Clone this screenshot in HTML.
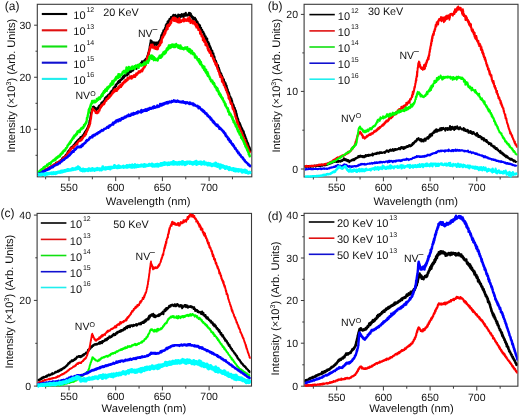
<!DOCTYPE html>
<html><head><meta charset="utf-8"><style>
html,body{margin:0;padding:0;background:#fff;}
body{width:520px;height:415px;overflow:hidden;}
svg{display:block;}
</style></head><body>
<svg width="520" height="415" viewBox="0 0 520 415" font-family='"Liberation Sans", Arial, sans-serif' fill="#111" text-rendering="geometricPrecision">
<rect width="520" height="415" fill="#ffffff"/>
<defs><clipPath id="cA"><rect x="37.6" y="0" width="213.9" height="200"/></clipPath><clipPath id="cB"><rect x="304.4" y="0" width="213.4" height="200"/></clipPath><clipPath id="cC"><rect x="37.4" y="200" width="213.8" height="200"/></clipPath><clipPath id="cD"><rect x="304.4" y="200" width="213.2" height="200"/></clipPath></defs>
<rect x="37.3" y="4.3" width="214.50" height="172.50" fill="none" stroke="#3a3a3a" stroke-width="1.1"/>
<line x1="69.0" y1="176.8" x2="69.0" y2="181.1" stroke="#3a3a3a" stroke-width="1"/>
<text x="69.0" y="191.1" font-size="10.5" text-anchor="middle" >550</text>
<line x1="115.7" y1="176.8" x2="115.7" y2="181.1" stroke="#3a3a3a" stroke-width="1"/>
<text x="115.7" y="191.1" font-size="10.5" text-anchor="middle" >600</text>
<line x1="162.4" y1="176.8" x2="162.4" y2="181.1" stroke="#3a3a3a" stroke-width="1"/>
<text x="162.4" y="191.1" font-size="10.5" text-anchor="middle" >650</text>
<line x1="209.1" y1="176.8" x2="209.1" y2="181.1" stroke="#3a3a3a" stroke-width="1"/>
<text x="209.1" y="191.1" font-size="10.5" text-anchor="middle" >700</text>
<line x1="45.65" y1="176.8" x2="45.65" y2="179.3" stroke="#3a3a3a" stroke-width="1"/>
<line x1="92.35" y1="176.8" x2="92.35" y2="179.3" stroke="#3a3a3a" stroke-width="1"/>
<line x1="139.05" y1="176.8" x2="139.05" y2="179.3" stroke="#3a3a3a" stroke-width="1"/>
<line x1="185.75" y1="176.8" x2="185.75" y2="179.3" stroke="#3a3a3a" stroke-width="1"/>
<line x1="232.45" y1="176.8" x2="232.45" y2="179.3" stroke="#3a3a3a" stroke-width="1"/>
<line x1="34.1" y1="25.2" x2="37.3" y2="25.2" stroke="#3a3a3a" stroke-width="1"/>
<text x="31.2" y="28.8" font-size="10.5" text-anchor="end" >30</text>
<line x1="34.1" y1="77.25" x2="37.3" y2="77.25" stroke="#3a3a3a" stroke-width="1"/>
<text x="31.2" y="80.8" font-size="10.5" text-anchor="end" >20</text>
<line x1="34.1" y1="129.3" x2="37.3" y2="129.3" stroke="#3a3a3a" stroke-width="1"/>
<text x="31.2" y="132.9" font-size="10.5" text-anchor="end" >10</text>
<line x1="35.5" y1="51.2" x2="37.3" y2="51.2" stroke="#3a3a3a" stroke-width="1"/>
<line x1="35.5" y1="103.3" x2="37.3" y2="103.3" stroke="#3a3a3a" stroke-width="1"/>
<line x1="35.5" y1="155.3" x2="37.3" y2="155.3" stroke="#3a3a3a" stroke-width="1"/>
<text x="148.1" y="205.0" font-size="11" text-anchor="middle" textLength="84.6" lengthAdjust="spacingAndGlyphs">Wavelength (nm)</text>
<text x="15.0" y="85.6" font-size="11" text-anchor="middle" transform="rotate(-90 15.0 85.6)" textLength="133.8" lengthAdjust="spacingAndGlyphs">Intensity (×10<tspan font-size="7" dy="-4">3</tspan><tspan dy="4">) (Arb. Units)</tspan></text>
<text x="4.8" y="10.2" font-size="12" text-anchor="start" >(a)</text>
<rect x="304.1" y="4.3" width="213.90" height="172.70" fill="none" stroke="#3a3a3a" stroke-width="1.1"/>
<line x1="336.7" y1="177.0" x2="336.7" y2="181.3" stroke="#3a3a3a" stroke-width="1"/>
<text x="336.7" y="191.3" font-size="10.5" text-anchor="middle" >550</text>
<line x1="383.4" y1="177.0" x2="383.4" y2="181.3" stroke="#3a3a3a" stroke-width="1"/>
<text x="383.4" y="191.3" font-size="10.5" text-anchor="middle" >600</text>
<line x1="430.1" y1="177.0" x2="430.1" y2="181.3" stroke="#3a3a3a" stroke-width="1"/>
<text x="430.1" y="191.3" font-size="10.5" text-anchor="middle" >650</text>
<line x1="476.8" y1="177.0" x2="476.8" y2="181.3" stroke="#3a3a3a" stroke-width="1"/>
<text x="476.8" y="191.3" font-size="10.5" text-anchor="middle" >700</text>
<line x1="313.35" y1="177.0" x2="313.35" y2="179.5" stroke="#3a3a3a" stroke-width="1"/>
<line x1="360.05" y1="177.0" x2="360.05" y2="179.5" stroke="#3a3a3a" stroke-width="1"/>
<line x1="406.75" y1="177.0" x2="406.75" y2="179.5" stroke="#3a3a3a" stroke-width="1"/>
<line x1="453.45" y1="177.0" x2="453.45" y2="179.5" stroke="#3a3a3a" stroke-width="1"/>
<line x1="500.15" y1="177.0" x2="500.15" y2="179.5" stroke="#3a3a3a" stroke-width="1"/>
<line x1="300.9" y1="14.4" x2="304.1" y2="14.4" stroke="#3a3a3a" stroke-width="1"/>
<text x="298.0" y="18.0" font-size="10.5" text-anchor="end" >20</text>
<line x1="300.9" y1="91.4" x2="304.1" y2="91.4" stroke="#3a3a3a" stroke-width="1"/>
<text x="298.0" y="95.0" font-size="10.5" text-anchor="end" >10</text>
<line x1="300.9" y1="169.0" x2="304.1" y2="169.0" stroke="#3a3a3a" stroke-width="1"/>
<text x="298.0" y="172.6" font-size="10.5" text-anchor="end" >0</text>
<line x1="302.3" y1="52.9" x2="304.1" y2="52.9" stroke="#3a3a3a" stroke-width="1"/>
<line x1="302.3" y1="130.2" x2="304.1" y2="130.2" stroke="#3a3a3a" stroke-width="1"/>
<text x="415.75" y="204.7" font-size="11" text-anchor="middle" textLength="84.6" lengthAdjust="spacingAndGlyphs">Wavelength (nm)</text>
<text x="280.0" y="85.7" font-size="11" text-anchor="middle" transform="rotate(-90 280.0 85.7)" textLength="133.8" lengthAdjust="spacingAndGlyphs">Intensity (×10<tspan font-size="7" dy="-4">3</tspan><tspan dy="4">) (Arb. Units)</tspan></text>
<text x="267.8" y="9.6" font-size="12" text-anchor="start" >(b)</text>
<rect x="37.1" y="213.4" width="214.40" height="172.70" fill="none" stroke="#3a3a3a" stroke-width="1.1"/>
<line x1="69.0" y1="386.1" x2="69.0" y2="390.4" stroke="#3a3a3a" stroke-width="1"/>
<text x="69.0" y="400.4" font-size="10.5" text-anchor="middle" >550</text>
<line x1="115.7" y1="386.1" x2="115.7" y2="390.4" stroke="#3a3a3a" stroke-width="1"/>
<text x="115.7" y="400.4" font-size="10.5" text-anchor="middle" >600</text>
<line x1="162.4" y1="386.1" x2="162.4" y2="390.4" stroke="#3a3a3a" stroke-width="1"/>
<text x="162.4" y="400.4" font-size="10.5" text-anchor="middle" >650</text>
<line x1="209.1" y1="386.1" x2="209.1" y2="390.4" stroke="#3a3a3a" stroke-width="1"/>
<text x="209.1" y="400.4" font-size="10.5" text-anchor="middle" >700</text>
<line x1="45.65" y1="386.1" x2="45.65" y2="388.6" stroke="#3a3a3a" stroke-width="1"/>
<line x1="92.35" y1="386.1" x2="92.35" y2="388.6" stroke="#3a3a3a" stroke-width="1"/>
<line x1="139.05" y1="386.1" x2="139.05" y2="388.6" stroke="#3a3a3a" stroke-width="1"/>
<line x1="185.75" y1="386.1" x2="185.75" y2="388.6" stroke="#3a3a3a" stroke-width="1"/>
<line x1="232.45" y1="386.1" x2="232.45" y2="388.6" stroke="#3a3a3a" stroke-width="1"/>
<line x1="33.9" y1="215.1" x2="37.1" y2="215.1" stroke="#3a3a3a" stroke-width="1"/>
<text x="31.0" y="218.7" font-size="10.5" text-anchor="end" >40</text>
<line x1="33.9" y1="300.4" x2="37.1" y2="300.4" stroke="#3a3a3a" stroke-width="1"/>
<text x="31.0" y="304.0" font-size="10.5" text-anchor="end" >20</text>
<line x1="33.9" y1="386.1" x2="37.1" y2="386.1" stroke="#3a3a3a" stroke-width="1"/>
<text x="31.0" y="389.7" font-size="10.5" text-anchor="end" >0</text>
<line x1="35.3" y1="257.8" x2="37.1" y2="257.8" stroke="#3a3a3a" stroke-width="1"/>
<line x1="35.3" y1="343.3" x2="37.1" y2="343.3" stroke="#3a3a3a" stroke-width="1"/>
<text x="143.85" y="412.0" font-size="11" text-anchor="middle" textLength="84.6" lengthAdjust="spacingAndGlyphs">Wavelength (nm)</text>
<text x="13.2" y="301.6" font-size="11" text-anchor="middle" transform="rotate(-90 13.2 301.6)" textLength="133.8" lengthAdjust="spacingAndGlyphs">Intensity (×10<tspan font-size="7" dy="-4">3</tspan><tspan dy="4">) (Arb. Units)</tspan></text>
<text x="0.6" y="217.0" font-size="12" text-anchor="start" >(c)</text>
<rect x="304.1" y="213.3" width="213.80" height="172.90" fill="none" stroke="#3a3a3a" stroke-width="1.1"/>
<line x1="336.7" y1="386.2" x2="336.7" y2="390.5" stroke="#3a3a3a" stroke-width="1"/>
<text x="336.7" y="400.5" font-size="10.5" text-anchor="middle" >550</text>
<line x1="383.4" y1="386.2" x2="383.4" y2="390.5" stroke="#3a3a3a" stroke-width="1"/>
<text x="383.4" y="400.5" font-size="10.5" text-anchor="middle" >600</text>
<line x1="430.1" y1="386.2" x2="430.1" y2="390.5" stroke="#3a3a3a" stroke-width="1"/>
<text x="430.1" y="400.5" font-size="10.5" text-anchor="middle" >650</text>
<line x1="476.8" y1="386.2" x2="476.8" y2="390.5" stroke="#3a3a3a" stroke-width="1"/>
<text x="476.8" y="400.5" font-size="10.5" text-anchor="middle" >700</text>
<line x1="313.35" y1="386.2" x2="313.35" y2="388.7" stroke="#3a3a3a" stroke-width="1"/>
<line x1="360.05" y1="386.2" x2="360.05" y2="388.7" stroke="#3a3a3a" stroke-width="1"/>
<line x1="406.75" y1="386.2" x2="406.75" y2="388.7" stroke="#3a3a3a" stroke-width="1"/>
<line x1="453.45" y1="386.2" x2="453.45" y2="388.7" stroke="#3a3a3a" stroke-width="1"/>
<line x1="500.15" y1="386.2" x2="500.15" y2="388.7" stroke="#3a3a3a" stroke-width="1"/>
<line x1="300.9" y1="215.5" x2="304.1" y2="215.5" stroke="#3a3a3a" stroke-width="1"/>
<text x="298.0" y="219.1" font-size="10.5" text-anchor="end" >40</text>
<line x1="300.9" y1="258.0" x2="304.1" y2="258.0" stroke="#3a3a3a" stroke-width="1"/>
<text x="298.0" y="261.6" font-size="10.5" text-anchor="end" >30</text>
<line x1="300.9" y1="300.5" x2="304.1" y2="300.5" stroke="#3a3a3a" stroke-width="1"/>
<text x="298.0" y="304.1" font-size="10.5" text-anchor="end" >20</text>
<line x1="300.9" y1="343.2" x2="304.1" y2="343.2" stroke="#3a3a3a" stroke-width="1"/>
<text x="298.0" y="346.8" font-size="10.5" text-anchor="end" >10</text>
<line x1="300.9" y1="386.2" x2="304.1" y2="386.2" stroke="#3a3a3a" stroke-width="1"/>
<text x="298.0" y="389.8" font-size="10.5" text-anchor="end" >0</text>
<line x1="302.3" y1="236.8" x2="304.1" y2="236.8" stroke="#3a3a3a" stroke-width="1"/>
<line x1="302.3" y1="279.3" x2="304.1" y2="279.3" stroke="#3a3a3a" stroke-width="1"/>
<line x1="302.3" y1="322.0" x2="304.1" y2="322.0" stroke="#3a3a3a" stroke-width="1"/>
<line x1="302.3" y1="364.8" x2="304.1" y2="364.8" stroke="#3a3a3a" stroke-width="1"/>
<text x="411.5" y="412.2" font-size="11" text-anchor="middle" textLength="84.6" lengthAdjust="spacingAndGlyphs">Wavelength (nm)</text>
<text x="279.2" y="308.5" font-size="11" text-anchor="middle" transform="rotate(-90 279.2 308.5)" textLength="133.8" lengthAdjust="spacingAndGlyphs">Intensity (×10<tspan font-size="7" dy="-4">3</tspan><tspan dy="4">) (Arb. Units)</tspan></text>
<text x="267.8" y="220.0" font-size="12" text-anchor="start" >(d)</text>
<path d="M38.1 174.3 38.2 174.3 38.4 174.1 38.6 173.8 38.8 173.8 39.1 173.5 39.4 173.6 39.6 173.8 39.9 173.2 40.1 173.0 40.4 173.1 40.7 172.9 40.9 172.7 41.2 172.3 41.4 172.4 41.7 172.4 42.0 171.7 42.2 171.8 42.5 171.2 42.7 171.3 43.0 170.9 43.3 171.3 43.5 170.8 43.8 171.1 44.0 170.9 44.3 170.7 44.6 169.8 44.8 170.3 45.1 170.3 45.3 170.2 45.6 169.5 45.9 169.7 46.1 169.4 46.4 169.3 46.6 169.7 46.9 169.0 47.1 169.1 47.4 169.2 47.7 168.6 47.9 168.6 48.2 168.5 48.4 168.3 48.7 167.8 49.0 168.0 49.2 168.3 49.5 167.2 49.7 167.8 50.0 167.4 50.3 167.0 50.5 167.8 50.8 167.2 51.0 166.4 51.3 166.7 51.6 166.7 51.8 166.3 52.1 166.4 52.3 166.0 52.6 166.1 52.8 166.2 53.1 165.3 53.3 165.5 53.6 165.1 53.8 165.1 54.1 164.5 54.3 164.5 54.6 164.5 54.9 164.7 55.1 164.6 55.4 163.6 55.6 163.6 55.9 164.0 56.1 162.9 56.4 163.3 56.6 163.2 56.9 163.6 57.1 163.2 57.4 162.7 57.6 162.5 57.9 162.4 58.1 162.8 58.4 162.0 58.6 161.8 58.9 161.9 59.1 161.6 59.4 161.4 59.6 160.9 59.9 161.1 60.1 160.8 60.3 161.2 60.6 160.8 60.8 160.3 61.0 160.4 61.2 159.8 61.4 160.1 61.6 159.5 61.9 159.5 62.1 158.6 62.3 159.0 62.5 158.0 62.7 157.7 62.9 158.1 63.2 157.7 63.4 157.9 63.6 158.5 63.8 157.1 64.0 157.0 64.2 157.1 64.5 157.0 64.7 156.5 64.9 156.3 65.1 156.4 65.3 156.2 65.5 155.3 65.7 155.5 65.9 155.3 66.1 154.6 66.3 155.0 66.5 154.3 66.7 154.8 66.9 154.2 67.0 153.9 67.2 153.4 67.4 153.3 67.5 152.3 67.7 152.4 67.9 152.8 68.0 151.5 68.2 152.5 68.3 151.1 68.5 152.0 68.7 151.0 68.8 151.5 69.0 150.9 69.2 150.0 69.3 150.9 69.5 150.8 69.7 149.8 69.8 149.5 70.0 149.3 70.2 148.7 70.3 149.4 70.5 148.4 70.7 148.4 70.9 147.8 71.1 147.6 71.3 147.1 71.5 148.1 71.7 147.2 71.9 147.5 72.1 146.9 72.3 146.4 72.6 146.3 72.8 146.0 73.0 146.1 73.2 145.7 73.4 145.5 73.7 144.8 73.9 144.9 74.1 145.8 74.3 144.5 74.5 144.1 74.7 144.5 74.9 144.8 75.1 143.2 75.3 143.6 75.5 143.2 75.7 142.4 75.9 143.4 76.1 142.8 76.2 142.6 76.4 141.9 76.6 142.3 76.8 141.6 77.0 141.5 77.2 140.8 77.3 140.5 77.5 141.5 77.7 140.4 77.9 140.5 78.1 140.1 78.3 139.7 78.5 139.5 78.7 139.8 78.9 139.1 79.1 139.0 79.3 138.9 79.6 139.3 79.8 138.8 80.0 138.5 80.2 137.8 80.5 137.2 80.7 138.2 80.9 138.0 81.1 137.2 81.4 137.4 81.6 137.3 81.8 137.1 82.0 137.0 82.3 136.1 82.5 136.9 82.7 135.2 82.9 136.1 83.1 135.7 83.3 135.7 83.5 136.0 83.7 135.6 83.9 133.9 84.0 133.4 84.2 134.5 84.4 133.3 84.5 133.5 84.7 133.7 84.9 132.2 85.1 131.7 85.2 132.7 85.4 132.3 85.6 131.9 85.7 131.8 85.9 131.1 86.1 130.5 86.2 131.0 86.3 130.2 86.5 129.6 86.6 130.5 86.7 129.9 86.9 129.9 87.0 128.9 87.1 128.8 87.2 128.3 87.3 128.1 87.4 128.4 87.6 127.6 87.7 128.0 87.8 127.7 87.9 128.4 88.0 126.2 88.2 127.2 88.3 126.3 88.4 126.1 88.5 125.0 88.6 125.3 88.7 125.7 88.9 125.0 89.0 124.8 89.1 124.3 89.2 124.8 89.3 123.9 89.3 122.3 89.4 122.9 89.5 121.9 89.5 120.8 89.6 122.1 89.6 122.9 89.7 121.9 89.7 120.8 89.8 120.7 89.8 121.6 89.9 120.7 89.9 120.4 90.0 120.0 90.1 119.8 90.1 119.9 90.2 119.5 90.2 119.0 90.3 117.9 90.3 118.6 90.4 117.6 90.4 118.4 90.5 116.6 90.5 117.0 90.6 116.8 90.6 115.7 90.7 117.3 90.7 116.8 90.8 115.3 90.8 115.8 90.9 115.3 90.9 113.1 91.0 114.6 91.0 114.1 91.1 113.9 91.1 112.9 91.2 113.1 91.3 112.8 91.3 113.4 91.4 112.6 91.4 112.1 91.5 112.8 91.5 111.1 91.6 110.9 91.7 109.7 91.8 111.6 91.8 110.9 91.9 110.6 92.0 110.2 92.1 109.5 92.2 109.3 92.3 108.7 92.4 108.5 92.5 108.4 92.6 109.0 92.7 108.1 92.8 107.5 92.9 106.9 93.0 106.8 93.1 108.2 93.3 107.4 93.4 107.2 93.6 107.0 93.8 106.6 94.0 107.5 94.1 108.4 94.3 107.8 94.5 108.1 94.7 108.4 94.9 108.8 95.1 107.8 95.3 108.8 95.5 108.5 95.8 109.7 96.0 108.6 96.3 109.4 96.5 110.0 96.8 108.6 97.0 108.3 97.3 108.6 97.5 108.3 97.7 107.5 97.9 108.2 98.1 109.0 98.3 107.3 98.5 107.1 98.7 106.3 98.9 107.0 99.1 105.7 99.3 105.6 99.5 107.0 99.7 105.3 99.9 106.4 100.0 106.4 100.2 105.3 100.4 105.3 100.6 106.0 100.8 104.3 101.0 103.8 101.2 103.1 101.4 103.8 101.6 104.6 101.8 104.0 101.9 102.4 102.1 102.3 102.3 102.3 102.5 102.6 102.7 102.0 102.9 102.1 103.1 101.9 103.3 101.3 103.5 101.2 103.7 101.2 103.9 100.7 104.1 100.9 104.3 101.6 104.5 100.5 104.6 99.9 104.8 98.5 105.0 99.7 105.2 97.8 105.4 97.9 105.6 99.3 105.8 99.0 106.0 98.1 106.2 96.8 106.4 97.5 106.6 97.1 106.8 97.8 107.0 98.7 107.2 97.0 107.4 96.1 107.6 95.6 107.8 96.2 108.0 95.9 108.2 94.9 108.4 95.6 108.6 94.5 108.8 95.9 109.0 95.6 109.2 95.4 109.4 94.1 109.6 94.6 109.8 93.9 110.0 93.5 110.2 93.3 110.4 92.4 110.6 92.0 110.8 93.4 111.0 92.5 111.2 92.6 111.4 92.9 111.6 90.7 111.8 91.1 112.0 91.6 112.1 91.5 112.3 90.7 112.5 91.5 112.7 90.7 112.9 89.4 113.0 89.4 113.2 90.4 113.4 89.9 113.5 87.9 113.7 90.0 113.8 89.2 114.0 89.5 114.2 88.0 114.3 87.8 114.5 86.9 114.7 89.4 114.8 87.2 115.0 88.2 115.2 86.3 115.3 86.7 115.5 85.0 115.7 85.7 115.8 86.5 116.0 84.6 116.2 86.1 116.3 85.3 116.5 84.0 116.7 84.2 116.8 83.9 117.0 84.0 117.2 83.4 117.4 83.0 117.6 83.1 117.8 82.4 118.0 81.9 118.2 82.7 118.4 83.2 118.6 81.1 118.8 82.1 119.0 81.3 119.2 80.9 119.4 82.1 119.7 80.8 119.9 82.1 120.1 80.1 120.3 80.8 120.5 80.1 120.7 79.5 120.9 80.3 121.1 79.5 121.3 79.9 121.5 79.2 121.7 78.2 121.9 78.7 122.2 78.6 122.4 79.1 122.6 77.5 122.8 77.9 123.0 76.4 123.3 78.1 123.5 76.5 123.7 75.7 123.9 76.9 124.1 77.6 124.4 75.3 124.6 75.5 124.8 75.5 125.0 75.0 125.2 76.0 125.5 74.9 125.7 74.7 125.9 75.6 126.1 74.3 126.3 75.1 126.6 73.7 126.8 73.3 127.0 72.6 127.2 75.4 127.4 73.4 127.7 73.7 127.9 73.3 128.1 73.2 128.3 72.9 128.5 74.2 128.8 71.6 129.0 71.0 129.2 71.3 129.5 70.8 129.7 72.3 129.9 72.2 130.2 70.6 130.4 70.1 130.7 70.7 130.9 72.0 131.2 68.4 131.4 71.0 131.7 69.5 131.9 71.1 132.2 69.1 132.4 69.6 132.7 68.5 132.9 68.7 133.2 70.5 133.4 69.9 133.7 68.7 133.9 68.2 134.2 67.1 134.4 68.2 134.7 68.4 134.9 68.2 135.2 68.0 135.4 67.0 135.7 67.7 136.0 67.5 136.2 68.5 136.5 68.8 136.7 67.0 137.0 66.3 137.2 66.7 137.5 66.1 137.7 65.8 138.0 66.2 138.2 65.2 138.5 66.4 138.7 65.7 138.9 65.8 139.2 65.2 139.4 64.6 139.7 64.2 139.9 64.7 140.1 64.2 140.4 64.7 140.6 64.3 140.9 63.0 141.1 64.0 141.3 62.6 141.6 63.0 141.8 63.1 142.0 61.4 142.3 63.1 142.5 62.9 142.7 62.5 143.0 62.1 143.2 61.9 143.4 61.2 143.7 61.6 143.9 61.2 144.2 61.6 144.4 60.3 144.6 61.3 144.9 61.1 145.1 60.6 145.3 60.2 145.5 60.8 145.7 58.7 145.9 60.3 146.0 59.8 146.2 59.6 146.3 59.5 146.5 58.3 146.6 58.4 146.7 58.9 146.9 58.4 147.0 58.0 147.1 56.2 147.3 57.7 147.4 58.0 147.5 57.6 147.7 56.6 147.8 54.8 147.9 56.7 148.0 55.5 148.1 53.1 148.2 55.4 148.3 53.4 148.4 53.3 148.4 53.6 148.5 55.0 148.6 53.3 148.6 53.5 148.7 54.6 148.7 54.1 148.8 52.3 148.8 51.9 148.9 50.7 149.0 50.9 149.0 51.6 149.1 51.3 149.1 50.7 149.2 51.3 149.2 49.4 149.3 49.7 149.4 50.1 149.4 49.7 149.5 49.9 149.5 48.9 149.6 48.0 149.6 48.3 149.7 46.8 149.8 45.9 149.8 47.6 149.9 46.8 149.9 46.8 150.0 44.7 150.1 45.6 150.1 45.1 150.2 44.5 150.3 43.0 150.3 44.4 150.4 45.3 150.4 44.5 150.5 43.3 150.6 43.6 150.6 44.0 150.7 40.4 150.7 42.6 150.8 42.9 150.9 42.8 151.0 43.5 151.1 42.8 151.2 41.9 151.3 41.8 151.5 42.3 151.7 41.1 151.8 41.6 152.1 42.7 152.3 43.9 152.5 42.1 152.7 42.4 153.0 42.8 153.2 44.1 153.4 43.0 153.7 44.6 153.9 42.4 154.1 43.3 154.4 43.4 154.7 44.5 154.9 44.8 155.2 42.5 155.5 43.1 155.8 44.3 156.1 43.3 156.4 42.5 156.7 44.9 156.9 44.3 157.2 44.2 157.4 43.2 157.7 44.5 157.9 43.1 158.1 44.2 158.3 42.1 158.5 41.9 158.7 42.7 158.9 41.6 159.1 42.7 159.3 42.0 159.4 40.7 159.6 41.4 159.7 40.7 159.8 41.6 160.0 39.9 160.1 39.8 160.2 41.1 160.3 41.8 160.4 41.3 160.5 39.1 160.6 39.0 160.7 40.0 160.8 38.1 160.9 37.0 161.0 37.8 161.1 37.8 161.2 36.3 161.3 35.2 161.4 35.1 161.5 36.9 161.6 35.2 161.7 35.5 161.8 35.6 161.9 35.7 162.0 34.5 162.1 35.1 162.3 33.4 162.4 33.7 162.5 32.8 162.6 34.6 162.8 33.2 162.9 32.2 163.0 32.3 163.1 32.2 163.3 32.8 163.4 30.3 163.5 30.6 163.6 30.9 163.8 33.5 163.9 31.7 164.0 30.4 164.2 30.9 164.3 32.0 164.4 29.4 164.6 29.0 164.7 30.3 164.8 29.4 165.0 29.3 165.1 27.8 165.2 30.0 165.4 29.5 165.5 28.1 165.6 28.0 165.8 25.0 165.9 27.4 166.1 26.3 166.2 26.6 166.3 26.6 166.5 25.3 166.6 23.7 166.8 25.5 167.0 24.2 167.1 24.3 167.3 23.8 167.4 23.8 167.6 21.6 167.8 24.9 167.9 23.6 168.1 24.3 168.3 24.9 168.4 22.7 168.6 20.5 168.7 21.2 168.9 20.6 169.1 21.1 169.2 21.5 169.4 19.1 169.6 21.2 169.7 19.1 169.9 20.7 170.1 20.0 170.2 19.5 170.4 19.5 170.6 18.8 170.7 18.5 170.9 17.1 171.1 18.6 171.2 20.3 171.4 20.2 171.6 19.3 171.7 18.4 171.9 16.7 172.1 18.6 172.3 16.8 172.4 16.6 172.6 16.1 172.8 16.3 173.0 15.6 173.2 15.8 173.4 14.7 173.7 15.4 173.9 18.2 174.2 15.7 174.5 15.6 174.8 16.5 175.0 16.8 175.3 14.9 175.6 16.0 175.9 17.2 176.2 16.6 176.5 16.6 176.8 18.1 177.1 15.9 177.4 16.7 177.7 16.1 177.9 18.2 178.2 14.6 178.5 16.0 178.8 16.1 179.1 17.3 179.4 17.2 179.7 17.9 180.0 14.8 180.3 17.2 180.6 16.0 180.9 15.6 181.2 16.8 181.5 15.2 181.8 14.0 182.1 15.7 182.4 14.5 182.7 15.3 183.0 16.3 183.2 16.1 183.5 17.4 183.8 15.4 184.1 13.9 184.4 14.6 184.7 14.4 185.0 13.9 185.2 15.6 185.5 14.3 185.8 12.8 186.1 15.6 186.4 14.6 186.7 15.0 186.9 14.7 187.2 15.2 187.5 14.5 187.8 15.6 188.1 14.7 188.4 14.6 188.7 14.6 189.0 12.7 189.2 14.1 189.5 14.0 189.7 14.6 190.0 13.1 190.2 16.4 190.4 15.0 190.6 13.9 190.8 13.6 191.0 15.3 191.2 15.7 191.4 15.3 191.6 16.4 191.8 15.8 192.0 17.3 192.1 16.2 192.3 17.1 192.5 18.4 192.7 20.3 192.9 16.8 193.1 17.6 193.3 17.4 193.5 19.3 193.7 17.6 193.9 18.5 194.1 19.1 194.4 18.4 194.6 18.6 194.8 19.3 195.0 17.9 195.2 18.8 195.4 20.1 195.6 20.9 195.8 20.7 196.0 19.3 196.2 20.9 196.4 22.4 196.6 22.4 196.8 21.9 197.0 21.3 197.2 23.1 197.4 22.1 197.5 21.8 197.7 22.4 197.9 24.9 198.0 23.9 198.2 25.2 198.3 23.8 198.5 25.4 198.7 24.1 198.8 24.9 199.0 27.8 199.1 26.3 199.3 25.3 199.4 26.0 199.6 26.6 199.7 27.8 199.9 26.3 200.0 25.3 200.2 27.0 200.4 27.6 200.5 28.0 200.7 29.4 200.8 28.7 201.0 29.4 201.1 27.8 201.3 30.0 201.4 31.5 201.6 30.4 201.7 30.2 201.9 30.3 202.0 32.2 202.1 29.8 202.3 30.9 202.4 31.7 202.6 32.2 202.7 31.4 202.8 32.3 203.0 32.0 203.1 32.7 203.2 32.7 203.4 32.0 203.5 33.4 203.7 34.5 203.8 33.0 203.9 33.9 204.1 35.1 204.2 33.7 204.4 35.2 204.5 34.2 204.6 36.6 204.8 38.0 204.9 38.0 205.1 36.1 205.2 37.3 205.3 37.0 205.5 37.2 205.6 38.9 205.7 36.4 205.9 38.9 206.0 38.1 206.2 39.8 206.3 38.9 206.4 38.3 206.5 39.5 206.7 40.2 206.8 39.8 206.9 40.5 207.0 39.8 207.2 38.6 207.3 41.7 207.4 41.8 207.6 41.6 207.7 41.8 207.8 43.0 207.9 41.8 208.1 41.9 208.2 42.6 208.3 44.2 208.4 42.0 208.6 44.7 208.7 43.3 208.8 43.1 208.9 45.6 209.1 44.6 209.2 43.8 209.3 44.9 209.4 46.4 209.6 46.9 209.7 45.7 209.8 46.7 209.9 47.3 210.1 46.3 210.2 47.5 210.3 47.4 210.4 47.2 210.6 47.5 210.7 48.3 210.8 48.6 210.9 48.3 211.0 48.7 211.1 50.4 211.3 49.8 211.4 50.7 211.5 51.3 211.6 51.0 211.7 52.8 211.8 50.3 211.9 52.1 212.0 51.3 212.1 53.6 212.2 53.7 212.3 50.7 212.4 51.9 212.5 53.6 212.7 54.0 212.8 54.2 212.9 53.8 213.0 54.5 213.1 55.0 213.2 54.6 213.3 55.9 213.4 53.2 213.5 56.1 213.6 54.9 213.7 56.9 213.8 56.2 213.9 55.9 214.0 57.3 214.2 56.4 214.3 56.7 214.4 56.4 214.5 58.0 214.6 58.8 214.7 59.5 214.8 58.8 214.9 60.1 215.0 59.5 215.1 59.7 215.2 60.5 215.3 61.2 215.4 60.3 215.5 60.6 215.7 61.0 215.8 61.5 215.9 60.9 216.0 62.9 216.1 61.9 216.2 62.9 216.3 62.1 216.4 63.4 216.5 63.7 216.6 63.3 216.7 65.7 216.9 64.5 217.0 66.0 217.1 65.6 217.2 64.5 217.3 65.0 217.4 66.0 217.5 65.9 217.6 66.2 217.7 66.2 217.8 65.2 217.9 66.8 218.1 65.4 218.2 67.9 218.3 67.2 218.4 67.5 218.5 68.2 218.6 68.9 218.7 67.8 218.8 67.8 218.9 68.7 219.0 68.1 219.1 69.3 219.2 71.7 219.4 69.8 219.5 71.5 219.6 70.1 219.7 71.7 219.8 71.5 219.9 72.0 220.0 72.8 220.1 74.0 220.3 73.0 220.4 73.3 220.5 72.6 220.6 74.2 220.7 73.8 220.9 74.9 221.0 74.5 221.1 76.2 221.2 73.5 221.4 75.1 221.5 76.3 221.6 75.6 221.7 75.5 221.8 76.2 222.0 75.6 222.1 77.1 222.2 79.2 222.3 78.5 222.5 76.9 222.6 77.4 222.7 78.0 222.8 79.4 222.9 78.3 223.1 78.6 223.2 80.2 223.3 80.4 223.4 79.7 223.6 79.4 223.7 79.3 223.8 80.3 223.9 79.4 224.1 82.0 224.2 81.2 224.3 82.3 224.4 83.7 224.5 83.4 224.7 81.9 224.8 83.7 224.9 84.2 225.0 83.0 225.2 83.1 225.3 84.0 225.4 83.2 225.5 85.8 225.6 83.1 225.8 84.4 225.9 85.3 226.0 85.6 226.1 86.2 226.2 86.5 226.3 86.4 226.5 87.7 226.6 85.6 226.7 87.4 226.8 87.2 226.9 88.1 227.0 88.5 227.1 87.9 227.2 88.4 227.3 89.7 227.4 89.7 227.5 89.2 227.6 91.5 227.7 92.0 227.8 89.5 227.9 91.0 228.0 92.9 228.1 92.0 228.2 91.8 228.3 91.8 228.5 91.8 228.6 92.4 228.7 92.4 228.8 93.6 228.9 93.1 229.0 93.3 229.1 93.0 229.2 94.2 229.3 93.8 229.4 94.6 229.5 95.8 229.6 95.6 229.7 96.0 229.8 96.1 229.9 96.2 230.0 96.4 230.1 96.5 230.2 97.5 230.3 96.5 230.5 98.5 230.6 97.9 230.7 97.6 230.8 98.1 230.9 98.2 231.0 99.1 231.1 98.8 231.2 100.3 231.3 99.3 231.4 98.5 231.5 99.9 231.6 99.3 231.7 100.9 231.8 102.0 231.9 101.9 232.1 100.9 232.2 101.5 232.3 103.6 232.4 102.8 232.5 102.9 232.6 103.9 232.7 105.1 232.8 104.6 232.9 104.1 233.0 104.5 233.1 105.0 233.2 104.5 233.3 104.4 233.4 105.5 233.6 105.1 233.7 105.9 233.8 106.3 233.9 108.1 234.0 106.3 234.1 107.0 234.2 107.3 234.3 108.0 234.4 108.6 234.5 107.9 234.6 108.0 234.7 107.7 234.8 108.5 234.9 109.7 235.1 109.7 235.2 109.3 235.3 110.0 235.4 110.5 235.5 111.1 235.6 110.7 235.6 111.2 235.7 110.5 235.8 111.2 235.9 113.2 236.0 111.1 236.1 112.6 236.1 113.2 236.2 113.1 236.3 113.1 236.4 113.9 236.5 114.2 236.6 114.5 236.6 113.6 236.7 115.0 236.8 114.8 236.9 115.3 237.0 116.1 237.1 116.6 237.1 117.1 237.2 116.5 237.3 117.7 237.4 118.1 237.5 118.4 237.6 118.8 237.6 118.2 237.7 118.4 237.8 119.3 237.9 118.3 238.0 119.5 238.1 119.4 238.1 119.8 238.2 119.2 238.3 120.0 238.4 120.8 238.5 121.7 238.6 122.0 238.7 121.7 238.8 121.9 238.9 121.8 239.0 122.8 239.2 122.7 239.3 123.4 239.4 124.4 239.5 123.6 239.7 123.0 239.8 123.7 239.9 123.6 240.1 124.0 240.2 125.7 240.3 125.4 240.4 124.6 240.6 126.2 240.7 126.8 240.8 126.1 241.0 126.2 241.1 126.7 241.2 127.3 241.3 127.8 241.5 128.4 241.6 128.6 241.7 128.9 241.8 129.3 242.0 129.2 242.1 128.2 242.2 129.3 242.4 129.8 242.5 129.7 242.6 130.6 242.7 130.2 242.9 130.2 243.0 131.7 243.1 131.6 243.2 131.6 243.3 132.3 243.5 132.6 243.6 132.5 243.7 131.3 243.8 132.5 243.9 132.9 244.0 132.9 244.1 133.9 244.2 134.7 244.3 134.0 244.4 134.0 244.5 135.9 244.6 134.9 244.8 134.8 244.9 135.8 245.0 136.2 245.1 135.9 245.2 137.0 245.3 136.6 245.4 136.6 245.5 137.5 245.6 138.1 245.7 137.6 245.8 138.4 245.9 138.5 246.0 140.2 246.2 138.7 246.3 140.0 246.4 139.6 246.5 139.8 246.6 140.5 246.7 140.9 246.8 141.4 246.9 141.2 247.0 141.0 247.1 141.3 247.2 142.1 247.3 142.4 247.4 143.1 247.6 142.9 247.7 143.5 247.8 144.0 247.9 143.6 248.0 143.1 248.1 143.6 248.2 143.7 248.3 145.4 248.4 144.6 248.5 145.8 248.6 145.8 248.7 146.6 248.9 146.5 249.0 146.3 249.1 146.5 249.2 147.0 249.3 147.3 249.4 147.2 249.5 147.7 249.6 148.8 249.7 147.5 249.8 148.7 249.9 148.5 250.0 149.2 250.1 149.8 250.3 149.7 250.4 150.3 250.5 149.6 250.6 151.0 250.6 150.5 250.7 151.2 250.8 151.2" fill="none" stroke="#000000" stroke-width="2.1" stroke-linejoin="round" clip-path="url(#cA)"/>
<path d="M38.1 173.6 38.2 174.0 38.4 174.2 38.6 174.5 38.8 174.0 39.1 173.8 39.4 173.2 39.6 173.9 39.9 173.8 40.1 173.2 40.4 172.9 40.7 172.4 40.9 173.0 41.2 173.4 41.4 172.6 41.7 172.6 42.0 172.3 42.2 171.6 42.5 172.2 42.7 171.3 43.0 171.4 43.3 171.4 43.5 171.5 43.8 171.2 44.0 171.0 44.3 170.5 44.6 170.2 44.8 170.5 45.1 170.1 45.3 169.7 45.6 169.6 45.9 169.7 46.1 169.1 46.4 169.1 46.6 168.8 46.9 169.3 47.1 169.2 47.4 169.6 47.7 168.3 47.9 168.4 48.2 168.8 48.4 168.2 48.7 168.1 49.0 168.6 49.2 167.7 49.5 167.3 49.7 167.1 50.0 167.5 50.3 167.4 50.5 166.6 50.8 166.6 51.0 167.0 51.3 166.8 51.6 166.3 51.8 166.6 52.1 166.4 52.3 165.4 52.6 165.8 52.8 165.9 53.1 165.4 53.4 164.7 53.6 165.2 53.9 165.4 54.1 165.6 54.4 164.0 54.7 165.6 54.9 164.1 55.2 164.7 55.4 164.7 55.7 164.4 56.0 164.0 56.2 163.3 56.5 163.8 56.7 163.2 57.0 162.4 57.3 164.2 57.5 163.3 57.8 163.5 58.0 162.4 58.3 163.1 58.6 163.0 58.8 162.8 59.1 162.1 59.3 161.5 59.6 161.7 59.8 160.8 60.1 160.8 60.3 161.3 60.5 160.7 60.7 160.8 61.0 160.6 61.2 161.2 61.4 160.8 61.6 160.0 61.8 160.3 62.0 159.3 62.3 159.3 62.5 159.6 62.7 158.5 62.9 158.7 63.1 158.0 63.3 158.4 63.6 158.8 63.8 157.6 64.0 157.8 64.2 157.2 64.4 156.8 64.6 156.6 64.9 157.5 65.1 157.7 65.3 156.7 65.5 156.0 65.7 156.4 65.9 155.7 66.1 156.0 66.3 155.5 66.5 155.3 66.7 155.2 66.9 154.4 67.0 154.3 67.2 153.5 67.4 153.8 67.6 153.1 67.7 153.4 67.9 152.8 68.1 153.0 68.3 152.9 68.4 151.9 68.6 151.9 68.8 151.6 69.0 152.1 69.1 152.3 69.3 151.6 69.5 150.9 69.6 151.4 69.8 149.8 70.0 151.0 70.2 149.7 70.3 148.5 70.5 150.8 70.7 150.1 70.9 148.6 71.1 149.0 71.3 148.6 71.6 148.5 71.8 147.6 72.0 147.8 72.3 148.1 72.5 147.8 72.7 148.1 73.0 147.4 73.2 148.3 73.4 146.7 73.7 146.9 73.9 145.7 74.1 145.8 74.4 146.9 74.6 145.6 74.8 146.1 75.0 145.6 75.2 144.9 75.4 145.0 75.6 144.7 75.8 144.5 76.0 144.9 76.2 144.6 76.4 143.8 76.6 143.4 76.8 143.7 77.0 143.3 77.2 143.6 77.4 144.2 77.6 143.1 77.8 142.4 78.0 142.1 78.2 141.6 78.4 141.3 78.6 141.1 78.8 141.2 79.0 140.9 79.2 141.3 79.5 140.5 79.7 140.4 79.9 139.7 80.1 141.0 80.4 140.2 80.6 140.7 80.8 140.0 81.0 140.2 81.3 139.0 81.5 139.4 81.7 140.2 82.0 137.9 82.2 139.0 82.4 139.1 82.6 138.2 82.8 138.2 83.0 138.2 83.2 137.0 83.4 137.3 83.6 136.4 83.8 136.2 83.9 136.0 84.1 136.0 84.2 135.9 84.4 135.8 84.5 134.5 84.7 136.2 84.9 135.5 85.0 135.0 85.2 134.1 85.3 134.0 85.5 134.1 85.7 133.8 85.8 132.3 86.0 133.5 86.1 134.5 86.2 131.4 86.4 132.8 86.5 132.2 86.6 131.6 86.8 132.2 86.9 130.5 87.0 131.0 87.1 131.5 87.2 130.2 87.4 129.8 87.5 129.8 87.6 129.2 87.7 130.1 87.8 128.4 88.0 129.2 88.1 127.6 88.2 128.5 88.3 127.8 88.4 126.0 88.6 127.3 88.7 126.4 88.8 126.5 88.9 127.4 89.0 125.5 89.2 125.3 89.3 126.5 89.4 125.4 89.5 126.1 89.6 125.0 89.7 124.0 89.8 124.2 89.9 124.7 90.0 124.3 90.1 123.4 90.1 123.1 90.2 122.7 90.2 122.1 90.3 123.4 90.3 121.9 90.4 120.9 90.4 121.0 90.5 121.5 90.5 121.1 90.6 120.3 90.6 119.7 90.7 119.9 90.7 118.4 90.8 118.4 90.8 119.5 90.9 118.3 90.9 118.6 91.0 118.9 91.0 118.2 91.1 117.5 91.1 118.6 91.2 117.3 91.2 116.3 91.3 116.8 91.3 116.3 91.4 115.1 91.4 115.4 91.5 115.0 91.5 113.5 91.6 114.4 91.6 114.0 91.6 113.6 91.7 112.5 91.7 113.1 91.8 113.0 91.8 112.8 91.9 111.6 91.9 112.6 92.0 111.0 92.0 111.4 92.1 112.2 92.1 110.5 92.2 110.3 92.2 111.1 92.3 109.9 92.4 109.8 92.5 110.0 92.7 110.5 92.9 108.2 93.1 109.2 93.3 109.2 93.5 109.3 93.8 109.6 94.0 109.8 94.3 110.8 94.5 110.1 94.7 111.0 94.9 111.4 95.2 110.8 95.4 111.6 95.6 112.9 95.8 112.2 96.0 111.7 96.2 112.3 96.4 111.9 96.6 112.8 96.8 113.3 97.0 112.1 97.2 112.5 97.4 113.3 97.5 112.0 97.7 112.3 97.9 111.2 98.0 111.1 98.2 111.0 98.4 112.6 98.5 110.6 98.7 110.3 98.8 110.0 99.0 110.0 99.2 110.3 99.3 109.8 99.5 110.8 99.7 109.3 99.8 109.9 100.0 108.8 100.2 108.8 100.3 107.1 100.5 107.8 100.7 107.6 100.8 107.2 101.0 105.6 101.2 107.5 101.3 106.4 101.5 106.1 101.7 106.0 101.9 105.8 102.1 106.0 102.2 104.5 102.4 104.6 102.6 105.2 102.8 104.9 103.0 104.3 103.2 103.9 103.4 103.5 103.6 103.8 103.8 104.5 104.0 102.6 104.2 104.3 104.4 103.5 104.6 102.4 104.8 103.0 105.0 101.2 105.2 100.8 105.4 100.8 105.6 101.3 105.7 101.1 105.9 100.7 106.1 100.9 106.3 99.1 106.5 100.8 106.7 99.1 106.9 99.4 107.1 99.4 107.3 98.6 107.5 98.2 107.6 98.3 107.8 98.8 108.0 99.0 108.2 98.7 108.4 97.3 108.6 97.2 108.8 96.9 109.0 97.7 109.2 95.6 109.3 97.8 109.5 96.3 109.7 95.8 109.9 96.5 110.1 96.7 110.3 96.0 110.5 96.3 110.7 95.4 110.8 96.0 111.0 95.7 111.2 94.5 111.4 95.4 111.6 94.2 111.8 93.9 112.0 92.9 112.2 93.2 112.4 93.8 112.6 92.0 112.8 93.3 113.0 92.8 113.3 92.6 113.5 90.5 113.7 91.9 113.9 92.3 114.2 91.0 114.4 91.4 114.6 89.3 114.8 91.5 115.1 90.3 115.3 91.3 115.5 88.9 115.7 90.7 116.0 89.8 116.2 90.4 116.4 88.9 116.6 88.9 116.9 91.0 117.1 88.3 117.3 88.2 117.6 88.4 117.8 87.6 118.0 89.2 118.2 89.4 118.4 87.2 118.7 86.2 118.9 88.3 119.1 88.1 119.3 87.6 119.5 87.7 119.7 85.9 120.0 86.2 120.2 85.0 120.4 84.8 120.6 86.5 120.8 85.0 121.0 87.1 121.2 85.1 121.4 84.3 121.7 85.3 121.9 85.9 122.1 84.6 122.3 83.0 122.5 84.1 122.7 84.7 122.9 83.0 123.1 82.5 123.4 83.8 123.6 82.9 123.8 81.6 124.0 82.0 124.2 81.5 124.4 82.1 124.7 81.8 124.9 82.5 125.1 81.9 125.3 79.8 125.6 81.3 125.8 81.5 126.1 81.0 126.3 81.3 126.5 79.8 126.8 79.3 127.0 80.6 127.3 78.8 127.5 77.7 127.8 80.2 128.0 78.6 128.3 78.8 128.5 77.7 128.8 77.6 129.1 77.6 129.3 78.2 129.6 78.6 129.8 76.2 130.1 78.6 130.4 76.9 130.6 76.8 130.9 78.1 131.1 77.3 131.4 76.0 131.7 78.7 131.9 76.2 132.2 77.0 132.4 76.8 132.7 77.7 133.0 76.0 133.2 77.1 133.5 75.4 133.7 76.9 134.0 75.1 134.3 75.3 134.5 77.1 134.8 75.6 135.0 75.2 135.3 76.9 135.5 75.1 135.8 74.0 136.1 75.1 136.3 73.3 136.6 75.2 136.8 75.1 137.1 73.4 137.3 73.2 137.6 73.7 137.8 73.4 138.1 72.4 138.3 73.6 138.6 71.2 138.9 72.4 139.1 72.3 139.4 72.2 139.6 72.5 139.9 71.1 140.1 72.5 140.4 71.6 140.6 71.1 140.9 70.3 141.1 70.3 141.4 71.5 141.6 70.1 141.8 70.8 142.0 71.5 142.2 71.2 142.3 71.4 142.5 69.6 142.6 68.6 142.8 70.2 142.9 69.3 143.1 69.7 143.2 68.5 143.3 69.3 143.5 68.7 143.6 68.3 143.7 67.9 143.9 67.5 144.0 67.1 144.1 66.8 144.3 67.2 144.4 65.6 144.6 67.4 144.7 65.5 144.8 66.2 145.0 64.9 145.1 64.5 145.2 66.3 145.4 63.9 145.5 62.8 145.6 63.0 145.8 63.1 145.9 65.1 146.0 63.0 146.1 63.4 146.2 61.4 146.3 62.3 146.3 62.3 146.4 63.1 146.5 60.5 146.6 61.4 146.6 60.8 146.7 59.3 146.8 59.9 146.9 59.4 146.9 57.2 147.0 59.6 147.1 59.3 147.2 58.1 147.2 57.0 147.3 59.3 147.4 57.9 147.5 58.3 147.5 58.4 147.6 56.3 147.7 57.2 147.8 56.0 147.8 55.8 147.9 55.5 148.0 55.3 148.1 56.1 148.1 54.8 148.2 54.3 148.3 53.9 148.4 54.2 148.4 52.7 148.5 52.8 148.6 52.9 148.7 52.1 148.7 52.3 148.8 51.5 148.9 53.7 149.0 52.8 149.0 51.7 149.1 50.9 149.2 52.8 149.3 50.7 149.3 50.0 149.4 50.1 149.5 49.8 149.6 50.6 149.7 48.9 149.8 50.7 149.9 47.5 150.0 48.8 150.1 46.8 150.2 49.3 150.3 46.9 150.4 46.9 150.6 47.6 150.7 47.7 150.8 45.0 150.9 45.6 151.1 44.4 151.2 45.8 151.4 45.5 151.5 45.2 151.7 44.9 151.9 45.3 152.1 45.1 152.3 46.6 152.5 47.8 152.7 44.6 152.9 46.6 153.1 46.6 153.3 47.6 153.5 46.4 153.8 47.4 154.0 46.7 154.3 48.5 154.5 48.1 154.8 47.9 155.1 48.6 155.4 48.1 155.6 46.8 155.9 49.0 156.2 48.7 156.4 48.2 156.7 49.3 157.0 49.4 157.2 47.1 157.5 47.2 157.7 49.3 158.0 49.0 158.2 46.7 158.4 46.1 158.5 46.4 158.7 46.3 158.8 45.0 159.0 46.3 159.1 44.7 159.2 44.5 159.3 46.3 159.5 44.5 159.6 44.8 159.7 45.2 159.8 45.1 159.9 43.7 160.1 43.8 160.2 42.7 160.3 45.0 160.4 43.6 160.5 41.6 160.6 42.4 160.8 42.8 160.9 42.3 161.0 43.4 161.1 42.7 161.2 40.5 161.3 40.6 161.5 39.2 161.6 40.4 161.7 40.1 161.8 42.4 161.9 39.5 162.1 37.0 162.2 38.1 162.3 38.7 162.4 37.0 162.6 37.1 162.7 37.3 162.8 37.8 162.9 37.0 163.1 36.0 163.2 37.4 163.3 35.8 163.4 35.6 163.6 34.4 163.7 34.7 163.8 35.9 163.9 33.3 164.1 34.6 164.2 35.2 164.3 33.8 164.4 34.1 164.5 32.5 164.7 34.7 164.8 34.2 164.9 33.0 165.0 30.7 165.1 31.1 165.3 33.0 165.4 33.5 165.5 31.7 165.6 32.4 165.7 30.2 165.9 30.4 166.0 30.3 166.1 30.5 166.3 28.2 166.4 30.5 166.5 30.6 166.6 27.8 166.8 27.3 166.9 28.8 167.0 27.5 167.2 25.4 167.3 28.5 167.4 27.5 167.6 26.6 167.7 29.1 167.8 26.7 168.0 25.5 168.1 26.1 168.3 24.6 168.4 24.7 168.6 25.7 168.7 24.4 168.9 24.3 169.1 26.3 169.3 25.2 169.4 24.9 169.6 24.3 169.8 24.0 169.9 24.8 170.1 23.0 170.3 24.8 170.5 21.5 170.6 22.0 170.8 20.5 171.0 21.4 171.2 22.1 171.3 22.9 171.5 20.4 171.7 20.9 171.9 20.2 172.1 19.6 172.3 18.8 172.5 20.0 172.7 17.8 172.9 19.6 173.1 19.4 173.3 18.5 173.6 18.0 173.8 17.6 174.1 21.1 174.4 17.6 174.6 20.8 174.9 19.9 175.2 18.9 175.5 18.1 175.8 20.6 176.1 21.5 176.4 18.6 176.7 19.4 176.9 21.0 177.2 20.3 177.5 22.2 177.8 19.4 178.1 20.7 178.4 18.9 178.7 22.6 179.0 19.5 179.3 18.0 179.6 20.3 179.8 20.3 180.1 22.5 180.4 20.0 180.7 20.4 181.0 21.0 181.3 22.1 181.6 20.2 181.9 21.4 182.2 20.8 182.5 19.9 182.8 20.3 183.1 20.2 183.4 19.1 183.7 21.4 184.0 18.6 184.3 21.3 184.6 21.1 184.9 19.9 185.2 19.1 185.5 19.7 185.8 20.4 186.1 20.7 186.4 20.2 186.7 21.0 187.0 19.3 187.3 20.1 187.6 18.2 187.9 20.8 188.2 20.1 188.5 19.5 188.8 21.3 189.1 20.8 189.4 17.0 189.7 20.2 190.0 18.6 190.3 21.5 190.5 23.1 190.8 20.0 191.1 20.8 191.3 20.5 191.6 21.4 191.8 21.9 192.1 22.7 192.3 20.4 192.6 23.4 192.8 20.8 193.1 22.3 193.3 23.4 193.6 23.1 193.8 21.5 194.0 21.9 194.3 22.3 194.5 23.0 194.7 24.5 194.9 22.0 195.1 24.2 195.3 24.5 195.5 24.7 195.7 24.9 195.8 26.3 196.0 25.4 196.1 26.1 196.3 26.0 196.4 27.6 196.6 23.9 196.7 27.5 196.9 26.1 197.1 26.4 197.2 25.9 197.4 25.2 197.5 27.0 197.7 27.0 197.8 28.5 198.0 26.7 198.2 30.0 198.3 29.0 198.5 28.7 198.6 28.5 198.8 28.7 198.9 28.6 199.1 29.5 199.2 30.3 199.4 30.4 199.5 29.3 199.6 30.8 199.8 30.4 199.9 31.8 200.0 33.8 200.2 32.8 200.3 32.1 200.4 31.0 200.6 31.5 200.7 31.5 200.8 34.3 201.0 33.0 201.1 34.1 201.2 33.7 201.3 34.7 201.5 36.3 201.6 34.4 201.7 35.1 201.9 34.8 202.0 36.8 202.1 35.2 202.3 35.3 202.4 35.3 202.5 35.6 202.7 37.8 202.8 40.2 202.9 36.8 203.1 39.1 203.2 38.6 203.3 37.5 203.5 38.6 203.6 38.9 203.7 38.7 203.9 41.7 204.0 38.1 204.1 40.6 204.3 40.9 204.4 40.2 204.5 41.2 204.7 42.2 204.8 41.8 204.9 42.3 205.1 42.8 205.2 40.4 205.3 44.2 205.5 45.2 205.6 44.2 205.7 44.5 205.9 42.4 206.0 43.9 206.1 43.5 206.3 44.0 206.4 45.8 206.5 44.3 206.7 45.2 206.8 43.8 206.9 45.8 207.1 46.3 207.2 45.8 207.3 46.0 207.5 48.8 207.6 46.1 207.7 46.5 207.9 47.0 208.0 49.2 208.1 50.4 208.3 48.9 208.4 48.2 208.5 48.7 208.7 50.4 208.8 48.8 208.9 51.3 209.1 51.6 209.2 50.5 209.3 51.4 209.5 51.7 209.6 52.8 209.8 50.5 209.9 52.9 210.0 51.7 210.2 51.6 210.3 52.7 210.4 52.7 210.6 52.2 210.7 51.9 210.8 52.8 211.0 55.3 211.1 56.1 211.3 55.1 211.4 55.9 211.5 54.5 211.7 55.2 211.8 55.8 211.9 54.8 212.1 55.2 212.2 56.4 212.3 56.3 212.5 55.9 212.6 57.5 212.7 57.2 212.9 58.7 213.0 58.0 213.1 58.0 213.3 58.6 213.4 58.6 213.5 58.4 213.6 59.0 213.7 60.3 213.9 60.5 214.0 61.4 214.1 58.9 214.2 60.4 214.3 60.6 214.4 61.4 214.6 61.1 214.7 61.4 214.8 62.8 214.9 62.5 215.0 61.6 215.2 64.1 215.3 64.1 215.4 63.0 215.5 64.5 215.6 63.4 215.8 65.3 215.9 64.4 216.0 64.1 216.1 64.8 216.2 64.7 216.3 65.9 216.5 66.1 216.6 66.3 216.7 66.0 216.8 63.5 216.9 67.1 217.1 65.7 217.2 67.8 217.3 68.9 217.4 68.4 217.5 68.1 217.6 68.6 217.7 68.9 217.8 68.8 218.0 69.0 218.1 69.0 218.2 71.2 218.3 70.4 218.4 71.5 218.5 70.7 218.6 71.3 218.7 71.4 218.9 72.2 219.0 72.8 219.1 72.6 219.2 72.0 219.3 72.2 219.4 74.6 219.5 73.2 219.6 73.5 219.8 75.3 219.9 75.2 220.0 75.0 220.1 74.5 220.2 77.1 220.3 75.7 220.4 76.2 220.6 75.8 220.7 75.0 220.8 75.4 220.9 77.1 221.0 77.4 221.1 77.2 221.2 76.6 221.3 76.7 221.5 77.9 221.6 77.2 221.7 79.5 221.8 80.0 221.9 81.7 222.0 80.3 222.1 79.4 222.2 79.4 222.4 77.5 222.5 80.2 222.6 80.8 222.7 82.1 222.8 82.0 222.9 82.3 223.0 82.3 223.1 82.9 223.3 83.8 223.4 82.0 223.5 82.8 223.6 82.3 223.7 85.1 223.8 85.1 223.9 84.9 224.0 83.6 224.2 85.0 224.3 85.0 224.4 85.5 224.5 85.6 224.6 86.4 224.7 85.9 224.8 87.2 224.9 87.0 225.0 86.9 225.1 87.3 225.2 87.3 225.4 88.6 225.5 88.0 225.6 88.7 225.7 88.5 225.8 87.9 225.9 90.1 226.0 88.8 226.1 90.4 226.2 90.5 226.3 89.2 226.4 90.0 226.5 90.6 226.6 90.7 226.7 90.7 226.8 92.5 226.9 92.0 227.0 92.7 227.1 92.4 227.2 93.2 227.4 92.7 227.5 93.6 227.6 94.3 227.7 94.2 227.8 94.1 227.9 93.9 228.0 95.1 228.1 95.5 228.2 95.3 228.3 95.2 228.4 96.5 228.5 98.3 228.6 96.4 228.7 97.2 228.8 97.5 228.9 95.6 229.0 97.9 229.1 97.5 229.2 99.4 229.4 98.4 229.5 98.3 229.6 99.0 229.7 99.6 229.8 99.3 229.9 100.0 230.0 99.3 230.1 100.4 230.2 101.5 230.3 102.6 230.4 102.0 230.5 101.9 230.6 102.9 230.7 103.0 230.8 103.8 230.9 103.6 231.0 103.0 231.1 103.6 231.2 103.8 231.3 104.2 231.5 104.4 231.6 104.0 231.7 103.3 231.8 104.6 231.9 103.9 232.0 105.7 232.1 105.9 232.2 105.0 232.3 107.0 232.4 107.4 232.5 107.1 232.6 108.5 232.7 108.9 232.8 107.1 232.9 108.9 233.0 108.8 233.1 109.0 233.2 109.7 233.3 108.8 233.5 109.2 233.6 109.3 233.7 109.6 233.8 110.4 233.9 109.7 233.9 110.3 234.0 111.7 234.1 111.5 234.2 112.1 234.3 110.9 234.4 111.9 234.5 112.4 234.5 113.1 234.6 112.9 234.7 114.2 234.8 113.9 234.9 114.2 235.0 114.5 235.0 115.2 235.1 114.7 235.2 116.1 235.3 115.9 235.4 116.0 235.5 116.2 235.5 116.8 235.6 117.4 235.7 117.7 235.8 117.6 235.9 118.2 235.9 118.0 236.0 119.0 236.1 118.5 236.2 117.5 236.3 119.9 236.4 119.5 236.4 118.9 236.5 119.8 236.6 119.7 236.7 121.9 236.8 121.1 236.9 120.1 237.0 121.7 237.1 121.4 237.2 123.2 237.3 121.6 237.4 121.1 237.5 122.8 237.6 122.9 237.7 123.1 237.8 122.3 238.0 124.2 238.1 125.2 238.2 123.3 238.3 125.4 238.4 124.7 238.5 126.7 238.7 125.8 238.8 125.7 238.9 126.8 239.0 126.7 239.1 126.3 239.2 127.4 239.3 126.9 239.5 126.4 239.6 129.0 239.7 127.9 239.8 128.0 239.9 128.8 240.0 128.0 240.2 128.4 240.3 129.2 240.4 129.4 240.5 130.0 240.6 130.9 240.7 130.3 240.9 131.1 241.0 131.5 241.1 130.8 241.2 131.8 241.3 131.4 241.4 132.8 241.5 132.8 241.7 132.8 241.8 132.3 241.9 133.4 242.0 133.2 242.1 134.3 242.2 134.1 242.4 134.0 242.5 135.2 242.6 135.4 242.7 134.9 242.8 136.2 242.9 135.7 243.0 135.9 243.2 136.4 243.3 136.2 243.4 136.7 243.5 137.1 243.6 138.3 243.7 138.6 243.9 137.9 244.0 139.2 244.1 138.6 244.2 139.1 244.3 139.6 244.4 139.6 244.6 141.0 244.7 140.1 244.8 139.6 244.9 141.2 245.0 140.6 245.1 140.9 245.2 139.8 245.4 142.2 245.5 142.3 245.6 142.6 245.7 143.0 245.8 143.6 245.9 143.0 246.1 143.8 246.2 143.2 246.3 143.7 246.4 144.7 246.5 144.6 246.6 144.0 246.7 145.1 246.9 145.2 247.0 145.1 247.1 146.0 247.2 145.9 247.3 145.6 247.4 146.1 247.6 147.8 247.7 146.5 247.8 147.6 247.9 148.0 248.0 148.3 248.1 147.7 248.3 148.4 248.4 148.9 248.5 149.5 248.6 149.1 248.7 149.1 248.8 150.4 248.9 150.7 249.1 150.7 249.2 150.5 249.3 151.2 249.4 151.4 249.5 152.0 249.6 151.3 249.7 152.2 249.8 152.3 249.9 152.0 250.0 152.8" fill="none" stroke="#ff0000" stroke-width="2.0" stroke-linejoin="round" clip-path="url(#cA)"/>
<path d="M38.0 172.8 38.2 172.5 38.3 172.7 38.5 171.9 38.7 172.2 38.9 172.1 39.1 171.9 39.4 171.9 39.6 171.0 39.8 170.7 40.0 171.1 40.3 170.9 40.5 171.3 40.7 170.6 40.9 169.9 41.2 170.3 41.4 169.5 41.6 169.1 41.8 170.2 42.0 169.3 42.3 169.2 42.5 169.0 42.7 169.2 42.9 168.5 43.2 168.6 43.4 167.6 43.6 167.3 43.8 168.1 44.1 167.9 44.3 167.4 44.5 167.1 44.8 166.9 45.0 166.4 45.2 167.0 45.5 166.5 45.7 166.3 46.0 166.1 46.2 166.1 46.5 165.8 46.7 165.7 47.0 164.8 47.2 165.3 47.4 165.7 47.7 164.5 47.9 164.5 48.2 164.7 48.4 164.6 48.7 164.3 48.9 163.3 49.2 163.9 49.4 163.1 49.7 163.1 49.9 163.4 50.2 162.9 50.4 163.2 50.7 163.9 50.9 162.8 51.2 162.6 51.4 161.8 51.7 161.8 51.9 161.4 52.1 161.5 52.4 161.1 52.6 161.0 52.9 161.0 53.1 160.5 53.3 160.2 53.6 160.0 53.8 160.6 54.0 160.2 54.3 160.4 54.5 160.2 54.7 159.5 55.0 159.7 55.2 158.7 55.4 160.0 55.7 159.4 55.9 158.6 56.1 158.0 56.4 158.5 56.6 157.3 56.8 157.6 57.1 158.0 57.3 157.6 57.5 157.2 57.8 157.6 58.0 156.5 58.2 156.9 58.5 156.4 58.7 156.1 58.9 156.4 59.2 155.6 59.4 156.7 59.6 155.4 59.9 156.3 60.1 154.8 60.3 155.3 60.5 154.3 60.7 154.0 60.9 154.5 61.1 154.5 61.3 153.4 61.5 154.2 61.7 153.1 61.9 153.3 62.1 153.2 62.3 153.1 62.5 151.8 62.7 153.1 62.9 152.4 63.1 151.7 63.3 151.2 63.5 150.7 63.7 150.6 63.9 151.3 64.1 150.7 64.3 150.1 64.5 150.1 64.7 150.9 64.9 149.8 65.1 149.4 65.3 150.1 65.5 149.5 65.7 149.0 65.9 148.5 66.1 147.8 66.3 147.8 66.5 147.8 66.6 147.7 66.8 147.8 67.0 147.6 67.1 147.2 67.3 146.9 67.4 146.1 67.6 145.3 67.7 145.8 67.9 145.3 68.1 145.2 68.2 145.1 68.4 144.4 68.5 144.2 68.7 144.5 68.8 144.3 69.0 143.7 69.2 144.0 69.3 143.4 69.5 142.7 69.6 143.0 69.8 143.7 69.9 142.1 70.1 142.8 70.3 142.7 70.5 142.5 70.6 141.1 70.8 142.3 71.0 141.1 71.1 140.6 71.3 140.4 71.5 140.6 71.7 140.0 71.9 139.7 72.0 140.2 72.2 138.9 72.4 138.5 72.6 139.2 72.7 138.9 72.9 138.9 73.1 137.5 73.3 138.4 73.4 137.8 73.6 138.3 73.8 136.4 74.0 137.0 74.2 136.5 74.4 135.5 74.5 135.8 74.7 136.6 74.9 135.4 75.1 135.1 75.3 135.7 75.5 135.6 75.7 135.3 75.9 134.1 76.1 134.3 76.3 134.7 76.5 133.5 76.7 133.2 76.9 133.9 77.1 134.1 77.3 132.3 77.5 131.3 77.7 131.7 77.9 131.7 78.1 132.0 78.3 132.2 78.5 131.5 78.7 131.0 78.9 131.3 79.1 130.4 79.3 130.8 79.6 130.2 79.8 132.0 80.0 130.7 80.3 129.5 80.5 129.3 80.7 129.4 81.0 128.5 81.2 128.8 81.4 128.6 81.6 129.4 81.9 128.4 82.1 128.0 82.3 127.5 82.6 127.4 82.8 127.9 83.0 127.6 83.2 128.1 83.3 126.8 83.5 127.6 83.7 126.9 83.8 126.5 84.0 125.0 84.1 125.2 84.3 126.2 84.4 126.3 84.6 125.3 84.7 125.4 84.9 124.4 85.0 124.2 85.2 123.7 85.3 124.5 85.5 123.8 85.6 123.2 85.8 122.9 85.9 123.2 86.0 122.8 86.2 121.8 86.3 123.1 86.4 121.9 86.5 121.4 86.5 122.1 86.6 121.5 86.7 120.5 86.7 120.6 86.8 119.3 86.9 119.3 86.9 117.9 87.0 119.9 87.1 117.6 87.1 119.0 87.2 117.7 87.3 117.3 87.3 117.5 87.4 117.5 87.5 117.5 87.5 117.9 87.6 116.7 87.7 116.8 87.7 115.5 87.8 116.1 87.8 115.4 87.9 114.7 88.0 114.6 88.0 114.4 88.1 114.3 88.2 114.1 88.2 113.2 88.3 112.7 88.4 113.5 88.5 111.5 88.5 112.0 88.6 113.1 88.7 109.9 88.8 111.0 88.9 111.7 89.0 109.8 89.1 112.5 89.2 108.6 89.3 111.1 89.4 110.9 89.5 110.2 89.6 109.1 89.7 109.2 89.8 108.0 89.9 109.0 89.9 107.3 90.0 107.6 90.1 108.2 90.2 106.5 90.3 106.7 90.4 106.8 90.5 105.4 90.6 106.9 90.7 106.1 90.8 104.4 90.9 105.2 91.0 104.4 91.1 104.2 91.2 104.5 91.3 103.6 91.4 104.5 91.5 103.0 91.6 104.0 91.7 102.9 91.8 103.3 91.9 102.0 92.0 101.7 92.1 101.0 92.2 102.0 92.3 102.1 92.5 102.8 92.7 102.1 92.9 101.3 93.1 100.9 93.4 101.4 93.7 101.1 94.0 102.3 94.2 102.0 94.5 100.7 94.8 100.8 95.1 102.3 95.3 101.5 95.6 101.1 95.8 102.0 96.1 100.7 96.3 100.6 96.6 100.3 96.8 99.0 97.0 100.9 97.2 99.1 97.5 99.4 97.7 99.1 97.9 100.0 98.2 99.2 98.4 99.1 98.6 97.6 98.8 98.6 99.1 97.4 99.3 98.5 99.5 98.4 99.7 97.9 99.9 99.2 100.1 97.9 100.4 97.7 100.5 97.1 100.7 96.6 100.9 97.3 101.1 97.2 101.3 95.1 101.5 96.6 101.7 96.0 101.9 96.1 102.1 95.5 102.2 93.9 102.4 93.8 102.6 95.8 102.8 94.4 103.0 92.9 103.2 94.0 103.4 93.2 103.6 91.8 103.8 91.2 103.9 91.5 104.1 92.8 104.3 92.3 104.5 91.9 104.7 92.1 104.9 92.1 105.1 89.7 105.3 90.9 105.5 90.3 105.6 89.7 105.8 90.0 106.0 90.1 106.2 89.8 106.4 88.6 106.6 89.2 106.8 90.9 107.0 88.3 107.2 87.5 107.4 88.9 107.6 88.9 107.8 88.6 108.0 87.1 108.2 88.6 108.4 86.9 108.6 86.4 108.8 86.6 109.0 86.8 109.2 87.2 109.4 86.9 109.6 86.2 109.8 86.7 110.0 85.8 110.2 86.3 110.4 84.2 110.6 83.8 110.8 85.5 111.0 83.5 111.2 84.2 111.4 84.1 111.6 83.6 111.8 83.4 112.0 84.7 112.2 81.2 112.4 83.8 112.6 84.7 112.8 82.6 113.0 82.3 113.1 82.7 113.3 83.4 113.5 80.6 113.7 81.5 113.9 81.0 114.1 81.4 114.2 80.8 114.4 81.0 114.6 79.8 114.8 80.0 115.0 79.1 115.1 78.9 115.3 79.1 115.5 78.9 115.7 77.8 115.9 79.8 116.0 78.2 116.2 76.9 116.4 78.7 116.6 76.9 116.8 77.8 117.0 77.1 117.2 77.2 117.5 76.9 117.7 76.1 117.9 76.4 118.2 78.0 118.4 74.1 118.7 75.9 118.9 76.1 119.2 74.6 119.4 74.2 119.7 77.1 119.9 74.7 120.2 76.7 120.4 75.2 120.7 74.6 120.9 74.8 121.1 74.7 121.4 75.0 121.6 74.2 121.8 73.7 122.1 73.6 122.3 74.4 122.5 73.7 122.7 71.9 122.9 72.0 123.1 72.6 123.3 71.6 123.5 71.6 123.7 70.9 124.0 71.3 124.2 71.7 124.4 72.0 124.6 70.9 124.9 72.6 125.1 70.6 125.4 73.3 125.7 71.3 126.0 70.7 126.2 69.7 126.5 67.5 126.8 69.8 127.1 70.0 127.4 71.4 127.6 68.4 127.9 71.2 128.2 69.2 128.5 69.9 128.8 66.9 129.0 69.2 129.3 68.6 129.6 69.5 129.9 68.8 130.2 67.6 130.4 69.4 130.7 69.0 131.0 68.8 131.3 69.1 131.6 69.1 131.8 67.9 132.1 66.6 132.4 66.5 132.7 68.9 132.9 68.2 133.2 67.5 133.5 66.9 133.8 67.2 134.1 67.1 134.4 66.7 134.6 66.3 134.9 68.8 135.2 66.9 135.5 66.1 135.8 65.4 136.1 65.8 136.4 67.0 136.6 67.0 136.9 66.0 137.2 66.2 137.5 65.8 137.8 64.9 138.1 67.0 138.4 66.1 138.7 67.9 138.9 64.9 139.2 65.4 139.5 66.2 139.8 65.1 140.1 64.0 140.4 64.3 140.7 65.2 141.0 65.3 141.2 64.8 141.5 65.7 141.8 65.6 142.1 64.9 142.4 64.6 142.7 64.2 143.0 64.9 143.3 65.1 143.5 64.2 143.8 64.4 144.1 63.6 144.3 62.5 144.6 62.7 144.8 64.2 145.1 63.7 145.3 64.6 145.6 63.0 145.8 63.6 146.1 63.8 146.3 63.4 146.6 61.7 146.8 62.0 147.1 62.1 147.3 60.9 147.5 62.0 147.8 62.3 148.0 60.7 148.1 62.8 148.3 60.5 148.5 60.3 148.6 60.0 148.7 59.3 148.8 60.1 148.9 59.4 149.1 60.7 149.2 59.4 149.3 59.1 149.4 58.1 149.5 56.7 149.6 57.6 149.8 56.6 149.9 58.1 150.0 56.9 150.1 58.2 150.2 57.1 150.4 57.0 150.5 56.3 150.7 56.1 150.8 56.5 151.0 56.8 151.2 55.3 151.4 56.6 151.7 58.8 151.9 56.4 152.1 56.4 152.4 56.2 152.6 55.7 152.8 58.4 153.1 57.5 153.3 57.8 153.6 59.5 153.8 60.2 154.1 57.2 154.4 59.1 154.6 58.8 154.9 58.7 155.2 58.9 155.5 58.5 155.8 60.2 156.0 59.4 156.3 59.2 156.6 60.1 156.9 59.8 157.1 59.4 157.4 59.3 157.7 60.6 157.9 59.3 158.2 58.6 158.4 57.7 158.6 58.0 158.9 57.2 159.1 58.1 159.3 58.1 159.6 55.7 159.8 57.5 160.1 57.9 160.3 57.2 160.5 56.0 160.8 57.9 161.0 55.9 161.2 55.1 161.4 55.1 161.7 55.9 161.9 56.6 162.1 56.6 162.3 55.5 162.5 53.9 162.7 54.2 162.9 53.8 163.1 54.2 163.3 52.5 163.6 54.1 163.8 54.4 164.0 53.4 164.2 53.8 164.4 52.2 164.6 51.5 164.8 52.1 165.0 53.6 165.2 53.2 165.3 51.5 165.5 52.9 165.7 51.2 165.9 52.7 166.0 51.4 166.2 50.3 166.4 51.3 166.5 49.5 166.7 49.1 166.9 48.3 167.0 49.7 167.2 49.2 167.4 48.9 167.5 48.3 167.7 49.9 167.9 47.8 168.0 47.3 168.2 49.0 168.4 49.0 168.6 47.7 168.8 45.5 169.1 46.4 169.3 47.5 169.6 46.8 169.9 48.2 170.2 45.2 170.4 47.1 170.7 45.7 171.0 47.5 171.3 46.1 171.6 47.1 171.8 45.3 172.1 44.4 172.4 44.7 172.7 45.1 173.0 44.6 173.3 46.8 173.6 47.0 173.9 45.9 174.2 44.6 174.5 45.6 174.8 45.1 175.1 47.2 175.4 46.2 175.6 46.4 175.9 45.5 176.2 44.0 176.5 45.2 176.8 44.9 177.1 46.5 177.4 46.2 177.7 45.4 178.0 45.8 178.3 47.8 178.6 45.4 178.9 45.5 179.2 46.3 179.5 45.9 179.7 46.3 180.0 47.3 180.3 48.7 180.5 45.3 180.8 47.2 181.1 47.4 181.3 47.4 181.6 47.5 181.9 47.5 182.1 48.9 182.4 47.6 182.7 48.0 183.0 48.2 183.2 48.4 183.5 48.2 183.8 49.4 184.1 48.4 184.4 48.6 184.7 48.4 185.0 47.5 185.3 47.7 185.6 47.5 185.9 48.8 186.2 47.9 186.5 47.7 186.8 49.0 187.1 49.4 187.3 47.2 187.6 50.7 187.9 49.2 188.2 49.2 188.4 50.5 188.7 49.7 189.0 49.1 189.2 52.0 189.5 49.0 189.7 50.1 190.0 51.2 190.2 49.5 190.5 50.6 190.7 51.3 190.9 53.4 191.1 50.4 191.3 51.4 191.6 52.3 191.8 52.0 192.0 51.0 192.2 52.8 192.4 52.7 192.6 53.2 192.8 54.1 193.0 54.2 193.2 53.8 193.4 54.0 193.6 52.8 193.8 54.0 194.0 54.5 194.2 54.2 194.4 54.9 194.6 54.2 194.8 56.7 195.0 57.5 195.2 55.4 195.3 56.4 195.5 56.0 195.7 57.7 195.9 57.1 196.0 57.0 196.2 57.0 196.4 57.6 196.5 56.7 196.7 58.6 196.9 57.5 197.1 58.9 197.2 58.8 197.4 59.9 197.6 59.1 197.8 60.4 197.9 58.8 198.1 60.5 198.3 59.9 198.5 60.6 198.6 60.7 198.8 61.7 199.0 59.2 199.2 61.7 199.3 60.2 199.5 63.0 199.7 60.2 199.9 61.4 200.1 61.0 200.2 64.3 200.4 61.9 200.6 63.4 200.8 63.0 201.0 62.1 201.1 63.7 201.3 64.9 201.5 64.3 201.7 65.6 201.8 64.6 202.0 65.2 202.2 65.1 202.4 66.0 202.6 67.7 202.7 66.5 202.9 66.6 203.1 66.1 203.3 66.2 203.4 68.5 203.6 66.4 203.8 66.8 203.9 67.8 204.1 67.8 204.2 70.2 204.4 66.6 204.5 69.3 204.7 69.8 204.8 68.5 205.0 69.1 205.1 70.4 205.3 71.7 205.5 69.7 205.6 69.4 205.8 71.9 205.9 72.6 206.1 71.2 206.2 69.8 206.4 73.3 206.5 72.1 206.7 73.5 206.8 72.8 207.0 72.7 207.1 72.9 207.3 74.9 207.4 75.1 207.6 72.2 207.8 73.6 207.9 76.2 208.1 74.6 208.2 74.0 208.4 75.4 208.5 75.6 208.7 75.8 208.8 75.8 209.0 76.2 209.1 76.3 209.3 77.2 209.4 76.5 209.6 77.2 209.7 77.6 209.9 79.1 210.1 78.6 210.2 78.4 210.4 79.2 210.5 79.4 210.7 80.2 210.8 79.9 211.0 81.3 211.2 81.2 211.3 80.2 211.5 80.2 211.6 81.5 211.8 81.5 212.0 81.2 212.1 80.3 212.3 80.3 212.4 82.3 212.6 83.0 212.8 83.2 212.9 81.8 213.1 83.9 213.2 82.9 213.4 83.9 213.6 84.2 213.7 83.4 213.9 83.9 214.0 82.9 214.2 84.1 214.4 83.6 214.5 85.7 214.7 85.7 214.8 86.6 215.0 86.4 215.2 85.9 215.3 86.9 215.5 86.6 215.6 87.6 215.8 87.7 216.0 86.9 216.1 87.9 216.3 88.2 216.4 88.2 216.6 89.4 216.8 90.3 216.9 88.9 217.1 89.2 217.2 87.9 217.4 89.9 217.5 89.9 217.7 88.8 217.8 91.0 218.0 91.5 218.1 90.7 218.3 91.2 218.4 91.0 218.6 92.6 218.7 91.1 218.8 92.3 219.0 94.4 219.1 93.1 219.3 93.7 219.4 93.5 219.6 93.0 219.7 94.1 219.9 94.7 220.0 93.9 220.2 95.2 220.3 96.1 220.5 96.3 220.6 94.5 220.8 95.2 220.9 95.0 221.1 97.3 221.2 97.2 221.4 97.6 221.5 96.6 221.7 96.7 221.8 97.9 221.9 98.1 222.1 97.7 222.2 98.7 222.4 99.3 222.5 99.3 222.7 98.6 222.8 98.1 223.0 99.7 223.1 100.3 223.3 100.2 223.4 100.4 223.5 100.4 223.7 101.8 223.8 101.5 223.9 101.9 224.1 101.3 224.2 101.8 224.3 102.7 224.5 102.1 224.6 102.2 224.8 103.1 224.9 104.5 225.0 104.0 225.2 105.2 225.3 104.4 225.4 104.5 225.6 104.0 225.7 104.8 225.8 106.5 226.0 106.0 226.1 106.6 226.2 106.8 226.4 106.6 226.5 106.7 226.6 107.2 226.8 107.9 226.9 108.0 227.0 108.3 227.2 108.3 227.3 107.9 227.5 108.6 227.6 108.3 227.7 110.0 227.9 108.1 228.0 109.7 228.1 111.7 228.3 110.1 228.4 109.8 228.5 110.9 228.7 112.0 228.8 111.3 228.9 112.1 229.1 112.0 229.2 112.0 229.3 114.6 229.5 112.8 229.6 112.7 229.7 113.0 229.9 113.8 230.0 114.1 230.2 114.6 230.3 114.5 230.4 113.7 230.6 115.3 230.7 115.0 230.8 115.3 231.0 114.7 231.1 115.6 231.2 115.8 231.4 116.5 231.5 115.8 231.6 117.1 231.8 117.4 231.9 116.9 232.0 117.5 232.2 117.6 232.3 119.0 232.4 117.0 232.6 118.7 232.7 118.1 232.8 119.2 233.0 120.3 233.1 119.6 233.2 120.4 233.4 120.0 233.5 122.1 233.6 121.7 233.8 122.1 233.9 120.8 234.0 121.2 234.2 122.8 234.3 122.3 234.4 122.5 234.6 123.2 234.7 122.5 234.8 124.0 235.0 123.8 235.1 124.4 235.2 123.9 235.3 124.9 235.5 124.4 235.6 125.7 235.7 126.1 235.9 126.2 236.0 126.3 236.1 126.6 236.2 124.9 236.4 127.3 236.5 126.9 236.6 127.4 236.8 127.4 236.9 127.0 237.0 127.8 237.2 128.8 237.3 129.5 237.4 128.6 237.5 128.7 237.7 130.3 237.8 129.2 237.9 131.2 238.1 130.3 238.2 130.0 238.3 131.4 238.5 132.1 238.6 130.5 238.7 132.5 238.9 131.7 239.0 133.0 239.1 132.2 239.3 131.8 239.4 133.3 239.5 133.8 239.7 134.7 239.8 134.8 239.9 134.5 240.1 134.2 240.2 134.3 240.3 134.7 240.5 134.7 240.6 135.3 240.7 134.3 240.9 136.0 241.0 136.2 241.1 137.9 241.3 137.2 241.4 136.8 241.5 137.6 241.7 136.9 241.8 137.5 241.9 137.1 242.1 139.1 242.2 139.0 242.3 138.3 242.5 139.1 242.6 139.9 242.7 140.0 242.9 140.2 243.0 139.8 243.1 140.2 243.3 140.8 243.4 141.5 243.5 140.9 243.7 141.0 243.8 142.5 243.9 141.7 244.1 143.0 244.2 142.8 244.3 143.4 244.4 144.1 244.6 143.8 244.7 144.2 244.8 143.6 244.9 144.0 245.1 144.9 245.2 145.6 245.3 145.8 245.4 146.6 245.5 145.8 245.6 146.1 245.8 146.7 245.9 146.5 246.0 146.8 246.1 146.6 246.2 147.8 246.3 147.1 246.4 148.2 246.6 147.5 246.7 149.0 246.8 148.3 246.9 149.4 247.0 148.6 247.1 149.4 247.2 150.4 247.4 149.8 247.5 150.4 247.6 150.5 247.7 149.9 247.8 151.4 247.9 151.7 248.0 151.3 248.2 152.3 248.3 152.0 248.4 152.2 248.5 152.9 248.6 152.9 248.7 154.5 248.8 153.1 249.0 154.3 249.1 154.7 249.2 153.7 249.3 154.1 249.4 155.4 249.5 155.2 249.6 155.9 249.7 156.4 249.8 156.0 249.9 155.9 250.0 155.3" fill="none" stroke="#00ff00" stroke-width="2.3" stroke-linejoin="round" clip-path="url(#cA)"/>
<path d="M38.1 174.4 38.2 174.0 38.4 174.3 38.6 174.1 38.9 173.6 39.1 174.3 39.4 174.0 39.7 173.8 39.9 173.1 40.2 173.2 40.5 173.0 40.7 172.9 41.0 172.6 41.3 172.9 41.6 172.7 41.8 172.6 42.1 172.2 42.4 172.5 42.6 172.1 42.9 171.1 43.2 171.6 43.4 171.6 43.7 171.8 44.0 171.3 44.2 171.2 44.5 170.9 44.8 171.2 45.0 170.7 45.3 170.5 45.6 170.3 45.8 170.6 46.1 170.1 46.4 169.6 46.6 170.2 46.9 169.6 47.2 169.8 47.4 169.7 47.7 169.8 48.0 169.6 48.2 169.0 48.5 169.0 48.8 168.5 49.0 169.3 49.3 168.7 49.6 168.9 49.8 168.2 50.1 167.6 50.4 168.5 50.6 167.9 50.9 167.8 51.2 167.7 51.4 167.7 51.7 167.5 52.0 166.7 52.2 167.4 52.5 166.8 52.8 166.6 53.0 167.2 53.3 166.8 53.5 166.2 53.8 165.6 54.1 166.1 54.3 166.1 54.6 165.7 54.8 165.2 55.1 165.2 55.4 164.9 55.6 165.2 55.9 165.2 56.1 165.1 56.4 164.4 56.7 164.6 56.9 164.5 57.2 164.0 57.4 164.0 57.7 164.6 58.0 163.8 58.2 163.9 58.5 163.3 58.7 163.3 59.0 162.6 59.2 163.0 59.5 163.2 59.8 163.4 60.0 162.9 60.3 162.6 60.5 162.2 60.7 161.8 61.0 161.8 61.2 161.8 61.5 161.2 61.7 161.6 61.9 160.7 62.2 160.3 62.4 160.4 62.6 159.9 62.9 159.9 63.1 160.5 63.4 159.9 63.6 159.9 63.8 160.0 64.1 159.9 64.3 159.0 64.5 159.5 64.8 159.0 65.0 158.7 65.2 158.6 65.5 157.8 65.7 157.8 66.0 157.9 66.2 158.0 66.4 157.4 66.7 157.3 66.9 157.5 67.1 157.5 67.4 157.1 67.6 157.1 67.8 156.3 68.0 156.1 68.3 156.1 68.5 155.7 68.7 155.4 68.9 156.0 69.1 155.1 69.3 154.6 69.5 154.9 69.7 155.2 69.9 154.3 70.2 154.5 70.4 153.7 70.6 153.5 70.8 153.2 71.0 153.2 71.2 153.7 71.4 152.4 71.6 153.2 71.9 152.0 72.1 152.1 72.3 152.3 72.5 152.0 72.8 151.7 73.0 150.8 73.2 151.4 73.5 150.6 73.7 151.8 73.9 150.5 74.1 150.5 74.4 149.8 74.6 149.9 74.8 149.3 75.1 150.0 75.3 149.3 75.5 149.5 75.7 148.7 75.9 148.6 76.1 149.1 76.3 147.9 76.5 147.4 76.7 148.0 76.9 147.2 77.1 147.2 77.3 147.6 77.5 146.7 77.7 147.3 77.9 146.6 78.2 147.4 78.4 147.3 78.7 146.6 79.0 146.8 79.2 146.6 79.5 147.0 79.8 147.4 80.0 146.3 80.3 147.2 80.5 146.2 80.8 146.2 81.0 145.7 81.2 147.1 81.5 146.0 81.7 145.9 81.9 145.3 82.2 145.9 82.4 144.3 82.6 145.0 82.8 145.7 83.1 144.4 83.3 144.4 83.5 144.5 83.7 143.7 83.9 143.8 84.1 144.0 84.4 143.5 84.6 143.3 84.8 142.8 85.0 142.9 85.2 142.6 85.4 143.0 85.7 142.4 85.9 141.8 86.1 140.6 86.3 141.8 86.5 141.6 86.7 140.7 86.9 140.0 87.2 140.1 87.4 140.8 87.6 139.8 87.8 139.8 88.0 139.9 88.2 140.1 88.5 139.4 88.7 139.1 88.9 138.7 89.1 139.5 89.3 139.0 89.5 138.3 89.7 137.5 90.0 137.6 90.2 138.0 90.4 137.2 90.6 137.7 90.9 137.3 91.1 137.1 91.4 137.1 91.6 136.9 91.9 136.1 92.1 136.2 92.4 137.3 92.6 135.5 92.9 135.7 93.2 136.3 93.4 135.5 93.7 135.1 94.0 134.7 94.2 135.4 94.5 135.5 94.8 135.5 95.0 134.8 95.3 135.1 95.6 134.0 95.8 134.4 96.1 133.9 96.3 134.1 96.6 134.2 96.9 134.2 97.1 133.1 97.4 134.1 97.7 133.1 97.9 132.7 98.2 132.9 98.4 132.2 98.7 132.7 99.0 132.7 99.2 132.3 99.5 132.5 99.7 131.9 100.0 131.9 100.2 131.1 100.5 131.6 100.8 131.0 101.0 131.1 101.3 131.1 101.5 131.1 101.8 130.0 102.0 129.9 102.3 130.4 102.5 130.6 102.8 130.4 103.0 130.5 103.3 130.5 103.6 130.0 103.8 129.5 104.1 128.9 104.3 128.8 104.6 128.8 104.8 129.0 105.1 128.9 105.3 128.6 105.6 128.4 105.9 128.6 106.1 128.2 106.4 128.1 106.6 127.9 106.9 127.4 107.1 126.9 107.4 127.5 107.6 127.3 107.9 126.8 108.1 126.6 108.4 127.8 108.6 126.1 108.9 126.2 109.1 126.3 109.4 125.4 109.6 125.8 109.9 126.5 110.1 125.9 110.4 125.6 110.6 125.4 110.9 125.0 111.1 125.3 111.4 124.6 111.6 124.3 111.9 124.4 112.1 124.6 112.4 124.1 112.6 124.2 112.9 122.6 113.1 124.1 113.4 124.5 113.6 123.9 113.9 122.8 114.1 122.4 114.4 122.8 114.7 122.0 114.9 122.7 115.2 121.9 115.4 122.5 115.7 122.6 115.9 120.6 116.2 121.7 116.4 121.0 116.7 120.5 116.9 120.8 117.2 120.8 117.5 121.3 117.7 119.8 118.0 121.1 118.3 121.4 118.5 120.6 118.8 120.4 119.1 120.0 119.3 119.2 119.6 120.0 119.9 119.8 120.2 119.8 120.4 120.7 120.7 119.6 121.0 119.3 121.2 119.7 121.5 118.1 121.8 118.0 122.0 118.3 122.3 118.0 122.6 118.6 122.9 117.9 123.1 118.9 123.4 118.7 123.7 118.1 123.9 117.4 124.2 117.8 124.5 117.8 124.7 116.6 125.0 117.3 125.3 117.3 125.6 116.9 125.8 117.5 126.1 117.2 126.4 116.0 126.7 116.4 126.9 115.7 127.2 116.4 127.5 115.5 127.8 116.3 128.0 115.9 128.3 116.1 128.6 115.4 128.8 114.5 129.1 116.2 129.4 115.0 129.7 115.7 130.0 115.1 130.2 115.1 130.5 115.7 130.8 114.8 131.1 115.3 131.4 113.6 131.7 114.8 132.0 114.1 132.3 114.1 132.5 114.1 132.8 114.2 133.1 114.8 133.4 112.8 133.7 113.8 134.0 113.3 134.3 114.2 134.6 113.3 134.9 113.7 135.1 113.1 135.4 113.6 135.7 113.7 136.0 112.9 136.3 113.0 136.6 112.1 136.9 113.0 137.2 113.2 137.4 112.4 137.7 113.2 138.0 111.3 138.3 111.4 138.6 111.5 138.9 111.9 139.2 112.1 139.4 112.0 139.7 111.9 140.0 112.2 140.3 111.5 140.6 110.9 140.9 110.8 141.2 112.6 141.4 110.0 141.7 111.1 142.0 112.0 142.3 111.3 142.6 110.5 142.9 110.9 143.2 111.2 143.4 111.3 143.7 110.1 144.0 110.9 144.3 110.5 144.6 110.9 144.9 111.0 145.1 109.9 145.4 109.2 145.7 110.1 146.0 110.8 146.3 110.1 146.6 109.8 146.9 110.9 147.2 108.9 147.5 109.9 147.7 109.0 148.0 109.3 148.3 109.2 148.6 109.9 148.9 108.5 149.2 108.6 149.5 107.9 149.8 109.0 150.1 108.4 150.3 108.8 150.6 107.9 150.9 108.2 151.2 108.9 151.5 108.2 151.8 108.5 152.1 108.4 152.4 107.8 152.7 107.0 152.9 108.4 153.2 107.9 153.5 108.2 153.8 106.4 154.1 106.5 154.4 106.2 154.7 106.8 155.0 107.8 155.2 107.5 155.5 107.1 155.8 107.1 156.1 107.3 156.4 106.6 156.7 107.0 157.0 106.7 157.3 105.3 157.6 106.2 157.8 107.2 158.1 106.1 158.4 106.1 158.7 105.8 159.0 105.8 159.3 106.6 159.6 105.7 159.9 105.2 160.1 103.9 160.4 105.3 160.7 104.3 161.0 104.3 161.3 105.7 161.5 105.6 161.8 103.9 162.1 105.4 162.4 105.0 162.6 104.2 162.9 104.9 163.2 103.4 163.4 103.6 163.7 103.3 164.0 103.4 164.3 104.4 164.5 103.0 164.8 102.9 165.1 102.9 165.4 103.5 165.6 103.0 165.9 103.6 166.2 102.6 166.4 102.1 166.7 102.5 167.0 102.7 167.3 102.0 167.6 102.7 167.9 103.5 168.2 102.0 168.5 102.3 168.7 103.0 169.0 101.8 169.3 101.6 169.6 101.4 169.9 102.2 170.2 102.2 170.5 101.8 170.8 101.8 171.1 102.5 171.4 102.2 171.7 100.8 172.0 101.5 172.3 101.5 172.6 101.9 172.9 101.3 173.2 101.0 173.5 101.1 173.8 100.3 174.1 101.3 174.4 101.0 174.7 101.6 175.0 100.8 175.3 101.1 175.6 100.8 175.9 100.8 176.2 101.8 176.5 101.2 176.8 101.7 177.1 100.8 177.4 101.5 177.7 100.5 178.0 101.2 178.3 101.2 178.6 101.9 178.9 101.7 179.2 101.5 179.5 102.1 179.8 101.8 180.1 102.0 180.4 102.2 180.7 101.7 181.0 101.6 181.3 102.0 181.5 101.6 181.8 102.1 182.1 102.6 182.4 102.5 182.7 101.8 183.0 101.3 183.3 102.1 183.6 102.1 183.9 102.8 184.2 102.0 184.5 102.1 184.8 102.7 185.1 102.1 185.4 102.3 185.7 103.5 186.0 103.4 186.3 102.9 186.6 102.8 186.9 102.1 187.2 103.1 187.5 102.9 187.8 103.1 188.1 102.7 188.3 103.1 188.6 103.0 188.9 103.4 189.2 104.1 189.5 103.6 189.8 102.5 190.1 102.9 190.4 102.6 190.7 103.2 191.0 104.1 191.3 104.0 191.5 103.5 191.8 104.1 192.1 103.6 192.4 103.3 192.7 103.4 193.0 103.8 193.3 105.3 193.5 103.7 193.8 105.4 194.1 105.5 194.4 104.7 194.7 104.9 195.0 104.7 195.3 105.1 195.5 105.6 195.8 105.4 196.1 106.1 196.3 106.3 196.6 106.0 196.8 106.1 197.1 106.0 197.3 106.5 197.6 105.8 197.8 106.8 198.1 106.9 198.3 106.5 198.5 108.4 198.8 106.8 199.0 107.0 199.3 107.9 199.5 106.8 199.7 107.6 200.0 107.4 200.2 107.9 200.5 108.5 200.7 109.0 200.9 109.6 201.2 109.6 201.4 110.0 201.7 109.8 201.9 109.4 202.1 110.5 202.3 109.8 202.6 109.9 202.8 111.4 203.0 111.1 203.2 111.0 203.4 111.5 203.6 111.8 203.9 110.8 204.1 111.7 204.3 111.3 204.5 112.3 204.7 112.0 204.9 113.4 205.1 113.1 205.3 112.6 205.5 113.3 205.7 112.8 206.0 113.7 206.2 114.2 206.4 114.3 206.6 113.3 206.8 114.4 207.0 115.0 207.2 115.2 207.4 115.8 207.6 114.7 207.8 115.9 208.1 115.5 208.3 116.2 208.5 116.5 208.7 116.9 208.9 116.4 209.1 117.0 209.3 116.5 209.5 116.6 209.7 117.9 209.9 117.8 210.1 117.2 210.3 117.8 210.5 118.5 210.7 119.5 210.9 119.5 211.1 119.6 211.3 118.4 211.6 119.5 211.8 120.0 212.0 120.2 212.2 120.5 212.4 120.3 212.6 121.6 212.8 121.7 213.0 121.1 213.2 120.8 213.4 122.6 213.6 121.5 213.8 122.6 214.0 123.2 214.2 121.9 214.4 122.8 214.6 122.7 214.8 123.3 215.1 123.5 215.3 124.5 215.5 124.0 215.7 123.9 215.9 124.7 216.1 124.2 216.3 124.4 216.5 125.9 216.7 124.6 217.0 125.0 217.2 125.5 217.4 125.1 217.6 124.8 217.8 126.6 218.0 125.9 218.2 126.2 218.4 126.5 218.7 126.4 218.9 126.6 219.1 127.4 219.3 128.8 219.5 128.1 219.7 128.4 219.9 127.5 220.1 128.4 220.4 128.0 220.6 129.2 220.8 128.9 221.0 129.3 221.2 129.4 221.4 129.4 221.6 129.2 221.8 130.4 222.1 129.7 222.3 130.0 222.5 130.6 222.7 130.6 222.9 131.3 223.1 131.9 223.3 131.8 223.5 132.0 223.6 132.1 223.8 132.8 224.0 131.7 224.2 133.0 224.3 132.7 224.5 132.8 224.7 133.6 224.9 133.7 225.0 134.4 225.2 134.8 225.4 133.5 225.6 134.8 225.7 136.0 225.9 135.7 226.1 136.2 226.3 135.8 226.4 135.4 226.6 135.8 226.8 136.9 227.0 137.2 227.1 136.7 227.3 137.1 227.5 137.6 227.6 137.0 227.8 137.8 228.0 139.0 228.2 139.5 228.3 138.7 228.5 139.8 228.7 139.0 228.9 139.1 229.0 138.7 229.2 140.4 229.4 140.0 229.6 141.5 229.7 140.8 229.9 141.0 230.1 140.4 230.3 142.1 230.4 141.5 230.6 141.8 230.8 141.2 231.0 142.8 231.1 143.1 231.3 142.6 231.5 143.2 231.7 143.5 231.8 144.0 232.0 143.9 232.2 144.8 232.4 144.3 232.6 144.3 232.7 144.6 232.9 144.0 233.1 145.0 233.3 146.0 233.4 145.9 233.6 145.7 233.8 146.5 234.0 145.7 234.1 146.7 234.3 147.3 234.5 147.6 234.7 147.2 234.8 148.1 235.0 148.8 235.2 148.1 235.4 148.8 235.5 148.1 235.7 148.2 235.9 149.5 236.1 149.5 236.2 149.8 236.4 149.7 236.6 150.1 236.8 150.8 236.9 151.4 237.1 150.9 237.3 150.5 237.5 151.9 237.7 151.9 237.8 152.2 238.0 152.2 238.2 153.3 238.4 152.7 238.5 153.1 238.7 152.4 238.9 153.1 239.1 153.3 239.3 153.8 239.5 154.2 239.6 154.0 239.8 155.2 240.0 154.4 240.2 154.8 240.4 155.3 240.6 155.0 240.8 155.9 241.0 156.2 241.1 156.1 241.3 157.1 241.5 156.7 241.7 157.0 241.9 156.8 242.1 156.8 242.3 157.4 242.4 157.7 242.6 157.9 242.8 158.6 243.0 157.7 243.2 158.4 243.4 158.4 243.6 159.7 243.8 159.3 243.9 159.5 244.1 159.6 244.3 160.5 244.5 160.3 244.7 160.7 244.9 160.2 245.1 161.5 245.3 161.4 245.5 161.7 245.8 162.1 246.0 161.9 246.2 162.1 246.4 162.6 246.6 162.7 246.8 162.7 247.0 163.0 247.3 163.0 247.5 163.6 247.7 163.9 247.9 163.8 248.1 164.7 248.3 163.8 248.5 164.4 248.8 165.2 249.0 164.8 249.2 164.6 249.4 165.8 249.6 165.7 249.8 165.4 250.0 166.2 250.2 165.8 250.4 165.9 250.5 166.4 250.7 166.4" fill="none" stroke="#0000ff" stroke-width="2.3" stroke-linejoin="round" clip-path="url(#cA)"/>
<path d="M38.1 174.5 38.3 174.6 38.5 174.4 38.7 174.7 39.0 174.6 39.3 174.8 39.6 174.5 39.9 174.2 40.2 174.2 40.5 174.4 40.8 174.9 41.1 174.6 41.4 174.2 41.7 174.6 42.0 174.0 42.3 174.5 42.6 174.1 42.9 174.4 43.2 174.3 43.5 174.1 43.8 174.2 44.1 173.8 44.4 174.0 44.7 174.3 45.0 175.1 45.3 174.1 45.6 173.9 45.9 173.6 46.2 174.2 46.5 173.3 46.8 173.6 47.1 173.9 47.4 173.4 47.7 174.2 48.0 174.0 48.3 173.5 48.6 173.5 48.9 173.2 49.2 173.2 49.5 173.7 49.8 173.7 50.1 173.6 50.4 173.6 50.7 173.3 51.0 173.5 51.3 172.9 51.6 173.4 51.9 173.8 52.1 173.7 52.4 173.1 52.7 173.1 53.0 173.6 53.3 173.7 53.6 172.6 53.9 172.9 54.2 173.1 54.5 173.4 54.8 172.7 55.1 173.1 55.4 172.8 55.7 173.6 56.0 172.9 56.3 172.7 56.6 172.6 56.9 173.0 57.2 172.8 57.5 172.2 57.8 172.6 58.1 172.0 58.4 172.2 58.7 171.9 59.0 171.9 59.3 172.1 59.6 171.9 59.9 172.4 60.2 172.4 60.5 172.0 60.8 171.6 61.1 172.2 61.3 171.1 61.6 171.1 61.9 172.0 62.2 171.9 62.5 171.9 62.8 171.4 63.1 170.9 63.4 171.1 63.7 171.5 64.0 170.9 64.3 170.8 64.5 170.5 64.8 170.5 65.1 171.2 65.4 171.0 65.7 170.3 66.0 170.2 66.3 170.4 66.6 170.7 66.9 170.0 67.2 170.3 67.5 169.5 67.8 169.7 68.0 170.3 68.3 170.5 68.6 169.6 68.9 169.7 69.2 170.3 69.5 169.8 69.8 169.7 70.1 170.0 70.4 169.9 70.7 170.2 71.0 170.0 71.3 169.4 71.6 169.5 71.9 169.5 72.2 168.9 72.5 169.0 72.8 169.7 73.1 168.6 73.4 169.6 73.7 169.2 73.9 169.0 74.2 169.2 74.5 169.1 74.8 169.3 75.1 168.6 75.4 168.5 75.7 168.4 76.0 169.2 76.2 168.7 76.5 167.8 76.8 167.9 77.1 167.7 77.3 167.8 77.6 167.8 77.8 168.6 78.1 166.8 78.3 168.0 78.6 167.8 78.8 167.4 79.0 167.7 79.2 167.8 79.4 168.2 79.6 168.8 79.8 168.0 80.0 169.4 80.2 168.9 80.4 169.9 80.6 169.6 80.8 170.1 81.1 170.0 81.3 170.3 81.6 169.9 81.9 169.6 82.2 170.3 82.5 170.3 82.8 170.9 83.1 169.1 83.4 169.9 83.7 170.4 84.0 169.4 84.3 169.8 84.6 170.9 84.9 170.6 85.2 169.5 85.5 170.6 85.8 170.4 86.1 170.3 86.4 170.1 86.7 170.0 87.0 169.5 87.3 169.7 87.6 170.2 87.9 169.9 88.2 170.7 88.5 169.7 88.8 168.7 89.1 169.7 89.4 169.9 89.7 169.9 90.0 169.8 90.3 169.3 90.6 170.4 90.9 169.4 91.2 170.0 91.5 169.5 91.8 169.1 92.1 170.3 92.4 168.4 92.7 169.2 93.0 169.8 93.3 169.4 93.6 169.9 93.9 169.4 94.2 169.3 94.5 170.5 94.8 169.3 95.1 169.3 95.4 168.9 95.7 169.0 96.0 169.7 96.3 169.6 96.6 169.3 96.9 169.0 97.2 169.6 97.5 168.4 97.8 169.1 98.1 169.1 98.4 168.8 98.7 169.2 99.0 168.8 99.3 168.7 99.6 170.0 99.9 169.4 100.2 169.6 100.5 169.0 100.8 169.4 101.0 169.2 101.3 169.4 101.6 170.0 101.9 168.6 102.2 168.8 102.5 168.6 102.8 166.8 103.1 167.8 103.4 168.5 103.7 168.8 104.0 168.1 104.3 169.0 104.6 169.0 104.9 168.1 105.2 169.0 105.5 169.1 105.8 168.4 106.1 167.6 106.4 168.8 106.7 168.0 107.0 167.8 107.3 168.0 107.6 167.6 107.9 168.4 108.2 168.3 108.5 168.4 108.8 168.1 109.1 167.3 109.4 167.6 109.7 168.1 110.0 167.4 110.3 169.1 110.6 167.4 110.9 167.2 111.2 168.1 111.5 167.8 111.8 167.4 112.1 167.2 112.4 167.6 112.7 167.7 113.0 167.7 113.3 167.1 113.6 167.4 113.9 167.6 114.2 167.5 114.5 165.4 114.8 166.6 115.1 166.6 115.4 166.9 115.7 167.1 116.0 167.4 116.3 167.2 116.5 166.8 116.8 166.9 117.1 167.8 117.4 166.5 117.7 167.0 118.0 167.7 118.3 167.0 118.6 165.7 119.0 167.0 119.3 166.6 119.6 166.7 119.9 167.4 120.2 167.1 120.5 166.7 120.8 167.3 121.1 167.0 121.4 166.9 121.7 167.0 122.0 166.9 122.3 166.6 122.6 166.5 122.9 166.8 123.2 166.3 123.5 166.1 123.8 167.5 124.1 166.7 124.4 166.8 124.7 166.7 125.0 166.8 125.3 166.8 125.6 166.8 125.9 166.3 126.2 167.3 126.5 166.3 126.8 167.3 127.1 165.6 127.4 166.0 127.7 167.2 128.0 166.5 128.3 166.2 128.6 166.8 128.9 165.9 129.2 166.6 129.5 165.2 129.8 166.2 130.1 166.1 130.4 166.7 130.7 166.9 131.0 165.9 131.3 167.3 131.6 166.0 131.9 165.1 132.2 164.9 132.5 167.2 132.8 166.2 133.1 165.8 133.4 165.7 133.7 165.5 134.0 166.9 134.3 166.1 134.6 167.2 134.9 165.9 135.2 164.6 135.5 166.5 135.8 165.8 136.1 165.8 136.4 166.9 136.7 165.8 137.0 166.6 137.2 165.9 137.5 165.4 137.8 166.1 138.1 165.4 138.4 166.5 138.7 166.4 139.0 165.8 139.3 166.1 139.6 166.0 139.9 165.5 140.2 166.2 140.5 165.5 140.8 166.0 141.1 165.0 141.4 165.6 141.7 165.8 142.0 165.1 142.3 165.3 142.6 165.2 142.9 166.0 143.2 165.1 143.5 165.8 143.8 166.4 144.2 165.7 144.5 164.4 144.8 165.5 145.1 166.1 145.4 165.2 145.7 166.1 146.0 165.8 146.3 165.7 146.6 165.2 146.9 165.0 147.2 165.2 147.5 165.4 147.8 165.7 148.1 165.6 148.4 165.1 148.7 165.3 149.0 165.5 149.3 164.2 149.6 164.8 149.9 164.7 150.2 165.1 150.5 165.1 150.8 165.1 151.1 164.6 151.4 165.6 151.7 165.4 152.0 164.1 152.3 165.2 152.6 164.4 152.9 166.3 153.2 164.8 153.5 164.9 153.8 165.2 154.1 165.0 154.4 165.0 154.7 166.1 155.0 165.2 155.3 165.6 155.6 165.8 155.9 164.4 156.2 166.1 156.5 165.4 156.8 165.6 157.1 164.3 157.4 165.4 157.7 165.1 158.0 164.4 158.2 166.3 158.5 165.1 158.8 164.5 159.1 164.7 159.4 165.2 159.7 165.3 160.0 164.9 160.3 165.3 160.6 165.4 160.9 163.5 161.2 164.0 161.5 163.7 161.8 164.3 162.1 165.2 162.4 164.6 162.7 163.4 163.0 163.9 163.3 164.7 163.6 163.6 163.9 163.9 164.2 164.1 164.5 162.6 164.8 164.4 165.1 164.0 165.4 164.1 165.7 163.0 166.0 163.1 166.3 163.2 166.6 163.8 166.9 163.6 167.2 163.6 167.5 164.7 167.8 164.3 168.1 162.9 168.4 162.9 168.7 164.5 169.0 163.1 169.3 164.3 169.6 164.4 169.9 162.9 170.2 163.1 170.5 163.4 170.8 162.7 171.1 162.6 171.4 163.0 171.7 163.9 172.0 163.0 172.3 163.1 172.6 163.0 172.9 162.3 173.2 164.3 173.5 161.6 173.8 162.8 174.1 163.7 174.4 162.3 174.7 163.7 175.0 164.1 175.3 162.6 175.6 163.4 175.9 162.5 176.2 163.6 176.5 163.3 176.8 163.4 177.1 164.2 177.4 163.6 177.7 164.2 178.0 163.7 178.3 162.4 178.6 163.4 178.9 163.6 179.2 162.2 179.5 164.2 179.8 163.3 180.1 163.5 180.4 162.6 180.7 163.2 181.0 163.4 181.3 163.0 181.6 163.2 181.9 161.7 182.2 164.2 182.5 162.4 182.8 161.6 183.1 162.5 183.4 162.6 183.7 163.6 184.0 162.5 184.3 163.4 184.6 162.5 184.9 164.7 185.2 163.5 185.5 164.5 185.8 162.4 186.1 163.6 186.4 162.4 186.7 163.5 187.0 163.6 187.3 162.0 187.6 162.3 187.9 162.2 188.2 162.0 188.5 162.5 188.8 162.4 189.1 162.0 189.4 163.1 189.7 163.4 190.0 162.0 190.3 162.6 190.6 163.0 190.9 162.8 191.2 162.4 191.5 163.5 191.8 163.5 192.1 163.4 192.4 162.7 192.7 164.3 193.0 164.1 193.3 162.5 193.6 162.7 193.9 163.7 194.2 162.2 194.5 163.1 194.8 162.8 195.1 162.2 195.4 162.6 195.7 161.6 196.0 162.3 196.3 161.3 196.6 164.5 196.9 163.9 197.2 163.7 197.5 163.0 197.8 163.6 198.1 163.8 198.4 163.6 198.7 163.6 199.0 162.2 199.3 163.2 199.6 162.5 199.9 162.1 200.2 162.1 200.5 163.3 200.8 163.8 201.1 162.0 201.4 164.3 201.7 164.1 202.0 162.8 202.3 162.7 202.6 163.0 202.9 163.8 203.2 162.9 203.5 162.4 203.8 163.5 204.1 161.7 204.4 163.4 204.7 164.2 205.0 163.6 205.3 164.0 205.6 163.8 205.9 164.0 206.2 163.6 206.5 163.0 206.8 163.5 207.1 163.6 207.4 164.6 207.7 164.9 208.0 164.1 208.3 163.3 208.6 163.3 208.9 163.8 209.2 165.0 209.5 164.3 209.8 164.0 210.1 163.5 210.4 164.8 210.7 164.4 211.0 164.2 211.2 164.4 211.5 165.6 211.8 164.3 212.1 165.7 212.4 165.4 212.7 164.6 213.0 165.3 213.3 164.6 213.6 164.1 213.9 164.6 214.2 164.2 214.5 165.3 214.8 165.0 215.1 165.4 215.4 165.7 215.7 162.9 216.0 165.4 216.3 164.0 216.6 165.4 216.9 164.7 217.1 165.5 217.4 166.5 217.7 164.3 218.0 165.7 218.3 165.6 218.6 164.4 218.9 166.3 219.2 165.9 219.5 165.5 219.8 165.5 220.1 168.3 220.4 165.8 220.7 164.9 221.0 165.6 221.3 166.0 221.6 166.1 221.9 166.3 222.2 165.7 222.4 166.9 222.7 166.2 223.0 165.7 223.3 166.1 223.6 166.5 223.9 167.4 224.2 167.2 224.5 166.7 224.8 167.0 225.1 167.2 225.4 168.6 225.7 166.8 226.0 167.6 226.3 167.9 226.6 166.7 226.9 167.6 227.1 167.7 227.4 167.3 227.7 168.1 228.0 168.5 228.3 168.7 228.6 167.8 228.9 168.2 229.2 169.8 229.5 167.5 229.7 168.5 230.0 169.0 230.3 168.6 230.6 169.0 230.9 168.8 231.2 169.2 231.5 169.7 231.8 168.7 232.1 169.1 232.3 169.0 232.6 168.9 232.9 169.2 233.2 168.5 233.5 169.9 233.8 170.6 234.1 170.7 234.4 170.5 234.7 169.0 235.0 170.7 235.3 169.3 235.6 169.8 235.9 171.1 236.1 169.2 236.4 170.6 236.7 170.2 237.0 170.0 237.3 169.6 237.6 170.5 237.9 170.0 238.2 171.0 238.5 171.2 238.8 169.5 239.1 170.2 239.4 170.4 239.7 169.8 240.0 169.9 240.3 170.8 240.6 170.7 240.9 169.7 241.2 170.6 241.5 171.3 241.8 170.2 242.0 170.5 242.3 172.2 242.6 172.1 242.9 170.2 243.2 170.4 243.5 171.6 243.8 170.6 244.1 171.3 244.4 171.2 244.7 172.0 245.0 170.0 245.3 170.3 245.6 171.0 245.9 172.5 246.2 171.8 246.5 170.8 246.8 172.3 247.1 172.5 247.4 172.0 247.7 172.0 247.9 172.5 248.2 173.1 248.5 172.4 248.8 172.7 249.1 172.4 249.4 172.3 249.7 172.0 250.0 172.8 250.2 172.5 250.4 172.5 250.6 173.3" fill="none" stroke="#00ffff" stroke-width="3.0" stroke-linejoin="round" clip-path="url(#cA)"/>
<path d="M304.8 166.7 305.0 166.8 305.2 166.1 305.4 166.7 305.7 166.4 306.0 166.3 306.3 166.3 306.6 166.8 306.9 166.7 307.2 166.3 307.5 166.1 307.8 166.4 308.1 166.3 308.4 166.8 308.7 166.0 309.0 165.9 309.3 166.3 309.6 166.3 309.9 166.4 310.2 166.5 310.5 166.9 310.8 166.2 311.1 166.1 311.4 165.8 311.7 166.3 312.0 166.4 312.3 166.1 312.6 166.5 312.9 166.2 313.2 166.6 313.5 166.2 313.8 165.8 314.1 165.9 314.4 165.7 314.7 165.6 315.0 166.1 315.3 166.3 315.6 166.6 315.9 166.0 316.2 165.9 316.5 165.6 316.8 166.2 317.1 166.0 317.4 165.7 317.7 166.0 318.0 165.9 318.3 165.2 318.6 165.9 318.9 165.7 319.2 165.5 319.5 165.4 319.8 166.0 320.1 165.9 320.4 166.0 320.7 165.1 321.0 165.2 321.3 165.6 321.6 164.9 321.9 165.0 322.2 164.7 322.5 165.7 322.8 165.5 323.1 165.2 323.4 165.1 323.7 164.9 324.0 164.9 324.2 165.1 324.5 164.7 324.8 165.3 325.1 164.7 325.4 164.5 325.7 165.2 326.0 164.7 326.3 164.8 326.6 164.5 326.9 163.9 327.2 164.7 327.5 164.0 327.8 164.6 328.1 163.7 328.3 163.5 328.6 164.1 328.9 164.0 329.2 163.8 329.5 163.3 329.7 163.8 330.0 162.9 330.3 163.2 330.6 162.9 330.8 163.0 331.1 163.3 331.4 162.7 331.7 162.9 332.0 162.9 332.2 161.9 332.5 162.0 332.8 162.2 333.1 162.0 333.4 162.2 333.6 161.3 333.9 162.1 334.2 162.0 334.5 161.6 334.8 161.1 335.1 161.6 335.4 161.4 335.6 161.7 335.9 161.5 336.2 161.8 336.5 161.3 336.8 162.0 337.1 160.7 337.4 161.1 337.7 161.7 338.0 161.0 338.3 161.8 338.6 161.0 338.9 161.5 339.2 161.1 339.5 161.2 339.8 161.3 340.1 161.1 340.4 160.9 340.6 161.7 340.9 160.8 341.2 160.3 341.5 160.9 341.7 160.8 342.0 160.8 342.3 160.9 342.6 159.7 342.8 160.4 343.1 160.3 343.4 159.7 343.7 159.7 343.9 158.3 344.2 159.2 344.5 160.1 344.7 158.7 345.0 159.2 345.3 159.6 345.5 159.8 345.8 160.3 346.0 159.2 346.3 160.0 346.5 160.5 346.8 159.8 347.1 160.5 347.3 161.3 347.6 161.3 347.8 161.1 348.1 160.1 348.4 161.1 348.6 161.3 348.9 161.1 349.2 161.2 349.4 162.3 349.7 161.0 350.0 160.6 350.3 161.0 350.5 160.7 350.8 160.5 351.1 160.5 351.4 160.7 351.7 160.4 351.9 159.8 352.2 160.1 352.5 160.2 352.8 159.7 353.1 160.2 353.3 160.0 353.6 159.2 353.9 159.6 354.2 160.1 354.4 159.8 354.7 159.0 355.0 159.3 355.2 158.5 355.5 158.1 355.8 158.7 356.0 158.4 356.3 158.4 356.5 158.0 356.8 158.0 357.0 157.5 357.3 157.7 357.5 157.7 357.8 157.2 358.0 157.4 358.3 156.1 358.5 156.4 358.8 157.2 359.1 157.2 359.3 156.5 359.6 156.3 359.9 155.8 360.2 156.5 360.4 156.7 360.7 155.7 361.0 156.7 361.3 156.7 361.6 156.8 361.9 156.1 362.2 156.9 362.5 156.0 362.8 157.3 363.1 156.7 363.4 156.1 363.7 157.1 364.0 157.0 364.2 156.1 364.5 157.3 364.8 155.8 365.1 156.3 365.4 156.6 365.7 155.0 366.0 156.4 366.3 155.9 366.6 155.8 366.9 155.3 367.2 155.8 367.5 155.1 367.7 155.1 368.0 155.3 368.3 154.8 368.6 156.0 368.9 154.7 369.2 154.9 369.5 155.0 369.8 155.1 370.1 155.4 370.4 155.3 370.7 154.8 371.0 154.7 371.3 154.8 371.6 155.1 371.9 155.0 372.2 154.4 372.5 153.6 372.8 155.5 373.0 154.9 373.3 154.5 373.6 154.5 373.9 154.0 374.2 153.8 374.5 154.0 374.8 154.0 375.1 153.8 375.4 153.3 375.7 153.8 376.0 154.1 376.3 153.6 376.6 153.8 376.9 152.7 377.2 153.5 377.5 153.5 377.8 152.9 378.0 152.6 378.3 153.5 378.6 152.9 378.9 153.4 379.2 152.9 379.5 153.4 379.8 152.8 380.1 152.2 380.4 152.8 380.7 152.6 381.0 153.0 381.3 152.4 381.6 152.4 381.8 152.9 382.1 153.0 382.4 152.7 382.7 152.8 383.0 152.5 383.3 152.5 383.6 152.5 383.9 152.2 384.2 152.0 384.5 152.0 384.8 153.0 385.1 151.8 385.4 151.6 385.7 151.5 386.0 151.6 386.2 151.6 386.5 150.9 386.8 150.4 387.1 151.5 387.4 150.5 387.7 151.3 388.0 151.2 388.3 151.7 388.6 151.9 388.9 151.2 389.2 150.6 389.5 150.2 389.8 150.4 390.1 150.7 390.4 149.6 390.7 150.6 390.9 150.5 391.2 150.8 391.5 150.2 391.8 150.4 392.1 149.9 392.4 150.0 392.7 149.2 393.0 150.2 393.3 150.8 393.6 150.1 393.9 150.1 394.2 149.3 394.5 150.5 394.8 149.3 395.1 150.1 395.4 149.7 395.7 149.0 395.9 150.0 396.2 149.4 396.5 149.5 396.8 149.5 397.1 149.2 397.4 149.0 397.7 149.4 398.0 148.8 398.3 149.0 398.6 148.6 398.9 148.1 399.2 148.5 399.5 148.5 399.8 148.7 400.1 149.3 400.4 147.7 400.7 148.6 400.9 147.3 401.2 147.8 401.5 148.1 401.8 147.0 402.1 147.2 402.4 148.2 402.7 148.1 403.0 147.9 403.3 147.5 403.6 149.0 403.9 147.6 404.1 147.2 404.4 148.5 404.7 147.8 405.0 147.1 405.3 147.9 405.6 147.2 405.8 147.4 406.1 147.1 406.4 146.3 406.7 147.3 407.0 146.7 407.3 146.0 407.5 146.0 407.8 146.9 408.1 146.0 408.4 146.2 408.7 146.4 409.0 146.0 409.2 145.0 409.5 146.1 409.8 146.2 410.1 146.0 410.4 146.3 410.6 145.5 410.9 145.6 411.1 145.9 411.4 144.6 411.6 145.6 411.8 145.4 412.1 144.7 412.3 145.1 412.5 144.3 412.8 143.1 413.0 144.1 413.2 143.4 413.4 143.3 413.7 143.0 413.9 143.5 414.1 142.8 414.4 141.9 414.6 142.4 414.8 142.3 415.0 141.2 415.2 141.2 415.4 141.0 415.6 140.7 415.8 141.0 416.0 141.2 416.2 141.5 416.4 140.9 416.6 140.5 416.8 140.4 417.0 140.3 417.1 138.9 417.3 139.5 417.5 139.1 417.7 138.7 417.9 138.5 418.2 138.5 418.4 138.7 418.6 138.2 418.8 139.5 419.1 139.3 419.3 139.6 419.5 139.9 419.8 140.3 420.0 139.7 420.3 140.1 420.5 139.3 420.8 139.0 421.0 139.2 421.3 141.4 421.6 139.3 421.8 140.7 422.1 141.2 422.4 139.9 422.7 141.2 423.0 141.2 423.3 140.6 423.6 141.4 423.9 140.2 424.1 139.2 424.4 140.0 424.7 139.3 425.0 138.6 425.3 138.5 425.6 140.7 425.8 138.8 426.1 139.0 426.4 138.4 426.6 138.8 426.8 138.4 427.1 138.1 427.3 137.3 427.5 137.0 427.8 137.3 428.0 137.7 428.2 138.7 428.4 137.9 428.7 138.2 428.9 137.1 429.1 136.5 429.3 135.5 429.6 136.2 429.8 134.5 430.0 135.6 430.3 136.7 430.5 135.6 430.7 136.0 430.9 134.7 431.2 133.8 431.4 134.3 431.6 134.1 431.8 135.1 432.1 135.4 432.3 133.3 432.5 133.4 432.8 133.3 433.0 133.0 433.2 132.2 433.4 132.9 433.7 132.9 433.9 132.7 434.1 131.4 434.4 132.0 434.6 130.6 434.8 132.4 435.1 130.8 435.3 131.1 435.5 130.8 435.8 130.5 436.0 130.0 436.2 129.3 436.5 131.7 436.7 130.5 437.0 130.3 437.3 131.6 437.5 129.9 437.8 130.3 438.1 129.9 438.4 130.7 438.7 130.2 439.0 130.0 439.3 129.6 439.6 130.0 439.9 130.6 440.2 128.2 440.5 129.6 440.8 129.4 441.1 129.4 441.4 128.1 441.7 130.1 442.0 128.9 442.3 129.3 442.6 129.1 442.9 128.2 443.2 129.0 443.5 127.9 443.8 128.6 444.1 129.0 444.4 129.2 444.7 129.2 445.0 129.0 445.3 130.6 445.5 129.3 445.8 128.0 446.1 128.4 446.4 128.3 446.7 128.7 447.0 128.3 447.3 128.0 447.6 129.9 447.9 128.7 448.2 128.3 448.5 128.4 448.8 128.4 449.1 129.6 449.4 128.8 449.7 129.3 450.0 126.0 450.3 128.6 450.6 129.2 450.9 129.8 451.2 128.3 451.5 127.0 451.8 128.7 452.1 127.7 452.4 126.8 452.7 127.7 453.0 128.9 453.3 129.0 453.6 128.6 453.9 127.2 454.2 129.9 454.5 127.1 454.8 127.9 455.1 126.8 455.4 128.9 455.7 128.1 456.0 128.5 456.3 127.8 456.6 127.7 456.9 127.9 457.2 126.3 457.5 128.6 457.8 128.5 458.1 127.6 458.3 128.0 458.6 128.3 458.9 129.3 459.2 128.5 459.5 128.3 459.8 127.9 460.1 127.2 460.4 128.0 460.7 128.6 461.0 128.4 461.3 128.7 461.6 129.3 461.8 129.2 462.1 129.1 462.4 129.5 462.7 129.2 463.0 129.1 463.3 129.6 463.6 128.0 463.9 130.4 464.1 128.6 464.4 130.3 464.7 129.8 465.0 130.7 465.2 130.0 465.5 129.4 465.8 131.0 466.1 130.5 466.4 130.5 466.6 130.6 466.9 131.4 467.2 131.4 467.5 131.1 467.8 129.9 468.0 130.8 468.3 131.3 468.6 132.7 468.9 131.7 469.1 131.5 469.4 132.6 469.7 131.7 470.0 131.9 470.3 132.1 470.5 131.1 470.8 133.0 471.1 132.7 471.4 132.3 471.6 131.8 471.9 132.9 472.2 133.9 472.4 132.6 472.7 132.4 473.0 133.6 473.2 132.3 473.5 132.0 473.8 133.4 474.1 133.4 474.3 133.8 474.6 133.7 474.9 134.5 475.1 134.2 475.4 134.1 475.7 134.3 475.9 135.2 476.2 135.6 476.5 135.7 476.7 135.7 477.0 133.0 477.3 134.8 477.6 135.4 477.8 135.9 478.1 134.7 478.4 137.0 478.6 136.3 478.9 135.9 479.1 136.5 479.4 136.4 479.7 136.2 479.9 137.2 480.2 136.8 480.4 136.3 480.7 136.9 480.9 137.5 481.2 137.0 481.4 138.7 481.7 137.3 482.0 139.3 482.2 138.9 482.5 137.8 482.7 138.7 483.0 139.5 483.2 138.8 483.5 138.3 483.8 139.3 484.0 140.7 484.3 138.6 484.5 140.1 484.8 139.9 485.0 140.0 485.3 139.9 485.5 140.2 485.8 141.2 486.0 141.1 486.3 140.2 486.5 142.0 486.8 140.4 487.0 141.8 487.3 141.7 487.5 142.5 487.7 142.2 488.0 142.8 488.2 142.3 488.4 143.1 488.7 142.9 488.9 144.2 489.1 142.7 489.4 144.0 489.6 143.7 489.8 143.7 490.1 143.5 490.3 144.3 490.6 143.3 490.8 143.6 491.0 145.0 491.3 143.8 491.5 145.8 491.7 145.0 492.0 145.5 492.2 145.5 492.4 145.9 492.7 145.7 492.9 145.8 493.1 146.2 493.4 147.0 493.6 147.3 493.8 147.5 494.1 147.2 494.3 147.1 494.6 146.4 494.8 147.9 495.0 148.2 495.3 147.7 495.5 148.6 495.7 149.0 496.0 148.5 496.2 149.2 496.4 149.0 496.7 148.1 496.9 149.0 497.1 149.2 497.4 149.9 497.6 149.4 497.8 149.8 498.1 149.7 498.3 150.4 498.5 150.6 498.8 151.3 499.0 151.3 499.2 151.2 499.5 151.4 499.7 151.6 499.9 151.8 500.2 152.7 500.4 150.8 500.6 152.2 500.9 152.6 501.1 153.2 501.3 152.3 501.6 153.2 501.8 153.6 502.1 153.1 502.3 152.6 502.6 153.5 502.8 153.3 503.0 154.4 503.3 153.8 503.5 155.2 503.8 154.6 504.0 154.4 504.3 154.7 504.5 154.6 504.8 155.4 505.0 156.1 505.3 155.5 505.5 156.2 505.8 155.5 506.0 156.3 506.2 157.3 506.5 155.9 506.7 157.2 507.0 157.3 507.2 156.2 507.5 156.5 507.7 156.9 508.0 157.9 508.2 157.5 508.5 157.8 508.7 158.3 509.0 158.2 509.2 158.4 509.5 158.3 509.7 159.1 510.0 158.5 510.3 159.6 510.5 158.9 510.8 158.9 511.1 159.6 511.3 159.6 511.6 158.8 511.9 159.8 512.2 159.3 512.4 159.7 512.7 160.4 513.0 159.9 513.2 160.5 513.5 160.4 513.8 161.4 514.0 160.7 514.3 160.5 514.6 160.6 514.8 160.8 515.1 161.3 515.4 161.4 515.7 161.9 515.9 161.8 516.2 161.9 516.4 162.0 516.6 162.0 516.7 162.2" fill="none" stroke="#000000" stroke-width="2.1" stroke-linejoin="round" clip-path="url(#cB)"/>
<path d="M304.8 166.7 305.0 166.7 305.2 166.3 305.4 166.0 305.7 166.2 306.0 166.5 306.3 165.7 306.6 166.2 306.9 166.4 307.2 166.2 307.5 166.0 307.8 166.7 308.1 166.6 308.4 166.2 308.7 166.5 309.0 166.5 309.3 165.9 309.6 166.8 309.9 165.9 310.2 166.0 310.5 165.8 310.8 166.1 311.1 165.7 311.4 166.0 311.7 166.2 312.0 166.0 312.3 165.9 312.6 166.3 312.9 165.6 313.2 166.1 313.5 165.7 313.8 165.9 314.1 165.8 314.4 165.8 314.7 165.7 315.0 165.5 315.3 165.5 315.6 165.8 315.9 165.6 316.2 165.3 316.5 165.4 316.8 165.3 317.1 165.5 317.4 165.5 317.7 165.4 318.0 165.2 318.3 165.3 318.6 164.9 318.9 164.4 319.1 165.1 319.4 164.6 319.7 164.8 320.0 164.7 320.3 165.1 320.6 164.6 320.9 164.9 321.2 164.7 321.5 164.4 321.8 164.2 322.1 164.8 322.4 164.7 322.7 164.8 323.0 165.0 323.3 164.5 323.6 164.5 323.9 164.3 324.2 164.3 324.5 164.1 324.8 163.9 325.1 164.7 325.4 163.6 325.7 164.1 326.0 164.1 326.3 164.0 326.5 163.6 326.8 163.7 327.1 163.6 327.4 163.3 327.7 163.5 327.9 163.2 328.2 163.1 328.5 163.3 328.8 162.7 329.0 163.0 329.3 162.5 329.6 162.7 329.8 162.5 330.1 162.4 330.4 161.9 330.6 161.8 330.9 161.6 331.2 161.8 331.4 161.9 331.7 161.8 332.0 161.2 332.2 161.3 332.5 160.6 332.8 160.2 333.0 160.5 333.3 160.4 333.6 160.0 333.8 159.7 334.1 160.4 334.3 159.7 334.6 159.3 334.8 160.5 335.1 159.6 335.3 159.2 335.6 159.4 335.8 158.7 336.1 159.4 336.3 158.1 336.6 158.0 336.8 158.3 337.1 157.9 337.3 158.5 337.6 157.3 337.8 157.4 338.1 157.7 338.4 157.6 338.6 157.7 338.9 157.3 339.2 157.9 339.5 156.8 339.8 156.9 340.0 157.1 340.3 156.5 340.6 156.4 340.9 156.2 341.2 156.1 341.4 155.8 341.7 155.9 342.0 155.4 342.3 156.0 342.5 155.1 342.8 156.4 343.1 156.2 343.4 155.8 343.7 155.2 343.9 155.0 344.2 155.5 344.5 155.0 344.8 155.0 345.0 154.4 345.3 155.0 345.6 154.1 345.8 154.3 346.1 153.4 346.3 153.7 346.6 154.0 346.8 153.5 347.1 153.3 347.3 153.6 347.6 153.1 347.8 153.5 348.1 151.8 348.3 152.9 348.6 152.7 348.8 151.7 349.1 151.6 349.3 152.3 349.6 151.3 349.8 151.3 350.0 151.6 350.2 151.0 350.4 151.2 350.6 150.4 350.8 150.7 351.0 150.8 351.2 150.2 351.4 148.8 351.6 149.9 351.7 149.4 351.9 148.7 352.1 149.5 352.3 147.8 352.5 149.2 352.6 147.8 352.8 148.6 353.0 147.6 353.2 146.8 353.4 147.2 353.6 147.1 353.7 146.9 353.9 147.0 354.1 145.8 354.3 146.2 354.4 146.1 354.6 145.3 354.7 144.7 354.8 144.5 354.9 145.0 355.0 144.8 355.1 143.7 355.2 143.1 355.3 144.1 355.4 142.4 355.5 143.0 355.6 142.2 355.6 141.5 355.7 142.1 355.8 141.7 355.9 142.2 356.0 142.4 356.1 140.8 356.1 141.2 356.2 140.9 356.3 139.8 356.4 139.3 356.5 140.3 356.5 139.0 356.6 138.9 356.7 138.4 356.8 138.2 356.9 137.7 357.0 138.1 357.0 138.1 357.1 136.9 357.2 136.1 357.3 136.6 357.4 135.5 357.5 135.6 357.5 136.4 357.6 136.7 357.7 135.4 357.9 134.3 358.0 135.1 358.2 133.1 358.3 133.7 358.5 134.8 358.7 134.1 358.9 132.7 359.1 132.3 359.3 133.5 359.5 132.8 359.7 132.4 359.9 132.9 360.1 132.3 360.3 131.6 360.5 133.3 360.7 132.6 360.8 132.6 361.0 132.6 361.1 133.8 361.3 133.4 361.5 134.5 361.6 134.3 361.8 135.3 362.0 134.7 362.1 134.8 362.3 134.3 362.4 135.1 362.6 136.3 362.8 137.9 362.9 135.7 363.1 136.1 363.3 137.1 363.4 137.5 363.6 137.0 363.8 137.6 364.0 136.8 364.2 137.6 364.4 138.3 364.6 138.7 364.8 137.7 365.1 137.5 365.3 137.7 365.6 137.9 365.8 137.4 366.1 136.6 366.3 137.0 366.6 137.2 366.8 136.1 367.1 135.6 367.3 136.5 367.6 136.2 367.8 136.4 368.1 135.7 368.3 135.2 368.6 135.1 368.8 134.6 369.1 134.5 369.3 134.6 369.6 134.4 369.8 135.2 370.1 133.7 370.3 134.2 370.6 133.7 370.9 134.8 371.1 133.9 371.4 133.4 371.6 133.9 371.9 133.3 372.1 132.8 372.4 133.9 372.6 133.2 372.9 133.7 373.1 133.2 373.4 132.8 373.7 132.2 373.9 131.3 374.2 132.3 374.4 131.7 374.7 131.9 374.9 131.3 375.2 130.7 375.4 130.4 375.6 131.2 375.9 131.4 376.1 130.3 376.4 130.5 376.6 130.9 376.8 129.4 377.1 129.5 377.3 128.9 377.6 130.1 377.8 129.3 378.0 128.7 378.3 127.8 378.5 128.5 378.8 129.1 379.0 128.1 379.2 127.8 379.5 128.3 379.7 127.0 380.0 127.6 380.2 127.8 380.4 126.7 380.7 126.5 380.9 127.0 381.1 126.5 381.3 126.2 381.6 126.3 381.8 126.1 382.0 125.2 382.2 125.1 382.4 125.6 382.6 125.8 382.8 125.8 383.0 124.1 383.2 125.2 383.4 124.8 383.7 124.0 383.9 124.2 384.1 124.2 384.3 124.6 384.5 122.5 384.7 123.4 385.0 122.7 385.2 122.5 385.4 123.2 385.6 122.7 385.8 121.3 386.1 121.6 386.3 121.7 386.5 120.4 386.7 121.8 387.0 120.9 387.2 120.9 387.4 120.8 387.6 121.6 387.8 120.2 388.1 119.7 388.3 121.0 388.5 119.2 388.7 119.0 389.0 118.2 389.2 119.7 389.4 118.9 389.6 118.9 389.8 118.5 390.1 118.1 390.3 117.4 390.5 117.2 390.7 117.8 391.0 117.4 391.2 118.3 391.4 116.4 391.6 116.4 391.8 115.8 392.1 117.3 392.3 115.3 392.5 116.5 392.7 116.8 393.0 115.4 393.2 115.9 393.4 113.6 393.7 114.7 393.9 113.6 394.1 114.7 394.3 114.4 394.6 113.6 394.8 114.7 395.0 114.0 395.2 113.2 395.5 113.0 395.7 112.1 395.9 112.9 396.2 114.4 396.4 112.1 396.6 112.7 396.8 111.8 397.1 112.6 397.3 112.1 397.5 111.4 397.7 110.1 398.0 110.8 398.2 111.9 398.4 110.6 398.7 111.1 398.9 110.1 399.1 108.9 399.4 110.4 399.6 110.1 399.8 109.3 400.1 109.2 400.3 109.6 400.6 108.7 400.8 109.3 401.0 108.6 401.3 106.8 401.5 108.3 401.8 107.8 402.0 107.4 402.2 108.2 402.5 107.3 402.7 107.9 402.9 108.2 403.2 107.3 403.4 105.8 403.7 106.2 403.9 107.3 404.1 106.2 404.4 105.6 404.6 106.0 404.8 106.3 405.1 105.9 405.3 106.0 405.5 104.6 405.7 104.9 405.9 104.7 406.1 104.6 406.3 102.7 406.5 104.0 406.7 102.9 406.9 104.8 407.1 104.7 407.3 104.6 407.5 103.7 407.7 102.4 407.9 103.4 408.1 102.2 408.3 102.6 408.5 101.2 408.7 101.2 408.9 101.8 409.1 102.7 409.3 101.0 409.5 102.6 409.7 102.8 409.9 99.3 410.0 100.1 410.2 99.0 410.4 99.5 410.5 98.9 410.7 99.0 410.8 99.6 411.0 99.3 411.1 98.5 411.2 98.0 411.3 97.8 411.4 97.6 411.6 97.7 411.7 96.9 411.8 97.0 411.9 95.2 412.0 96.7 412.1 97.3 412.3 95.7 412.4 94.0 412.5 96.1 412.6 94.4 412.7 91.8 412.9 93.9 413.0 94.4 413.1 93.9 413.2 94.4 413.3 93.6 413.5 92.9 413.6 90.7 413.7 91.2 413.7 92.1 413.8 92.2 413.9 90.4 414.0 90.5 414.0 91.2 414.1 88.7 414.2 88.4 414.2 89.7 414.3 89.8 414.3 88.8 414.4 86.9 414.4 88.7 414.5 87.2 414.5 88.7 414.6 87.7 414.7 87.7 414.7 87.8 414.8 86.4 414.8 87.4 414.9 87.5 414.9 86.4 415.0 87.0 415.1 84.9 415.1 86.0 415.2 85.1 415.2 83.6 415.3 84.2 415.3 83.5 415.4 83.2 415.5 83.5 415.5 84.1 415.6 82.5 415.6 82.6 415.7 80.8 415.7 82.0 415.8 82.7 415.9 82.1 415.9 81.5 416.0 80.2 416.0 79.5 416.1 80.0 416.1 78.5 416.2 78.3 416.3 80.2 416.3 78.1 416.4 80.4 416.4 77.0 416.4 78.5 416.5 76.6 416.5 77.6 416.6 76.1 416.6 76.9 416.7 76.4 416.7 75.8 416.7 76.5 416.8 77.2 416.8 74.8 416.9 76.0 416.9 74.9 416.9 74.5 417.0 76.4 417.0 71.7 417.1 72.9 417.1 71.5 417.1 72.7 417.2 72.5 417.2 76.3 417.3 72.5 417.3 73.6 417.3 72.8 417.4 70.8 417.4 71.4 417.5 72.3 417.5 70.5 417.5 70.2 417.6 70.2 417.6 67.9 417.7 68.3 417.7 69.2 417.7 69.1 417.8 67.3 417.8 67.6 417.9 67.5 417.9 67.2 418.0 67.8 418.0 66.9 418.0 66.6 418.1 64.7 418.1 64.7 418.2 65.9 418.2 63.6 418.2 65.2 418.3 64.0 418.3 63.5 418.4 64.8 418.4 63.2 418.5 62.8 418.6 62.9 418.6 63.7 418.7 66.6 418.9 61.5 419.0 63.9 419.1 63.9 419.2 65.4 419.4 64.3 419.5 62.3 419.7 66.6 419.8 64.3 419.9 65.7 420.1 64.6 420.2 65.1 420.3 66.0 420.5 67.7 420.6 68.0 420.8 66.7 420.9 68.1 421.0 67.5 421.2 68.2 421.3 68.4 421.5 69.0 421.7 67.8 421.9 68.4 422.1 68.7 422.3 68.5 422.6 67.5 422.8 69.9 423.1 67.5 423.3 68.6 423.6 67.9 423.8 68.7 424.0 65.0 424.2 69.2 424.4 66.7 424.6 65.4 424.8 66.6 425.0 68.6 425.1 66.5 425.2 64.3 425.3 64.9 425.5 66.5 425.6 63.3 425.7 64.3 425.8 64.0 425.9 66.3 426.0 63.4 426.2 64.8 426.3 62.4 426.4 62.0 426.5 63.7 426.6 63.0 426.8 60.2 426.9 62.5 427.0 62.2 427.1 60.6 427.2 61.2 427.3 61.0 427.5 59.9 427.6 59.5 427.7 59.1 427.8 59.3 427.9 57.8 428.1 59.0 428.2 57.1 428.3 58.5 428.4 58.1 428.4 56.7 428.5 58.5 428.6 59.5 428.7 58.5 428.7 55.2 428.8 57.8 428.8 56.4 428.9 55.8 429.0 54.9 429.0 55.2 429.1 56.5 429.1 55.3 429.2 53.9 429.2 53.3 429.3 53.3 429.3 54.1 429.4 55.3 429.4 51.7 429.5 52.6 429.6 51.8 429.6 51.1 429.7 52.1 429.7 52.0 429.8 49.5 429.8 49.6 429.9 51.9 429.9 50.6 430.0 50.5 430.0 49.0 430.1 48.9 430.2 49.6 430.2 48.2 430.3 47.2 430.3 48.2 430.4 48.9 430.4 46.4 430.5 48.5 430.5 47.8 430.6 45.7 430.7 46.4 430.7 46.0 430.8 46.5 430.8 46.3 430.9 43.7 430.9 43.3 431.0 45.8 431.0 44.4 431.1 44.5 431.1 44.1 431.2 45.2 431.3 41.7 431.3 44.1 431.4 41.6 431.4 43.1 431.5 43.6 431.5 40.0 431.6 41.8 431.6 40.7 431.7 40.4 431.7 40.5 431.8 38.9 431.9 38.7 431.9 40.4 432.0 40.3 432.0 38.3 432.1 36.9 432.1 41.2 432.2 39.4 432.2 38.3 432.3 36.3 432.4 36.5 432.5 37.2 432.5 35.5 432.6 38.3 432.7 36.2 432.8 36.3 432.9 34.2 433.0 34.1 433.1 34.0 433.2 35.0 433.3 34.0 433.3 33.7 433.4 34.2 433.5 33.8 433.6 35.1 433.7 32.7 433.8 31.4 433.9 32.3 434.0 33.9 434.1 31.1 434.2 31.6 434.3 30.8 434.4 31.4 434.5 31.0 434.6 29.3 434.7 29.8 434.8 31.0 434.8 30.9 434.9 30.4 435.0 30.0 435.1 28.2 435.2 27.9 435.3 29.3 435.4 26.3 435.5 27.4 435.6 24.9 435.7 26.5 435.8 25.7 435.9 24.8 436.0 26.8 436.1 24.9 436.2 25.0 436.3 24.9 436.3 24.0 436.4 26.5 436.5 23.7 436.6 24.3 436.7 22.1 436.8 22.9 437.0 22.8 437.1 22.6 437.2 21.9 437.3 22.6 437.5 24.2 437.6 21.7 437.8 21.5 438.0 20.9 438.1 24.5 438.3 23.0 438.4 21.4 438.6 21.4 438.8 19.3 439.0 19.9 439.3 20.3 439.5 20.0 439.8 18.7 440.1 18.7 440.4 20.4 440.7 20.1 441.0 16.9 441.3 19.7 441.6 21.2 441.9 18.7 442.2 19.8 442.5 17.5 442.8 20.5 443.1 17.8 443.3 17.6 443.6 18.8 443.9 22.2 444.2 18.2 444.5 17.3 444.8 19.4 445.0 19.0 445.3 20.8 445.6 16.8 445.8 16.2 446.1 17.7 446.4 18.5 446.6 18.3 446.9 19.1 447.1 15.5 447.4 16.3 447.6 17.0 447.9 18.2 448.2 17.5 448.4 16.2 448.7 15.2 448.9 17.6 449.2 17.5 449.4 19.7 449.7 15.7 449.9 18.0 450.2 14.0 450.4 14.7 450.7 14.4 450.9 14.5 451.2 13.8 451.4 14.1 451.7 14.5 451.9 13.8 452.2 15.2 452.4 14.0 452.7 13.9 452.9 15.7 453.1 13.9 453.3 13.5 453.5 13.1 453.7 13.0 453.9 13.4 454.1 11.3 454.3 13.7 454.5 14.1 454.7 13.3 454.9 10.8 455.0 9.1 455.2 10.4 455.4 11.0 455.6 11.7 455.8 10.1 456.0 9.7 456.2 12.0 456.5 8.8 456.7 11.0 456.9 10.6 457.2 7.4 457.5 9.5 457.7 8.3 458.0 7.7 458.3 6.5 458.5 6.9 458.8 9.7 459.1 8.6 459.4 9.6 459.7 7.9 459.9 9.1 460.2 9.2 460.5 7.6 460.7 7.6 461.0 10.6 461.2 10.4 461.5 9.1 461.7 10.5 461.9 11.7 462.0 13.5 462.2 10.1 462.3 12.4 462.5 14.7 462.6 12.2 462.8 14.3 462.9 9.1 463.0 14.8 463.2 13.1 463.3 10.9 463.4 14.7 463.6 15.3 463.7 15.8 463.8 16.1 464.0 14.7 464.1 14.0 464.3 14.6 464.4 15.5 464.6 16.3 464.8 15.4 464.9 16.3 465.1 17.7 465.3 17.2 465.4 20.0 465.6 20.1 465.8 16.0 466.0 17.0 466.2 16.2 466.3 16.7 466.5 19.2 466.7 17.4 466.9 17.6 467.0 18.8 467.2 20.5 467.4 19.2 467.5 19.5 467.7 21.4 467.8 21.1 467.9 21.3 468.1 22.2 468.2 20.0 468.3 21.8 468.5 21.0 468.6 23.4 468.7 23.4 468.8 21.3 469.0 24.7 469.1 21.7 469.2 25.0 469.3 24.0 469.5 22.9 469.6 22.8 469.7 24.2 469.8 24.8 470.0 24.2 470.1 26.1 470.2 23.8 470.3 25.9 470.5 26.2 470.6 24.1 470.7 27.1 470.8 25.4 471.0 24.1 471.1 26.8 471.2 27.5 471.3 29.2 471.5 27.8 471.6 30.5 471.7 30.7 471.8 30.6 472.0 31.1 472.1 30.2 472.2 29.3 472.4 31.1 472.5 31.8 472.6 31.1 472.7 30.8 472.9 29.4 473.0 32.5 473.1 32.4 473.2 30.6 473.4 32.6 473.5 33.6 473.6 32.9 473.7 34.3 473.9 34.5 474.0 32.0 474.1 33.7 474.3 35.0 474.4 35.8 474.5 36.6 474.7 32.8 474.8 35.4 474.9 36.6 475.1 37.5 475.2 38.3 475.3 35.4 475.5 36.3 475.6 35.8 475.7 38.3 475.9 36.0 476.0 39.3 476.1 39.3 476.3 39.0 476.4 36.0 476.5 38.1 476.7 40.1 476.8 37.8 476.9 39.5 477.1 39.9 477.2 41.4 477.3 40.9 477.5 41.1 477.6 40.6 477.7 41.4 477.9 41.5 478.0 42.8 478.1 41.9 478.3 43.7 478.4 40.7 478.6 44.4 478.7 43.0 478.8 44.8 479.0 43.9 479.1 45.1 479.2 46.1 479.4 43.9 479.5 44.9 479.6 44.9 479.8 45.6 479.9 43.8 480.0 45.7 480.2 45.9 480.3 45.5 480.4 46.5 480.6 45.2 480.7 48.9 480.8 48.1 481.0 50.0 481.1 47.1 481.2 47.0 481.4 48.9 481.5 47.0 481.6 49.4 481.7 48.6 481.8 49.3 481.9 50.3 482.0 50.3 482.1 52.7 482.2 51.6 482.3 49.7 482.4 52.5 482.5 50.2 482.6 52.1 482.7 50.9 482.8 51.6 482.9 54.3 483.0 52.5 483.1 52.7 483.2 53.1 483.3 53.6 483.4 55.9 483.5 53.2 483.6 53.5 483.6 55.8 483.7 53.6 483.8 55.3 483.9 57.2 484.0 56.3 484.1 56.0 484.2 56.0 484.3 56.1 484.4 56.8 484.5 57.8 484.6 59.3 484.7 59.3 484.8 57.9 484.9 58.0 485.0 59.9 485.1 57.4 485.2 59.2 485.3 59.6 485.3 59.0 485.4 59.5 485.5 61.2 485.6 59.3 485.7 60.4 485.8 61.0 485.9 62.0 486.0 60.8 486.1 63.7 486.2 62.5 486.3 62.8 486.4 63.0 486.5 62.9 486.6 62.9 486.7 65.4 486.8 64.7 486.9 64.7 487.0 66.1 487.1 64.6 487.1 66.3 487.2 66.0 487.3 65.3 487.4 67.3 487.5 65.2 487.6 67.7 487.7 66.4 487.8 68.1 487.9 69.4 488.0 68.8 488.1 67.9 488.2 68.7 488.3 68.7 488.4 68.1 488.5 68.5 488.6 70.0 488.7 70.7 488.8 68.7 488.9 70.7 489.0 71.6 489.1 71.4 489.2 70.6 489.3 72.9 489.4 70.9 489.5 73.1 489.6 74.3 489.7 71.0 489.8 73.6 489.9 73.9 490.0 74.1 490.1 73.4 490.2 74.1 490.3 73.3 490.4 75.1 490.5 75.8 490.6 74.9 490.7 74.9 490.8 75.6 491.0 76.4 491.1 76.7 491.2 76.8 491.3 77.3 491.4 76.2 491.5 75.1 491.6 78.7 491.7 79.7 491.8 77.3 491.9 78.3 492.0 79.5 492.1 80.4 492.2 80.4 492.3 81.3 492.4 80.3 492.5 81.0 492.6 81.3 492.7 80.8 492.9 82.6 493.0 82.3 493.1 82.9 493.2 81.9 493.3 83.5 493.4 81.9 493.5 83.5 493.6 81.0 493.7 82.8 493.8 84.7 493.9 83.8 494.0 84.7 494.1 83.3 494.2 86.5 494.3 85.9 494.4 85.6 494.5 86.3 494.6 86.5 494.8 87.8 494.9 87.0 495.0 85.7 495.1 87.1 495.2 88.8 495.3 88.4 495.4 87.8 495.5 89.0 495.6 88.9 495.7 89.6 495.8 87.9 495.9 88.8 496.0 90.5 496.1 90.0 496.2 90.8 496.3 92.5 496.4 90.7 496.5 91.5 496.7 91.1 496.8 91.3 496.9 92.1 497.0 91.2 497.1 90.9 497.2 94.2 497.3 93.2 497.4 94.5 497.5 93.9 497.6 94.2 497.7 95.0 497.8 95.3 497.9 93.9 498.0 96.3 498.1 94.7 498.2 96.0 498.4 98.2 498.5 96.4 498.6 98.0 498.7 96.6 498.8 97.7 498.9 97.5 499.0 98.1 499.1 97.3 499.2 97.6 499.3 98.9 499.4 97.6 499.5 98.5 499.6 100.0 499.7 99.2 499.8 99.3 499.9 99.4 500.1 100.7 500.2 100.6 500.3 101.3 500.4 101.3 500.5 103.2 500.6 101.6 500.7 100.7 500.8 102.6 500.9 102.8 501.0 103.2 501.1 102.1 501.2 104.6 501.3 103.9 501.4 104.2 501.5 103.3 501.6 105.2 501.8 105.0 501.9 106.4 502.0 105.3 502.1 105.0 502.2 106.3 502.3 105.8 502.4 107.1 502.5 106.2 502.6 107.2 502.7 107.4 502.8 107.9 502.9 107.8 503.0 107.8 503.1 108.7 503.2 108.6 503.3 109.4 503.4 109.4 503.5 108.2 503.6 110.1 503.7 111.5 503.8 111.0 503.9 111.5 503.9 111.6 504.0 111.3 504.1 110.9 504.2 112.8 504.3 113.2 504.4 113.2 504.4 113.3 504.5 113.6 504.6 113.6 504.7 114.1 504.8 114.2 504.9 114.7 504.9 114.1 505.0 114.6 505.1 115.8 505.2 115.4 505.3 114.2 505.4 116.3 505.4 114.9 505.5 118.1 505.6 117.6 505.7 117.8 505.8 117.2 505.9 117.2 505.9 118.1 506.0 118.5 506.1 118.3 506.2 119.2 506.3 119.9 506.4 120.1 506.4 119.3 506.5 118.8 506.6 120.6 506.7 120.4 506.8 121.4 506.9 122.5 506.9 122.8 507.0 122.2 507.1 123.0 507.2 123.6 507.3 122.9 507.4 123.3 507.4 124.0 507.5 123.7 507.6 123.7 507.7 123.8 507.8 124.6 507.9 124.5 508.0 125.7 508.0 125.3 508.1 126.7 508.2 126.8 508.3 125.6 508.4 127.3 508.5 126.7 508.5 128.0 508.6 127.8 508.7 127.8 508.8 128.5 508.9 128.0 509.0 128.8 509.0 129.2 509.1 129.1 509.2 129.7 509.3 129.2 509.4 130.4 509.5 129.6 509.6 131.0 509.8 131.2 509.9 131.6 510.0 131.1 510.1 133.5 510.2 131.9 510.4 132.4 510.5 132.1 510.6 133.7 510.7 132.9 510.8 134.0 511.0 133.1 511.1 134.1 511.2 134.0 511.3 135.0 511.4 134.6 511.6 134.6 511.7 135.6 511.8 135.0 511.9 135.4 512.0 136.6 512.2 135.4 512.3 137.1 512.4 136.8 512.5 136.8 512.6 137.7 512.8 138.1 512.9 137.8 513.0 138.3 513.1 139.1 513.2 139.3 513.4 139.2 513.5 139.1 513.6 139.3 513.7 139.7 513.8 140.6 514.0 140.9 514.1 141.0 514.2 141.8 514.4 141.2 514.5 141.5 514.6 141.7 514.7 143.1 514.9 141.5 515.0 142.9 515.1 143.2 515.3 143.3 515.4 144.7 515.5 144.4 515.7 144.5 515.8 143.9 515.9 144.9 516.1 144.7 516.2 145.2 516.3 145.5 516.5 145.5 516.6 146.2 516.7 146.9 516.8 146.8 516.9 146.6" fill="none" stroke="#ff0000" stroke-width="1.9" stroke-linejoin="round" clip-path="url(#cB)"/>
<path d="M327.4 163.6 327.6 164.4 327.7 164.3 328.0 163.9 328.2 163.7 328.5 163.9 328.8 163.4 329.0 163.7 329.3 163.0 329.6 163.0 329.9 163.1 330.1 162.6 330.4 162.9 330.7 162.9 331.0 162.3 331.2 162.8 331.5 162.2 331.8 162.4 332.1 162.2 332.3 161.9 332.6 161.8 332.9 161.3 333.2 161.5 333.4 161.3 333.7 161.9 334.0 161.6 334.3 160.8 334.5 161.3 334.8 161.0 335.1 160.7 335.3 160.8 335.6 160.7 335.8 160.1 336.1 160.1 336.3 160.1 336.6 159.5 336.8 159.7 337.1 159.5 337.3 159.1 337.6 158.9 337.8 159.1 338.1 159.1 338.4 158.8 338.6 158.2 338.9 158.6 339.1 158.3 339.4 158.2 339.6 158.3 339.9 157.4 340.1 157.5 340.4 157.2 340.6 156.9 340.9 157.7 341.1 157.2 341.4 156.1 341.6 156.7 341.9 156.2 342.1 156.6 342.4 156.1 342.6 155.8 342.9 155.8 343.1 155.7 343.4 155.4 343.6 155.2 343.9 155.0 344.1 155.1 344.4 154.4 344.7 154.6 344.9 154.4 345.2 154.1 345.4 154.4 345.7 153.5 345.9 153.6 346.2 153.3 346.4 153.7 346.7 153.1 346.9 153.1 347.2 153.1 347.4 152.2 347.7 152.8 347.9 152.2 348.2 152.2 348.4 152.1 348.7 152.3 348.9 152.1 349.2 152.4 349.4 151.6 349.7 151.1 349.9 150.9 350.1 151.2 350.3 151.4 350.6 150.7 350.8 150.1 351.0 150.2 351.2 150.0 351.4 149.6 351.6 149.1 351.7 148.1 351.9 148.7 352.1 149.2 352.3 148.6 352.5 147.3 352.7 148.0 352.9 147.0 353.1 148.4 353.3 147.4 353.5 146.6 353.7 147.2 353.9 146.3 354.1 146.7 354.3 146.2 354.5 145.4 354.7 146.0 354.9 144.9 355.1 145.9 355.2 145.1 355.4 144.4 355.6 143.8 355.8 145.1 356.0 144.8 356.1 143.3 356.2 144.4 356.4 143.4 356.4 143.0 356.5 142.7 356.6 142.4 356.6 142.9 356.7 142.0 356.7 140.7 356.8 142.3 356.8 141.4 356.8 140.2 356.9 140.2 356.9 139.7 357.0 139.8 357.0 139.7 357.1 139.3 357.1 138.6 357.2 138.2 357.2 138.8 357.2 138.0 357.3 138.9 357.3 137.0 357.4 137.5 357.4 136.9 357.5 136.2 357.5 137.0 357.6 136.0 357.6 135.2 357.6 135.2 357.7 135.6 357.7 134.1 357.8 135.2 357.8 134.5 357.9 133.7 357.9 134.3 358.0 134.2 358.0 133.3 358.0 132.8 358.1 133.4 358.1 132.9 358.2 131.3 358.2 131.4 358.3 131.1 358.3 130.7 358.4 129.8 358.4 130.8 358.4 130.1 358.5 129.8 358.5 130.2 358.6 128.8 358.7 128.8 358.8 128.7 358.9 128.0 359.0 128.0 359.1 128.2 359.3 127.6 359.5 128.2 359.6 126.9 359.8 127.4 360.0 126.5 360.2 127.4 360.4 127.2 360.6 128.5 360.7 128.4 360.9 128.5 361.1 129.5 361.3 129.5 361.5 129.3 361.7 128.8 361.9 128.6 362.1 129.6 362.2 129.7 362.4 129.7 362.6 130.2 362.8 129.6 363.0 131.6 363.2 130.4 363.4 130.9 363.6 131.8 363.8 130.7 364.0 132.2 364.2 132.3 364.4 131.6 364.7 131.2 364.9 131.5 365.2 130.6 365.5 132.3 365.7 131.4 366.0 130.8 366.3 130.6 366.5 131.3 366.8 131.7 367.1 130.0 367.3 130.3 367.6 129.4 367.9 130.7 368.1 130.3 368.4 131.3 368.7 129.8 368.9 129.5 369.2 129.2 369.4 129.9 369.7 128.3 370.0 129.5 370.2 129.1 370.5 128.5 370.7 128.1 371.0 129.1 371.2 129.4 371.5 127.9 371.7 128.3 372.0 128.9 372.2 127.3 372.5 127.4 372.8 126.6 373.0 127.1 373.3 127.0 373.5 126.6 373.8 126.3 374.0 125.6 374.3 125.6 374.5 125.6 374.7 126.4 374.9 125.5 375.1 125.0 375.2 125.7 375.4 125.4 375.5 124.3 375.7 124.1 375.8 124.7 376.0 124.2 376.1 123.2 376.3 123.6 376.4 123.2 376.5 123.6 376.7 122.1 376.8 123.0 377.0 122.4 377.1 121.2 377.3 122.3 377.4 121.9 377.5 120.2 377.7 122.1 377.8 119.8 378.0 119.7 378.2 119.9 378.3 120.4 378.6 120.1 378.8 119.5 379.0 120.3 379.3 119.5 379.5 120.1 379.8 120.9 380.1 119.1 380.4 117.2 380.7 118.5 381.0 118.0 381.3 118.7 381.5 118.6 381.8 117.6 382.1 117.6 382.4 118.1 382.7 118.0 383.0 116.3 383.3 118.6 383.5 117.9 383.8 117.7 384.1 117.8 384.3 116.8 384.6 117.3 384.8 117.8 385.1 117.7 385.3 117.1 385.5 116.4 385.8 115.9 386.0 117.1 386.3 116.4 386.5 115.6 386.8 114.3 387.1 115.0 387.3 114.2 387.6 116.3 387.9 115.4 388.2 114.7 388.5 114.9 388.7 116.9 389.0 115.8 389.3 113.9 389.6 114.7 389.9 113.8 390.2 113.4 390.5 114.7 390.8 116.2 391.1 115.5 391.3 114.3 391.6 113.9 391.9 114.3 392.2 114.8 392.5 112.9 392.8 112.5 393.1 115.1 393.4 113.9 393.6 114.7 393.9 113.7 394.2 114.5 394.5 112.9 394.8 113.6 395.1 114.3 395.4 113.8 395.7 112.6 395.9 113.5 396.2 112.3 396.5 111.7 396.8 113.0 397.1 113.5 397.4 113.0 397.6 111.4 397.9 112.9 398.2 112.6 398.5 111.7 398.8 110.1 399.1 112.6 399.4 112.4 399.6 112.0 399.9 110.3 400.2 110.4 400.5 112.1 400.8 111.9 401.1 111.5 401.4 110.9 401.6 111.3 401.9 110.5 402.2 110.6 402.5 110.1 402.8 110.8 403.1 110.2 403.3 111.1 403.6 110.8 403.9 109.6 404.2 111.4 404.5 109.1 404.7 110.2 405.0 110.5 405.3 110.5 405.5 107.8 405.8 110.1 406.1 110.1 406.4 110.2 406.6 107.3 406.9 108.3 407.2 108.6 407.5 108.2 407.7 109.5 408.0 107.8 408.3 109.2 408.6 108.5 408.8 106.9 409.1 107.1 409.4 107.4 409.6 107.7 409.9 108.2 410.1 107.1 410.4 107.8 410.6 105.7 410.8 104.4 411.0 106.3 411.2 106.7 411.4 105.8 411.6 105.1 411.8 106.0 412.0 106.9 412.2 105.1 412.4 104.4 412.6 104.0 412.8 106.0 413.0 104.2 413.2 104.5 413.4 104.8 413.6 104.4 413.8 102.6 414.0 103.9 414.1 103.5 414.3 103.0 414.5 103.2 414.6 101.6 414.7 101.8 414.8 101.1 415.0 101.9 415.1 100.5 415.1 101.0 415.2 99.5 415.3 100.0 415.4 99.6 415.5 99.5 415.6 99.4 415.6 98.8 415.7 98.5 415.8 96.7 415.9 99.1 416.0 97.3 416.1 97.3 416.2 96.6 416.2 97.8 416.3 95.9 416.4 96.8 416.5 97.1 416.6 97.2 416.7 96.5 416.7 95.8 416.8 93.9 416.9 95.8 417.0 95.4 417.1 94.8 417.2 94.5 417.3 93.6 417.3 92.8 417.4 93.9 417.5 93.9 417.7 91.8 417.8 93.4 417.9 92.8 418.1 93.4 418.3 92.9 418.5 93.8 418.7 93.9 418.9 94.0 419.1 92.3 419.3 94.4 419.5 94.0 419.7 93.2 419.9 95.0 420.1 93.4 420.3 95.6 420.5 96.5 420.7 94.8 420.9 96.2 421.1 96.0 421.4 96.3 421.6 94.8 421.9 96.5 422.1 96.2 422.4 96.7 422.7 96.1 423.0 97.1 423.3 96.3 423.6 96.7 423.9 97.2 424.1 96.1 424.4 96.7 424.7 95.9 424.9 96.0 425.1 95.0 425.3 95.9 425.5 96.1 425.7 94.7 425.9 95.2 426.1 94.7 426.3 93.1 426.5 94.2 426.7 94.8 426.8 93.0 427.0 91.6 427.2 93.1 427.4 92.1 427.6 94.1 427.8 92.2 428.0 92.0 428.2 91.2 428.4 91.7 428.5 90.8 428.7 90.3 428.9 90.8 429.1 89.9 429.3 91.5 429.5 89.1 429.7 89.8 429.9 89.1 430.1 88.2 430.2 90.7 430.4 87.1 430.6 90.0 430.8 87.2 430.9 88.3 431.1 90.0 431.3 85.8 431.4 86.3 431.6 88.4 431.7 87.1 431.9 86.2 432.0 86.4 432.2 85.3 432.4 86.0 432.5 87.0 432.7 85.1 432.8 85.3 433.0 86.0 433.1 86.4 433.3 83.8 433.4 84.4 433.6 83.4 433.8 83.0 433.9 83.0 434.1 82.5 434.3 81.3 434.4 80.8 434.6 81.7 434.8 82.3 435.0 83.0 435.2 81.2 435.3 81.3 435.5 81.8 435.7 81.6 435.9 80.6 436.1 80.4 436.3 82.0 436.4 79.7 436.6 79.3 436.8 78.0 437.0 79.7 437.2 78.8 437.4 80.6 437.6 78.3 437.8 79.3 438.1 79.2 438.3 79.7 438.6 76.8 438.9 79.4 439.1 77.9 439.4 77.7 439.7 77.4 440.0 77.3 440.3 77.3 440.6 75.4 440.9 78.0 441.2 77.6 441.5 76.6 441.8 77.5 442.1 79.7 442.4 77.9 442.7 77.2 443.0 79.2 443.3 76.8 443.6 77.4 443.9 77.0 444.2 77.3 444.5 78.2 444.8 78.1 445.1 76.8 445.4 77.4 445.7 77.6 446.0 77.1 446.3 77.5 446.6 76.8 446.9 76.8 447.2 77.5 447.5 76.5 447.8 77.9 448.1 77.3 448.4 76.6 448.7 76.9 449.0 77.0 449.3 77.3 449.6 77.5 449.9 77.2 450.2 76.6 450.5 78.7 450.8 78.2 451.1 77.5 451.4 78.3 451.7 77.7 452.0 77.1 452.3 77.4 452.6 79.8 452.9 78.3 453.2 78.3 453.5 76.9 453.8 77.9 454.1 79.4 454.4 77.7 454.7 78.3 455.0 78.5 455.3 77.9 455.6 78.8 455.9 77.5 456.2 77.7 456.5 76.7 456.8 79.7 457.1 77.5 457.4 77.4 457.7 78.6 458.0 76.8 458.3 77.3 458.6 76.6 458.9 77.4 459.2 77.1 459.4 78.1 459.7 77.5 460.0 77.2 460.3 77.6 460.6 77.9 460.8 77.6 461.1 79.1 461.4 79.0 461.7 78.6 462.0 77.4 462.2 79.1 462.5 77.6 462.7 79.1 463.0 79.1 463.2 78.7 463.4 78.7 463.6 79.0 463.8 81.8 464.0 79.9 464.2 80.2 464.4 81.5 464.6 81.2 464.8 82.0 464.9 80.2 465.1 80.6 465.3 84.8 465.5 82.0 465.7 82.0 465.8 82.7 466.0 83.7 466.2 81.9 466.4 83.5 466.6 83.5 466.7 84.3 466.9 84.1 467.1 83.7 467.3 83.6 467.5 82.5 467.7 85.7 467.9 83.8 468.1 85.0 468.3 87.0 468.5 85.4 468.7 86.5 468.9 86.1 469.1 87.1 469.3 86.7 469.5 86.5 469.7 88.3 469.9 87.1 470.1 86.4 470.3 87.4 470.6 88.4 470.8 87.2 471.0 89.0 471.3 89.1 471.5 90.5 471.8 88.3 472.0 89.6 472.2 87.8 472.5 89.0 472.7 89.7 473.0 90.1 473.2 89.9 473.4 90.0 473.7 89.8 473.9 90.1 474.2 90.9 474.4 91.3 474.6 91.6 474.9 92.0 475.1 92.4 475.4 90.0 475.6 91.3 475.8 91.8 476.1 91.6 476.3 93.2 476.5 93.1 476.7 92.6 476.9 93.0 477.1 94.2 477.3 93.1 477.5 93.3 477.7 94.6 477.9 94.4 478.1 95.5 478.3 94.8 478.4 95.4 478.6 94.6 478.8 94.5 479.0 95.5 479.2 93.6 479.3 96.3 479.5 97.0 479.7 96.5 479.9 96.5 480.1 97.8 480.2 97.1 480.4 98.2 480.6 99.4 480.8 98.5 481.0 98.9 481.1 98.8 481.3 98.8 481.5 99.1 481.7 99.2 481.9 100.2 482.0 98.3 482.2 99.6 482.4 100.6 482.6 99.6 482.8 100.5 482.9 100.2 483.1 101.4 483.3 101.9 483.5 102.6 483.7 102.1 483.8 101.4 484.0 102.4 484.2 102.9 484.3 103.8 484.5 101.3 484.7 103.5 484.8 102.1 485.0 104.3 485.1 104.4 485.3 104.7 485.4 105.2 485.6 105.1 485.7 104.6 485.9 105.6 486.0 106.5 486.2 105.7 486.4 106.1 486.5 105.4 486.7 107.5 486.8 106.5 487.0 106.6 487.1 107.0 487.3 107.0 487.4 107.7 487.6 109.1 487.7 109.0 487.9 109.7 488.1 110.0 488.2 108.5 488.4 109.8 488.5 110.8 488.7 111.6 488.8 109.2 489.0 109.4 489.1 111.0 489.3 110.7 489.4 110.5 489.6 111.8 489.8 111.2 489.9 110.4 490.1 112.2 490.2 112.6 490.4 113.2 490.5 113.7 490.7 113.4 490.8 113.4 491.0 113.3 491.1 112.9 491.3 114.0 491.4 115.3 491.5 115.3 491.7 116.5 491.8 115.3 491.9 114.5 492.1 116.5 492.2 116.9 492.3 115.7 492.4 115.7 492.6 117.1 492.7 117.8 492.8 116.8 493.0 117.6 493.1 117.6 493.2 117.6 493.3 117.8 493.5 119.0 493.6 119.0 493.7 119.0 493.8 118.1 494.0 121.2 494.1 119.7 494.2 120.5 494.4 120.1 494.5 121.4 494.6 120.4 494.7 121.7 494.9 121.8 495.0 122.8 495.1 121.8 495.2 122.3 495.4 122.9 495.5 124.6 495.6 122.6 495.8 124.0 495.9 123.7 496.0 124.6 496.1 125.0 496.3 125.0 496.4 125.3 496.5 125.6 496.6 125.4 496.8 125.9 496.9 125.3 497.0 126.3 497.2 126.4 497.3 126.9 497.4 127.8 497.5 127.9 497.7 128.2 497.8 128.8 497.9 127.0 498.0 129.0 498.2 129.0 498.3 129.2 498.4 128.8 498.6 130.1 498.7 130.7 498.9 130.9 499.0 130.5 499.2 131.2 499.3 131.6 499.5 132.4 499.7 132.3 499.8 131.9 500.0 132.2 500.1 132.5 500.3 132.7 500.5 132.6 500.6 133.5 500.8 133.0 500.9 133.2 501.1 134.1 501.3 133.8 501.4 134.3 501.6 133.5 501.7 135.3 501.9 135.2 502.0 135.3 502.2 135.9 502.4 136.0 502.5 135.8 502.7 137.5 502.8 136.4 503.0 137.5 503.2 138.2 503.3 137.1 503.5 137.8 503.6 137.5 503.8 138.8 504.0 138.3 504.1 138.2 504.3 139.6 504.4 139.7 504.6 139.0 504.8 140.3 504.9 140.1 505.1 141.6 505.2 141.4 505.4 140.5 505.6 140.9 505.7 140.8 505.9 141.6 506.0 141.8 506.2 142.4 506.4 142.3 506.6 141.8 506.8 142.3 506.9 143.6 507.1 143.7 507.3 143.4 507.5 143.6 507.7 143.8 507.9 144.1 508.1 143.6 508.3 145.0 508.5 144.5 508.7 145.1 508.9 144.1 509.1 145.6 509.3 146.3 509.4 145.0 509.6 146.9 509.8 146.6 510.0 146.3 510.2 146.2 510.4 147.6 510.6 147.5 510.8 147.8 511.0 147.7 511.2 147.7 511.4 148.6 511.6 148.1 511.8 149.1 512.0 148.2 512.1 148.8 512.3 148.8 512.5 150.2 512.7 149.1 512.9 149.6 513.1 150.6 513.3 150.7 513.5 151.7 513.7 151.8 513.9 151.5 514.1 151.8 514.2 151.0 514.4 151.6 514.6 152.1 514.8 152.4 515.0 152.1 515.2 152.6 515.4 152.8 515.5 153.8 515.7 153.8 515.9 153.7 516.1 154.0 516.3 154.5 516.4 154.3 516.6 154.6 516.7 154.3 516.8 155.3" fill="none" stroke="#00ff00" stroke-width="1.9" stroke-linejoin="round" clip-path="url(#cB)"/>
<path d="M304.8 169.4 305.0 169.3 305.2 169.3 305.4 169.2 305.7 169.6 306.0 169.2 306.3 168.9 306.6 169.0 306.9 169.3 307.2 169.3 307.5 169.3 307.8 169.3 308.1 169.2 308.4 168.8 308.7 169.0 309.0 168.8 309.3 169.0 309.6 168.8 309.9 169.1 310.2 169.0 310.5 168.7 310.8 169.2 311.1 169.2 311.4 168.8 311.7 169.1 312.0 169.2 312.3 169.0 312.6 169.2 312.9 169.0 313.2 169.2 313.5 169.0 313.8 169.0 314.1 169.1 314.4 169.1 314.7 169.0 315.0 168.9 315.3 168.8 315.6 168.9 315.9 168.8 316.2 169.0 316.5 169.0 316.8 168.9 317.1 168.9 317.4 168.9 317.7 169.2 318.0 169.1 318.3 168.8 318.6 169.0 318.9 168.8 319.2 168.9 319.5 168.8 319.8 168.7 320.1 168.6 320.4 168.4 320.7 168.9 321.0 169.1 321.3 168.6 321.6 168.9 321.9 168.7 322.2 168.9 322.5 168.6 322.8 168.7 323.1 168.8 323.4 168.3 323.7 168.8 324.0 168.7 324.3 168.3 324.6 168.9 324.9 168.7 325.2 168.8 325.5 168.8 325.8 168.6 326.1 168.5 326.4 168.6 326.7 168.6 327.0 169.1 327.3 169.0 327.6 168.4 327.9 168.4 328.2 168.5 328.5 168.5 328.8 168.1 329.1 168.0 329.4 168.5 329.7 168.3 329.9 167.7 330.2 167.5 330.5 167.7 330.8 167.8 331.1 167.8 331.4 167.6 331.7 167.2 332.0 167.5 332.3 167.5 332.6 167.3 332.9 167.2 333.2 167.3 333.4 167.1 333.7 166.8 334.0 167.0 334.3 166.6 334.6 167.0 334.9 166.8 335.2 166.4 335.4 166.5 335.7 166.6 336.0 165.7 336.2 166.1 336.5 166.3 336.8 165.5 337.1 165.7 337.3 165.3 337.6 165.5 337.9 164.9 338.2 165.1 338.5 165.3 338.8 165.5 339.0 165.6 339.3 165.7 339.6 165.9 339.9 165.9 340.2 165.9 340.5 165.6 340.8 165.8 341.1 166.6 341.4 166.3 341.7 166.0 342.0 165.9 342.2 165.9 342.5 165.5 342.8 165.9 343.1 165.3 343.4 165.2 343.6 165.7 343.9 164.5 344.2 165.0 344.5 164.4 344.8 164.6 345.0 164.8 345.3 164.7 345.5 164.9 345.8 164.7 346.1 165.0 346.3 164.9 346.6 165.3 346.8 165.2 347.1 165.8 347.3 165.5 347.6 166.2 347.8 166.1 348.1 166.2 348.3 166.7 348.6 166.6 348.9 166.2 349.2 166.8 349.4 166.0 349.7 166.7 350.0 166.6 350.3 166.3 350.6 166.6 350.9 166.5 351.2 167.0 351.5 166.4 351.8 167.0 352.1 166.8 352.4 166.3 352.7 166.2 353.0 166.7 353.3 166.3 353.6 166.4 353.9 166.3 354.2 166.0 354.5 166.2 354.8 166.0 355.1 165.9 355.4 166.1 355.7 166.6 356.0 166.5 356.3 166.0 356.6 166.0 356.9 166.0 357.1 166.1 357.4 165.7 357.7 165.4 358.0 165.3 358.3 165.6 358.5 165.8 358.8 164.9 359.1 164.5 359.4 165.1 359.6 164.7 359.9 164.7 360.2 164.9 360.5 164.5 360.8 164.1 361.1 163.9 361.4 164.4 361.7 164.1 362.0 164.4 362.3 164.0 362.6 164.2 362.9 163.9 363.2 164.2 363.5 164.1 363.8 164.3 364.1 164.5 364.4 164.1 364.7 163.9 365.0 164.6 365.3 164.2 365.6 164.2 365.9 164.2 366.2 164.4 366.5 164.2 366.8 164.1 367.1 164.1 367.4 163.7 367.7 163.7 368.0 163.8 368.3 163.8 368.6 163.8 368.9 163.8 369.2 163.7 369.5 163.6 369.8 163.2 370.1 163.8 370.4 163.7 370.7 163.3 371.0 163.6 371.3 163.6 371.6 163.5 371.9 162.9 372.1 163.1 372.4 163.2 372.7 163.7 373.0 163.0 373.3 163.1 373.6 162.9 373.9 163.0 374.2 163.2 374.5 162.5 374.8 162.3 375.1 163.2 375.4 163.0 375.7 162.8 376.0 163.1 376.3 163.1 376.6 162.3 376.9 162.7 377.2 163.0 377.5 162.5 377.8 162.6 378.1 162.9 378.4 162.5 378.7 162.2 379.0 162.3 379.3 162.1 379.6 162.6 379.9 161.9 380.2 162.6 380.5 161.9 380.8 162.3 381.1 161.9 381.4 162.1 381.7 162.5 382.0 162.4 382.3 162.5 382.6 162.0 382.9 162.1 383.2 162.1 383.5 162.1 383.8 161.8 384.1 162.2 384.4 162.0 384.7 162.2 385.0 161.9 385.3 162.0 385.6 161.6 385.9 161.6 386.2 161.4 386.5 161.6 386.8 161.6 387.1 161.9 387.4 161.3 387.7 162.5 388.0 161.5 388.3 161.9 388.6 161.8 388.9 160.8 389.2 161.4 389.5 161.9 389.8 160.8 390.1 161.6 390.4 161.1 390.7 161.2 391.0 161.4 391.3 160.8 391.6 161.3 391.9 161.1 392.2 161.0 392.5 161.4 392.8 162.2 393.1 161.3 393.4 161.3 393.7 161.1 394.0 160.9 394.3 161.2 394.6 161.5 394.9 161.1 395.2 161.3 395.5 160.9 395.8 161.6 396.0 160.4 396.3 161.0 396.6 161.0 396.9 160.9 397.2 160.5 397.5 160.4 397.8 160.6 398.1 160.7 398.4 160.3 398.7 160.3 399.0 160.7 399.3 160.8 399.6 160.3 399.9 160.2 400.2 160.2 400.5 161.1 400.8 160.5 401.1 160.3 401.4 160.5 401.7 160.9 402.0 160.5 402.3 159.7 402.6 160.1 402.9 159.9 403.2 159.9 403.5 159.6 403.8 159.8 404.1 159.6 404.4 160.0 404.7 159.9 405.0 159.4 405.3 159.3 405.6 159.6 405.9 159.9 406.2 159.8 406.5 159.6 406.8 158.6 407.1 159.4 407.4 159.3 407.7 159.4 408.0 159.1 408.3 159.3 408.6 159.2 408.9 160.1 409.2 159.5 409.5 159.2 409.8 159.2 410.1 159.1 410.4 159.2 410.6 158.9 410.9 158.9 411.2 159.2 411.5 159.0 411.8 158.8 412.0 158.9 412.3 158.5 412.6 158.0 412.9 157.7 413.1 157.9 413.4 157.9 413.7 157.9 414.0 158.0 414.3 157.4 414.5 157.2 414.8 157.6 415.1 157.6 415.4 157.0 415.6 157.1 415.9 157.3 416.2 156.9 416.5 156.7 416.7 156.0 417.0 157.0 417.3 156.7 417.6 156.5 417.9 156.3 418.2 156.1 418.5 156.5 418.8 156.5 419.1 156.9 419.4 156.2 419.7 157.0 420.0 156.6 420.3 157.0 420.6 156.3 420.9 156.8 421.2 157.0 421.5 156.7 421.8 156.2 422.1 156.6 422.4 156.9 422.7 156.3 423.0 156.2 423.3 156.7 423.6 156.3 423.9 156.8 424.2 156.1 424.4 155.8 424.7 156.1 425.0 156.7 425.3 155.9 425.6 156.0 425.9 156.0 426.2 155.6 426.5 156.1 426.7 155.8 427.0 155.8 427.3 155.0 427.6 154.9 427.9 154.5 428.2 155.2 428.5 155.1 428.8 155.3 429.1 155.5 429.3 154.8 429.6 154.8 429.9 154.9 430.2 155.1 430.5 154.3 430.8 154.7 431.0 154.3 431.3 154.1 431.6 154.4 431.9 153.8 432.2 153.5 432.4 154.0 432.7 153.6 433.0 153.4 433.3 153.4 433.5 153.5 433.8 153.1 434.1 153.3 434.4 153.1 434.6 153.3 434.9 153.1 435.2 152.9 435.5 152.4 435.7 152.4 436.0 152.0 436.3 153.1 436.6 151.9 436.8 152.0 437.1 152.2 437.4 151.2 437.7 151.2 437.9 151.3 438.2 151.0 438.5 150.8 438.8 151.0 439.1 151.6 439.4 151.3 439.7 151.1 440.0 151.0 440.3 150.5 440.6 151.3 440.9 151.2 441.2 150.6 441.5 151.1 441.8 150.9 442.1 150.8 442.4 150.6 442.7 150.7 443.0 150.6 443.3 151.1 443.6 151.0 443.9 151.0 444.2 150.8 444.5 150.7 444.8 151.6 445.1 150.2 445.4 151.3 445.7 150.9 446.0 150.8 446.3 150.6 446.6 150.7 446.9 150.4 447.2 150.3 447.5 150.7 447.8 150.2 448.1 151.0 448.4 151.1 448.7 149.5 449.0 150.2 449.3 150.8 449.6 150.7 449.9 150.7 450.2 150.8 450.5 150.9 450.8 150.9 451.1 151.2 451.4 150.6 451.7 150.9 452.0 150.0 452.3 150.5 452.6 150.1 452.9 151.0 453.2 151.3 453.5 150.7 453.8 150.0 454.1 150.4 454.4 150.5 454.7 150.5 455.0 150.8 455.3 150.7 455.6 149.5 455.9 150.9 456.2 150.2 456.5 150.2 456.8 150.8 457.1 150.2 457.4 149.8 457.7 149.8 458.0 150.3 458.3 150.6 458.6 150.8 458.9 150.2 459.2 150.1 459.5 150.8 459.8 150.1 460.1 150.8 460.4 150.4 460.7 150.4 461.0 150.3 461.3 150.5 461.6 150.3 461.9 150.2 462.2 150.5 462.5 150.3 462.8 150.7 463.1 150.7 463.4 150.6 463.7 150.7 463.9 150.7 464.2 151.5 464.5 150.9 464.8 150.7 465.1 150.9 465.4 151.3 465.7 151.0 466.0 151.1 466.3 151.1 466.6 151.3 466.9 151.4 467.2 151.5 467.5 150.8 467.8 151.1 468.1 150.6 468.4 151.9 468.7 152.1 469.0 152.2 469.2 151.9 469.5 152.3 469.8 152.0 470.1 152.0 470.4 151.6 470.7 152.0 471.0 152.1 471.3 152.7 471.6 153.1 471.8 152.4 472.1 152.8 472.4 152.8 472.7 152.6 473.0 152.3 473.3 152.7 473.6 152.6 473.9 153.1 474.2 153.2 474.4 153.3 474.7 153.4 475.0 153.7 475.3 153.3 475.6 154.0 475.9 153.2 476.2 153.8 476.5 154.0 476.8 153.7 477.0 153.6 477.3 154.4 477.6 154.0 477.9 154.6 478.2 154.7 478.5 154.5 478.8 154.6 479.1 155.0 479.3 154.9 479.6 154.6 479.9 155.1 480.2 155.3 480.5 155.3 480.7 155.4 481.0 155.4 481.3 155.5 481.6 155.3 481.9 155.3 482.2 156.2 482.4 155.7 482.7 156.1 483.0 155.7 483.3 156.3 483.6 156.1 483.9 157.4 484.1 156.2 484.4 156.3 484.7 157.0 485.0 157.2 485.3 156.3 485.5 157.1 485.8 157.4 486.1 156.9 486.4 157.6 486.7 157.3 487.0 157.2 487.2 157.5 487.5 157.6 487.8 157.4 488.1 158.6 488.4 157.9 488.7 157.9 489.0 158.5 489.2 158.3 489.5 158.8 489.8 158.4 490.1 158.7 490.4 158.7 490.7 158.8 490.9 158.8 491.2 159.0 491.5 159.6 491.8 159.0 492.1 159.1 492.4 159.3 492.7 159.6 492.9 159.7 493.2 159.9 493.5 159.4 493.8 159.9 494.1 159.9 494.4 159.9 494.7 160.1 495.0 159.6 495.2 160.3 495.5 160.4 495.8 160.0 496.1 160.4 496.4 161.0 496.7 160.5 497.0 160.9 497.3 160.7 497.6 160.6 497.9 160.7 498.2 160.9 498.4 161.4 498.7 161.4 499.0 161.0 499.3 161.6 499.6 161.3 499.9 161.3 500.2 161.6 500.5 161.4 500.8 161.3 501.1 162.1 501.4 161.3 501.6 162.0 501.9 161.6 502.2 162.0 502.5 162.1 502.8 162.1 503.1 161.7 503.4 162.3 503.7 162.4 504.0 162.2 504.3 162.5 504.6 162.9 504.9 162.5 505.1 162.8 505.4 162.5 505.7 163.0 506.0 163.2 506.3 163.7 506.6 163.4 506.9 163.3 507.2 163.6 507.5 163.1 507.8 163.7 508.1 163.3 508.4 163.4 508.6 163.9 508.9 163.8 509.2 164.1 509.5 163.5 509.8 164.0 510.1 163.9 510.4 164.0 510.7 163.7 511.0 164.5 511.2 164.4 511.5 164.2 511.8 164.2 512.1 164.4 512.4 165.1 512.7 164.8 513.0 164.8 513.3 165.1 513.5 165.1 513.8 165.2 514.1 165.4 514.4 165.4 514.7 165.6 515.0 165.2 515.3 165.6 515.6 165.6 515.8 165.8 516.1 165.8 516.3 165.7 516.5 165.9 516.7 166.2" fill="none" stroke="#0000ff" stroke-width="2.0" stroke-linejoin="round" clip-path="url(#cB)"/>
<path d="M304.8 176.5 305.0 176.4 305.2 176.6 305.4 176.7 305.7 176.5 306.0 176.5 306.3 176.4 306.6 176.5 306.9 176.6 307.2 176.6 307.5 176.5 307.8 176.4 308.1 176.2 308.4 176.5 308.7 176.5 309.0 176.5 309.3 176.6 309.6 176.4 309.9 176.5 310.2 176.2 310.5 176.5 310.8 176.4 311.1 176.5 311.4 176.4 311.7 176.3 312.0 176.5 312.3 176.1 312.6 176.3 312.9 176.4 313.2 176.1 313.5 176.0 313.8 176.2 314.1 176.2 314.4 176.2 314.7 176.2 315.0 176.0 315.3 176.1 315.6 176.3 315.9 176.0 316.2 176.0 316.5 175.9 316.8 176.2 317.1 176.3 317.4 175.8 317.7 176.1 318.0 176.1 318.3 175.9 318.6 175.9 318.9 175.7 319.2 175.7 319.5 175.9 319.8 175.9 320.1 175.8 320.4 175.9 320.7 175.7 321.0 175.4 321.3 175.8 321.6 175.7 321.9 175.3 322.2 175.7 322.5 175.4 322.7 175.3 323.0 175.5 323.3 174.7 323.6 174.8 323.9 175.2 324.2 174.9 324.5 174.7 324.8 175.1 325.1 174.9 325.4 174.5 325.7 174.6 326.0 174.8 326.3 174.9 326.6 174.1 326.9 174.5 327.2 174.3 327.5 174.0 327.8 174.2 328.1 173.9 328.3 174.1 328.6 174.4 328.9 174.2 329.2 174.2 329.5 174.0 329.8 173.9 330.1 174.0 330.4 173.3 330.6 173.4 330.9 173.6 331.1 173.0 331.4 172.9 331.7 173.2 331.9 173.2 332.2 172.4 332.4 172.2 332.7 172.4 332.9 172.2 333.2 171.7 333.4 172.0 333.7 171.8 333.9 171.5 334.2 172.3 334.5 171.6 334.7 171.3 335.0 171.2 335.2 171.8 335.5 170.9 335.7 170.0 335.9 170.3 336.2 170.0 336.4 169.5 336.6 169.7 336.8 169.4 337.0 169.1 337.2 168.7 337.4 169.0 337.5 167.7 337.7 168.5 337.9 167.9 338.1 167.8 338.3 166.4 338.5 168.1 338.7 166.5 338.9 166.8 339.1 167.5 339.4 167.0 339.6 167.1 339.9 166.4 340.2 167.4 340.4 167.8 340.7 168.2 341.0 167.8 341.2 168.1 341.5 168.3 341.8 167.7 342.0 167.7 342.3 169.0 342.5 167.5 342.8 168.4 343.0 167.7 343.3 168.2 343.5 167.0 343.8 167.4 344.0 167.1 344.3 166.7 344.5 166.8 344.7 166.2 345.0 166.5 345.2 166.4 345.4 167.1 345.5 166.7 345.7 166.2 345.9 167.0 346.0 167.4 346.1 167.2 346.3 168.7 346.4 168.4 346.6 169.0 346.7 168.4 346.8 168.8 347.0 169.8 347.1 168.8 347.3 170.0 347.4 170.1 347.6 170.0 347.8 170.5 348.0 170.0 348.2 170.9 348.4 170.2 348.7 170.2 349.0 171.7 349.2 170.5 349.5 169.7 349.8 171.4 350.1 170.4 350.4 168.8 350.7 170.8 351.0 171.3 351.3 171.0 351.6 171.7 351.9 170.7 352.2 171.1 352.5 170.1 352.8 170.8 353.1 171.5 353.4 170.9 353.7 170.7 354.0 169.4 354.3 170.3 354.6 169.8 354.9 171.0 355.2 170.1 355.5 170.7 355.8 169.9 356.1 171.6 356.4 169.7 356.7 170.5 357.0 172.0 357.3 170.5 357.6 169.8 357.9 170.7 358.2 171.0 358.5 170.9 358.8 169.1 359.1 170.4 359.4 168.9 359.7 171.5 360.0 170.3 360.3 169.9 360.6 170.6 360.9 170.5 361.2 169.4 361.5 171.2 361.8 170.0 362.1 169.0 362.4 171.0 362.7 171.1 363.0 170.9 363.3 170.4 363.6 169.4 363.9 170.7 364.2 171.3 364.5 170.5 364.8 171.1 365.1 169.4 365.4 170.6 365.7 170.5 366.0 168.8 366.3 168.7 366.6 169.3 366.9 169.8 367.2 170.0 367.5 169.5 367.8 169.6 368.1 169.5 368.4 169.6 368.7 170.0 369.0 169.9 369.3 169.4 369.6 169.6 369.9 169.1 370.2 169.9 370.5 169.0 370.8 170.5 371.1 169.2 371.4 169.4 371.7 168.6 372.0 168.9 372.3 169.2 372.6 169.1 372.9 168.6 373.2 168.1 373.5 169.0 373.8 169.0 374.1 169.3 374.4 169.8 374.7 168.6 375.0 167.3 375.3 168.6 375.6 167.3 375.9 167.7 376.2 169.4 376.5 169.0 376.8 168.1 377.1 168.0 377.4 168.4 377.7 167.1 378.0 168.8 378.3 168.1 378.5 169.8 378.8 167.5 379.1 169.0 379.4 167.7 379.7 169.0 380.0 167.4 380.3 168.7 380.6 167.7 380.9 167.4 381.2 167.9 381.5 168.3 381.8 168.2 382.1 169.1 382.4 168.5 382.7 165.7 383.0 167.4 383.3 166.1 383.6 167.4 383.9 168.2 384.2 166.6 384.5 166.7 384.8 167.7 385.1 167.3 385.4 168.8 385.7 167.8 386.0 167.9 386.3 168.9 386.6 167.1 386.9 167.4 387.2 166.6 387.5 167.6 387.8 168.2 388.1 168.5 388.4 167.3 388.7 166.7 389.0 166.7 389.3 166.2 389.6 167.4 389.9 168.3 390.2 165.3 390.5 165.4 390.8 168.3 391.1 165.9 391.4 167.4 391.7 166.1 392.0 167.7 392.3 167.7 392.6 167.2 392.9 167.7 393.2 167.0 393.5 167.4 393.8 168.4 394.1 167.8 394.4 166.4 394.7 166.3 395.0 166.7 395.3 166.7 395.6 166.9 395.9 166.3 396.2 167.3 396.5 166.8 396.8 167.1 397.1 166.8 397.4 167.3 397.7 165.8 398.0 168.0 398.3 167.0 398.6 167.1 398.9 167.2 399.2 167.6 399.5 167.3 399.8 166.8 400.1 166.5 400.4 165.3 400.7 166.8 401.0 166.4 401.3 166.3 401.6 168.5 401.9 165.1 402.2 166.6 402.5 167.5 402.8 167.3 403.1 167.5 403.4 165.5 403.7 165.7 404.0 167.0 404.3 166.2 404.6 167.8 404.9 166.6 405.2 166.6 405.5 166.8 405.8 166.2 406.1 166.5 406.4 165.8 406.7 166.3 407.0 165.9 407.3 166.5 407.6 165.2 407.9 165.1 408.2 166.7 408.5 166.5 408.8 165.5 409.1 166.1 409.4 165.4 409.7 167.9 410.0 164.9 410.3 167.6 410.6 165.5 410.9 166.5 411.2 165.9 411.5 165.8 411.8 166.9 412.1 166.7 412.4 165.8 412.7 165.3 413.0 167.7 413.3 167.1 413.6 166.1 413.9 165.7 414.2 166.2 414.5 166.0 414.8 166.9 415.1 165.1 415.4 165.9 415.7 165.2 416.0 166.9 416.3 167.2 416.6 165.7 416.9 166.2 417.2 166.9 417.5 165.5 417.8 164.9 418.1 166.5 418.4 166.0 418.7 165.4 419.0 166.8 419.3 165.8 419.6 164.1 419.9 165.8 420.2 165.5 420.5 167.0 420.8 165.4 421.1 165.3 421.4 165.8 421.7 165.6 422.0 164.2 422.3 165.5 422.6 165.1 422.9 166.5 423.2 167.2 423.5 164.4 423.8 164.5 424.1 164.5 424.4 164.7 424.7 164.6 425.0 165.2 425.3 166.0 425.6 164.1 425.9 163.8 426.2 163.6 426.5 166.0 426.8 166.1 427.1 163.8 427.4 163.7 427.7 165.1 428.0 165.9 428.3 165.8 428.6 165.1 428.9 165.5 429.2 165.2 429.5 164.4 429.8 166.4 430.1 164.8 430.4 163.9 430.7 164.4 431.0 163.5 431.3 164.8 431.6 165.7 431.9 163.7 432.2 165.7 432.5 166.4 432.8 165.0 433.1 163.7 433.4 164.0 433.7 164.4 434.0 163.6 434.3 163.6 434.6 164.4 434.9 164.4 435.2 165.0 435.5 163.6 435.8 166.1 436.1 165.4 436.4 165.2 436.7 163.9 437.0 165.9 437.3 164.1 437.6 165.9 437.9 165.3 438.2 163.6 438.5 164.0 438.8 165.9 439.1 165.1 439.4 164.2 439.7 164.5 440.0 164.4 440.3 163.6 440.6 164.1 440.9 163.7 441.2 163.9 441.5 164.6 441.8 163.4 442.1 164.8 442.4 164.3 442.7 164.9 443.0 165.0 443.3 165.3 443.6 164.8 443.9 164.9 444.2 164.2 444.5 164.8 444.8 163.6 445.1 164.2 445.4 165.0 445.7 164.4 446.0 164.8 446.3 163.6 446.6 165.6 446.9 164.0 447.2 164.9 447.5 164.5 447.8 165.4 448.1 164.3 448.4 163.8 448.7 163.1 449.0 164.4 449.3 163.7 449.6 165.1 449.9 165.9 450.2 162.9 450.5 163.7 450.8 165.0 451.1 165.8 451.4 165.1 451.7 165.1 452.0 165.3 452.3 165.4 452.6 166.3 452.9 165.4 453.2 163.9 453.5 164.6 453.8 165.1 454.1 164.3 454.4 164.8 454.7 164.6 455.0 164.5 455.3 165.7 455.6 164.8 455.9 164.2 456.2 164.6 456.5 165.2 456.8 167.0 457.1 165.5 457.4 166.5 457.7 165.8 458.0 163.6 458.3 165.7 458.6 164.7 458.9 164.4 459.2 164.6 459.5 167.0 459.8 164.3 460.0 165.1 460.3 166.6 460.6 166.2 460.9 164.3 461.2 165.7 461.5 165.4 461.8 165.7 462.1 166.5 462.4 165.4 462.7 165.7 463.0 167.2 463.3 164.5 463.6 165.7 463.9 166.5 464.2 165.1 464.5 165.6 464.8 165.1 465.1 166.3 465.4 165.7 465.7 166.9 466.0 167.2 466.3 166.4 466.6 166.1 466.9 166.6 467.2 166.5 467.5 165.5 467.8 167.4 468.1 166.8 468.4 167.3 468.7 165.5 469.0 167.4 469.3 168.5 469.6 167.3 469.9 165.6 470.2 166.8 470.5 166.8 470.8 167.1 471.1 166.7 471.4 167.4 471.7 166.6 472.0 167.3 472.3 166.6 472.6 167.3 472.9 168.1 473.2 166.9 473.5 167.9 473.8 166.6 474.0 167.1 474.3 167.3 474.6 168.6 474.9 167.0 475.2 168.7 475.5 166.5 475.8 167.6 476.1 168.6 476.4 168.4 476.7 167.1 477.0 166.9 477.3 168.8 477.6 167.0 477.9 168.6 478.2 167.7 478.5 168.2 478.8 170.2 479.1 169.6 479.4 169.1 479.7 167.3 480.0 168.7 480.3 168.6 480.6 168.5 480.9 169.8 481.1 167.2 481.4 169.0 481.7 168.9 482.0 168.2 482.3 170.4 482.6 167.9 482.9 169.0 483.2 169.1 483.5 167.2 483.8 167.9 484.1 168.4 484.4 169.9 484.7 170.1 485.0 169.9 485.3 169.6 485.6 167.6 485.9 169.7 486.2 169.1 486.5 170.6 486.8 170.8 487.1 171.6 487.4 170.4 487.7 170.5 488.0 169.0 488.2 170.0 488.5 168.9 488.8 170.8 489.1 169.1 489.4 170.0 489.7 169.5 490.0 169.8 490.3 170.7 490.6 169.9 490.9 170.6 491.2 169.6 491.5 171.7 491.8 170.0 492.1 171.5 492.4 172.5 492.7 168.6 493.0 169.9 493.3 170.6 493.6 171.9 493.9 170.5 494.2 171.3 494.5 170.4 494.8 171.5 495.1 170.1 495.4 171.9 495.6 168.7 495.9 169.7 496.2 172.9 496.5 171.5 496.8 170.7 497.1 173.4 497.4 172.4 497.7 172.5 498.0 171.3 498.3 172.2 498.6 172.2 498.9 170.4 499.2 172.3 499.5 171.7 499.8 173.0 500.1 173.1 500.4 171.5 500.7 171.6 501.0 172.3 501.3 172.8 501.6 171.9 501.9 172.2 502.2 172.9 502.5 172.8 502.8 173.4 503.0 172.7 503.3 171.8 503.6 171.1 503.9 173.3 504.2 172.4 504.5 172.4 504.8 172.5 505.1 171.5 505.4 172.5 505.7 170.7 506.0 172.6 506.3 172.2 506.6 174.6 506.9 173.5 507.2 172.9 507.5 173.3 507.8 173.9 508.1 172.6 508.4 173.1 508.7 173.1 509.0 175.6 509.3 173.5 509.6 171.8 509.9 174.2 510.2 175.8 510.5 172.8 510.8 176.7 511.1 173.7 511.4 174.6 511.7 173.3 512.0 173.6 512.3 172.8 512.5 173.0 512.8 172.1 513.1 175.1 513.4 173.1 513.7 174.5 514.0 174.5 514.3 173.7 514.6 174.3 514.9 174.2 515.2 173.9 515.5 174.5 515.8 174.5 516.1 173.6 516.3 173.4 516.5 173.8 516.7 174.7" fill="none" stroke="#00ffff" stroke-width="2.2" stroke-linejoin="round" clip-path="url(#cB)"/>
<path d="M37.8 380.6 38.0 380.6 38.1 380.2 38.3 380.3 38.6 379.9 38.9 380.1 39.1 379.7 39.4 379.6 39.7 379.3 40.0 379.3 40.2 379.7 40.5 378.7 40.8 378.9 41.0 378.6 41.3 378.9 41.6 379.0 41.9 378.3 42.1 377.5 42.4 378.3 42.7 378.2 43.0 377.4 43.2 377.7 43.5 377.6 43.8 376.8 44.0 377.6 44.3 377.4 44.6 377.2 44.9 376.7 45.1 376.7 45.4 376.6 45.7 376.8 46.0 376.2 46.2 376.8 46.5 376.4 46.8 375.5 47.1 376.5 47.3 376.0 47.6 375.6 47.9 375.7 48.2 375.0 48.5 375.5 48.7 374.6 49.0 374.9 49.3 375.5 49.6 375.4 49.8 374.8 50.1 374.5 50.4 375.0 50.7 374.5 51.0 374.5 51.2 374.5 51.5 373.9 51.8 374.4 52.1 373.3 52.4 374.3 52.6 373.3 52.9 373.4 53.2 373.3 53.5 373.7 53.7 373.5 54.0 373.3 54.3 373.3 54.6 373.1 54.9 372.8 55.1 372.1 55.4 371.9 55.7 371.8 56.0 372.4 56.2 372.2 56.5 372.1 56.8 372.1 57.0 371.8 57.3 371.4 57.6 371.1 57.8 370.8 58.1 371.7 58.4 371.4 58.6 370.5 58.9 370.7 59.1 370.8 59.4 371.1 59.7 370.2 59.9 370.3 60.2 370.5 60.5 369.4 60.7 369.5 61.0 369.6 61.2 369.3 61.5 370.1 61.8 369.5 62.0 369.1 62.3 368.6 62.6 369.1 62.8 368.9 63.1 368.3 63.3 368.2 63.6 367.7 63.8 368.0 64.1 368.2 64.3 368.0 64.6 367.7 64.8 367.6 65.0 366.9 65.2 366.7 65.4 367.1 65.7 366.6 65.9 366.0 66.1 366.2 66.3 366.1 66.5 365.9 66.7 365.4 66.9 365.0 67.1 365.1 67.4 365.4 67.6 364.6 67.8 364.1 68.0 364.2 68.2 363.4 68.4 363.8 68.6 363.4 68.8 363.6 69.1 363.1 69.3 363.2 69.5 363.5 69.7 362.3 69.9 361.9 70.1 362.2 70.4 361.8 70.6 361.7 70.9 361.3 71.1 361.6 71.4 361.3 71.7 360.2 71.9 360.9 72.2 361.0 72.5 361.2 72.7 360.3 73.0 360.1 73.3 360.8 73.6 359.9 73.8 360.1 74.1 360.1 74.3 360.0 74.6 359.6 74.8 358.9 75.0 359.6 75.3 358.8 75.5 358.6 75.7 359.4 76.0 358.8 76.2 357.8 76.4 357.8 76.6 357.7 76.8 357.3 77.1 356.6 77.3 357.5 77.5 357.3 77.7 356.9 78.0 356.5 78.2 356.6 78.5 356.7 78.7 356.0 79.0 356.3 79.2 356.2 79.5 356.8 79.8 356.6 80.1 356.0 80.3 356.3 80.6 357.2 80.9 356.0 81.1 356.4 81.4 356.0 81.7 356.6 81.9 355.9 82.2 355.6 82.4 355.1 82.7 355.4 82.9 355.7 83.2 355.4 83.5 354.4 83.7 355.5 84.0 354.6 84.2 354.1 84.5 354.4 84.7 353.9 85.0 353.8 85.2 353.6 85.5 353.7 85.7 353.3 86.0 352.6 86.2 353.4 86.4 352.8 86.6 353.3 86.9 352.8 87.0 352.6 87.2 352.2 87.4 352.4 87.6 351.5 87.8 350.9 87.9 351.3 88.1 349.7 88.3 350.5 88.5 350.5 88.7 350.0 88.8 350.5 89.0 350.0 89.2 349.5 89.4 349.0 89.6 349.5 89.7 348.4 89.9 348.3 90.1 348.6 90.3 348.3 90.4 348.7 90.6 347.4 90.8 346.4 91.0 347.4 91.2 347.5 91.5 346.6 91.7 347.2 91.9 347.2 92.2 345.9 92.4 345.8 92.7 345.3 93.0 346.0 93.2 346.0 93.5 345.8 93.8 344.8 94.1 344.9 94.3 344.4 94.6 344.2 94.9 344.2 95.2 344.0 95.4 344.6 95.7 344.8 96.0 344.7 96.3 344.3 96.6 343.9 96.8 344.1 97.1 344.3 97.4 343.8 97.7 343.8 98.0 343.6 98.3 343.4 98.5 343.5 98.8 342.9 99.1 343.8 99.4 342.4 99.7 343.3 99.9 342.3 100.2 343.6 100.5 343.2 100.8 342.2 101.0 342.3 101.3 341.8 101.6 342.2 101.8 342.3 102.1 343.2 102.4 341.1 102.6 342.2 102.9 341.2 103.1 341.4 103.4 341.6 103.6 341.3 103.9 341.0 104.1 340.6 104.4 340.5 104.7 340.4 104.9 340.8 105.2 339.3 105.4 339.6 105.7 339.1 105.9 339.1 106.2 339.0 106.5 339.8 106.7 340.2 107.0 339.6 107.2 338.2 107.5 338.7 107.7 337.9 108.0 338.5 108.2 338.8 108.5 338.3 108.8 338.3 109.0 337.6 109.3 336.5 109.5 336.4 109.8 337.2 110.1 337.4 110.3 337.6 110.6 336.6 110.8 336.7 111.1 336.6 111.4 336.9 111.6 336.2 111.9 335.5 112.1 336.4 112.4 335.9 112.7 335.8 112.9 334.8 113.2 335.3 113.4 334.2 113.7 333.9 114.0 334.7 114.2 334.5 114.5 334.8 114.7 335.1 115.0 334.2 115.3 335.0 115.5 333.6 115.8 334.2 116.0 333.0 116.3 333.5 116.6 333.2 116.8 333.1 117.1 333.3 117.3 331.9 117.6 332.8 117.9 332.1 118.1 332.5 118.4 332.5 118.6 331.9 118.9 331.8 119.2 331.2 119.4 332.0 119.7 331.2 120.0 331.6 120.2 330.5 120.5 331.8 120.7 330.4 121.0 331.4 121.3 330.4 121.5 330.8 121.8 330.2 122.0 330.5 122.3 330.0 122.6 330.6 122.8 330.1 123.1 329.9 123.3 330.3 123.6 328.9 123.9 329.8 124.1 329.0 124.4 328.0 124.6 328.9 124.9 328.4 125.2 329.3 125.4 328.0 125.7 328.1 125.9 328.0 126.2 326.7 126.5 327.9 126.7 326.9 127.0 328.1 127.2 328.1 127.5 327.0 127.8 326.0 128.0 326.9 128.3 326.7 128.6 326.9 128.9 326.3 129.2 325.7 129.4 326.2 129.7 325.7 130.0 327.2 130.3 325.7 130.6 325.7 130.9 326.0 131.2 325.2 131.5 325.6 131.8 325.7 132.1 325.5 132.4 325.6 132.7 326.3 133.0 325.8 133.3 324.8 133.6 325.2 133.9 325.8 134.2 325.0 134.5 325.3 134.7 325.2 135.0 325.4 135.3 325.0 135.6 324.9 135.9 324.4 136.2 325.0 136.5 324.2 136.8 325.6 137.0 324.5 137.3 324.3 137.6 324.8 137.9 324.2 138.2 324.2 138.5 324.0 138.7 323.5 139.0 323.3 139.3 323.3 139.6 324.3 139.9 323.2 140.2 323.2 140.5 323.1 140.7 323.6 141.0 324.3 141.3 322.5 141.6 323.2 141.9 322.9 142.1 322.6 142.4 322.9 142.7 321.8 143.0 322.8 143.2 322.4 143.5 321.5 143.8 322.9 144.0 322.3 144.3 322.3 144.5 320.6 144.8 321.1 145.0 320.8 145.3 321.3 145.5 321.6 145.8 319.5 146.0 320.5 146.3 320.2 146.5 320.7 146.8 319.9 147.0 319.0 147.2 319.5 147.4 318.8 147.7 318.7 147.9 319.0 148.0 318.4 148.2 318.7 148.4 317.4 148.6 319.4 148.7 318.5 148.9 317.9 149.1 316.5 149.2 315.7 149.4 316.2 149.6 316.4 149.8 317.6 149.9 316.8 150.1 315.4 150.3 316.3 150.5 316.1 150.7 315.2 150.9 315.8 151.1 315.2 151.4 314.6 151.6 314.3 151.9 315.0 152.2 315.7 152.4 314.4 152.7 314.4 153.0 315.8 153.3 313.9 153.6 316.7 153.9 315.4 154.2 316.2 154.4 317.0 154.7 315.1 155.0 315.3 155.3 317.3 155.6 315.8 155.9 315.9 156.1 316.0 156.4 316.4 156.7 316.5 157.0 315.7 157.3 315.3 157.6 315.4 157.8 315.5 158.1 316.0 158.4 315.2 158.7 316.1 159.0 314.4 159.3 315.1 159.5 315.7 159.8 315.3 160.1 314.7 160.4 313.8 160.7 313.8 160.9 314.0 161.2 314.2 161.4 313.7 161.7 312.8 161.9 313.0 162.2 313.6 162.4 313.6 162.6 312.1 162.8 312.5 163.0 311.5 163.2 311.9 163.4 314.2 163.7 311.9 163.9 311.4 164.1 311.1 164.3 310.5 164.5 309.8 164.7 310.8 164.9 310.4 165.1 311.3 165.4 309.1 165.6 310.2 165.8 310.6 166.0 308.3 166.2 309.7 166.4 308.1 166.7 309.2 166.9 309.6 167.1 308.5 167.4 308.5 167.6 307.7 167.8 308.1 168.0 308.5 168.3 307.4 168.5 307.3 168.7 307.4 169.0 307.5 169.2 305.7 169.4 306.6 169.6 305.9 169.9 306.5 170.1 306.7 170.4 306.1 170.6 306.6 170.9 305.0 171.1 305.3 171.4 304.8 171.7 305.5 172.0 305.5 172.3 305.3 172.6 304.6 172.9 305.4 173.2 305.1 173.5 305.8 173.8 305.2 174.1 306.2 174.4 305.5 174.7 304.2 175.0 305.3 175.3 304.5 175.6 306.0 175.9 306.3 176.2 305.4 176.5 305.7 176.8 304.5 177.1 304.0 177.4 305.1 177.7 305.3 178.0 304.5 178.3 305.6 178.6 305.7 178.9 306.0 179.2 306.6 179.5 306.1 179.8 305.4 180.1 305.7 180.4 306.1 180.7 305.0 181.0 306.6 181.3 306.3 181.6 305.6 181.9 305.4 182.2 308.3 182.5 306.4 182.8 306.5 183.1 307.0 183.4 306.5 183.7 306.1 184.0 306.4 184.3 305.4 184.6 306.4 184.9 305.0 185.2 306.3 185.5 306.4 185.8 305.0 186.1 307.2 186.4 305.3 186.7 306.7 187.0 305.7 187.3 306.2 187.6 305.7 187.9 307.7 188.2 306.8 188.5 307.4 188.8 306.8 189.1 306.8 189.3 306.6 189.6 306.4 189.9 307.0 190.2 306.8 190.5 306.7 190.8 306.0 191.1 306.8 191.4 307.4 191.7 306.8 191.9 307.5 192.2 307.3 192.5 306.8 192.7 307.0 193.0 307.3 193.2 307.7 193.5 307.9 193.7 309.0 194.0 307.7 194.2 307.3 194.5 309.2 194.7 308.6 195.0 309.0 195.2 310.9 195.5 310.4 195.7 310.0 196.0 310.4 196.2 310.0 196.5 310.7 196.7 309.9 197.0 310.0 197.2 310.4 197.5 311.8 197.7 312.0 197.9 310.8 198.2 312.0 198.5 311.4 198.7 312.3 199.0 311.6 199.2 312.5 199.5 312.0 199.8 312.0 200.1 312.3 200.3 312.5 200.6 312.2 200.9 311.8 201.1 313.9 201.4 312.7 201.7 311.9 202.0 311.8 202.2 311.6 202.5 313.1 202.7 314.5 203.0 312.8 203.2 313.8 203.5 313.0 203.7 315.0 203.9 314.8 204.1 314.9 204.3 315.8 204.6 316.2 204.8 316.0 205.0 315.2 205.2 315.0 205.4 315.4 205.6 315.2 205.8 317.5 206.0 316.5 206.3 317.0 206.5 317.2 206.7 318.5 206.9 317.2 207.1 318.4 207.3 318.1 207.5 318.1 207.7 317.2 208.0 319.1 208.2 318.3 208.4 318.7 208.6 319.3 208.8 319.5 209.0 320.3 209.2 319.5 209.4 320.2 209.7 320.4 209.9 320.5 210.1 321.1 210.3 320.8 210.5 321.8 210.7 320.9 210.9 320.7 211.1 321.8 211.3 322.7 211.5 321.9 211.7 322.1 211.9 322.5 212.1 323.0 212.3 323.0 212.5 323.5 212.7 322.6 212.9 324.6 213.1 324.3 213.3 323.7 213.5 325.2 213.7 324.9 213.9 325.7 214.2 324.5 214.4 326.3 214.6 325.6 214.8 324.6 215.0 326.4 215.2 326.1 215.4 325.9 215.6 326.6 215.8 325.8 216.0 327.5 216.2 327.2 216.4 327.4 216.6 328.6 216.8 328.0 217.0 327.9 217.2 327.9 217.4 328.7 217.6 329.5 217.8 328.8 218.0 328.8 218.2 330.1 218.4 329.9 218.6 330.0 218.7 331.4 218.9 329.9 219.1 330.9 219.3 330.1 219.4 331.1 219.6 331.8 219.8 332.4 219.9 331.3 220.1 332.7 220.3 332.9 220.5 332.7 220.6 334.3 220.8 333.2 221.0 333.0 221.1 334.0 221.3 333.0 221.5 335.1 221.7 335.0 221.8 334.5 222.0 335.3 222.2 335.5 222.3 336.5 222.5 335.4 222.7 335.3 222.9 335.2 223.0 336.3 223.2 335.9 223.4 336.9 223.5 337.4 223.7 337.2 223.9 337.2 224.1 338.5 224.2 338.1 224.4 338.5 224.6 339.2 224.7 338.3 224.9 338.7 225.1 340.7 225.3 339.6 225.4 339.4 225.6 340.0 225.8 340.1 225.9 340.0 226.1 340.7 226.3 341.1 226.5 341.4 226.6 341.9 226.8 341.0 227.0 341.4 227.1 342.8 227.3 342.4 227.5 343.5 227.6 343.3 227.8 342.7 228.0 343.9 228.1 343.4 228.3 344.3 228.5 345.0 228.7 345.6 228.8 344.8 229.0 345.5 229.2 345.5 229.3 346.0 229.5 344.7 229.7 345.9 229.8 346.5 230.0 346.8 230.2 346.5 230.4 347.5 230.5 347.9 230.7 347.6 230.9 347.8 231.0 347.9 231.2 348.4 231.4 349.1 231.5 349.5 231.7 348.9 231.9 348.9 232.0 349.2 232.2 350.3 232.4 350.2 232.6 350.5 232.7 350.8 232.9 351.0 233.1 351.0 233.2 350.9 233.4 351.3 233.6 351.9 233.7 352.2 233.9 352.2 234.1 352.4 234.3 353.4 234.4 352.9 234.6 353.4 234.8 353.4 235.0 353.4 235.1 353.4 235.3 354.1 235.5 354.2 235.7 355.1 235.8 354.5 236.0 355.1 236.2 355.8 236.3 355.7 236.5 356.2 236.7 356.6 236.9 355.8 237.0 356.6 237.2 356.6 237.4 357.8 237.6 357.4 237.7 357.9 237.9 358.6 238.1 358.1 238.3 358.5 238.4 358.9 238.6 358.8 238.8 359.7 239.0 359.7 239.1 360.1 239.3 359.9 239.5 360.0 239.7 360.3 239.8 360.5 240.0 360.3 240.2 361.3 240.4 361.7 240.5 361.6 240.7 361.7 240.9 362.1 241.1 362.4 241.2 362.7 241.4 363.5 241.6 362.7 241.8 363.4 242.0 363.8 242.2 363.8 242.4 363.9 242.6 363.8 242.8 364.2 243.0 364.9 243.2 365.4 243.4 364.9 243.6 365.5 243.8 365.7 244.0 366.1 244.2 366.1 244.4 366.4 244.6 366.7 244.8 366.2 245.0 366.9 245.2 366.5 245.4 366.6 245.6 367.2 245.8 367.2 246.0 368.1 246.2 368.5 246.4 368.3 246.7 368.6 246.9 368.8 247.1 369.0 247.3 369.4 247.5 369.6 247.7 369.6 247.9 369.7 248.1 370.0 248.3 370.7 248.5 370.5 248.7 371.3 248.9 371.0 249.1 371.7 249.3 371.1 249.5 371.5 249.6 372.0 249.8 372.2 249.9 372.1" fill="none" stroke="#000000" stroke-width="2.1" stroke-linejoin="round" clip-path="url(#cC)"/>
<path d="M37.8 383.4 38.0 382.9 38.2 382.8 38.4 382.6 38.6 383.0 38.9 382.7 39.2 382.5 39.5 381.9 39.8 382.3 40.0 382.0 40.3 382.1 40.6 382.1 40.9 381.6 41.2 381.7 41.5 381.8 41.7 381.5 42.0 381.3 42.3 381.0 42.6 381.0 42.9 380.8 43.2 381.2 43.4 380.9 43.7 380.5 44.0 380.7 44.3 380.2 44.6 379.6 44.8 380.7 45.1 380.6 45.4 379.8 45.7 379.9 46.0 380.0 46.3 379.8 46.6 379.6 46.9 379.6 47.1 379.6 47.4 379.4 47.7 379.6 48.0 379.4 48.3 379.2 48.6 379.3 48.9 378.8 49.2 379.5 49.5 378.6 49.8 379.0 50.1 379.0 50.3 379.0 50.6 378.9 50.9 379.0 51.2 378.3 51.5 378.5 51.8 378.5 52.1 378.3 52.4 378.2 52.7 378.6 53.0 378.0 53.3 378.0 53.6 378.0 53.8 377.9 54.1 378.0 54.4 377.8 54.7 377.9 55.0 377.7 55.3 377.8 55.6 377.9 55.9 377.2 56.2 377.8 56.4 377.1 56.7 377.3 57.0 377.0 57.3 376.8 57.5 376.2 57.8 377.0 58.1 376.3 58.3 376.1 58.6 376.5 58.9 376.1 59.1 376.5 59.4 376.3 59.7 375.9 59.9 375.6 60.2 375.6 60.5 374.9 60.7 375.2 61.0 375.0 61.3 374.7 61.5 374.8 61.8 374.1 62.1 374.7 62.3 374.7 62.6 373.8 62.9 374.1 63.2 374.3 63.4 373.9 63.7 373.3 63.9 373.2 64.2 373.6 64.5 373.7 64.7 372.7 65.0 372.8 65.2 372.4 65.4 372.4 65.7 372.4 65.9 372.1 66.2 371.7 66.4 372.4 66.6 371.5 66.9 371.3 67.1 371.6 67.4 371.0 67.6 370.8 67.9 371.0 68.1 370.2 68.3 370.6 68.6 370.5 68.8 370.2 69.1 369.7 69.3 369.6 69.6 368.9 69.8 369.2 70.0 369.2 70.3 369.2 70.5 368.8 70.8 368.5 71.0 368.2 71.3 368.2 71.5 368.1 71.8 368.3 72.1 367.8 72.3 367.5 72.6 367.4 72.8 367.2 73.1 367.1 73.3 366.3 73.6 366.3 73.9 366.3 74.1 366.7 74.3 366.3 74.6 366.2 74.8 366.4 75.1 365.5 75.3 366.0 75.5 365.5 75.7 365.0 76.0 365.5 76.2 364.3 76.4 364.2 76.6 364.3 76.8 364.3 77.1 363.9 77.3 363.1 77.5 363.5 77.7 363.4 78.0 364.1 78.2 363.6 78.5 363.1 78.7 362.6 79.0 363.1 79.3 362.5 79.5 363.0 79.8 363.1 80.1 362.8 80.3 363.0 80.6 362.7 80.8 362.5 81.1 363.1 81.3 362.6 81.5 362.1 81.7 361.7 81.9 361.8 82.1 361.7 82.3 361.6 82.5 361.6 82.8 361.1 83.0 360.3 83.2 361.2 83.4 360.7 83.6 360.3 83.8 360.3 84.0 359.1 84.2 359.3 84.4 359.0 84.7 359.4 84.9 358.3 85.1 358.4 85.3 358.9 85.5 358.4 85.7 357.8 85.9 358.4 86.1 357.0 86.2 357.4 86.4 356.9 86.5 356.9 86.7 356.3 86.8 355.9 86.9 356.0 87.0 355.1 87.1 355.5 87.2 354.9 87.3 355.1 87.4 354.3 87.5 353.9 87.6 354.1 87.7 354.1 87.7 352.5 87.8 353.1 87.9 353.0 88.0 351.9 88.1 351.8 88.2 352.2 88.3 351.3 88.4 351.1 88.5 351.7 88.6 350.4 88.7 350.1 88.8 349.3 88.9 349.5 89.0 349.1 89.1 350.0 89.2 349.5 89.3 348.3 89.3 349.3 89.4 348.5 89.5 347.8 89.6 347.9 89.7 347.5 89.7 346.7 89.8 346.0 89.9 346.1 89.9 346.1 90.0 345.7 90.0 345.2 90.1 345.7 90.1 344.5 90.2 345.0 90.2 344.2 90.3 344.1 90.3 343.3 90.4 343.5 90.4 342.9 90.5 342.1 90.5 342.6 90.6 342.3 90.6 342.4 90.7 341.8 90.7 341.0 90.8 340.9 90.9 339.7 90.9 340.0 91.0 340.8 91.0 340.6 91.1 340.0 91.1 339.5 91.2 339.3 91.2 339.0 91.3 337.7 91.3 337.8 91.4 338.4 91.4 338.1 91.5 337.4 91.5 336.8 91.6 336.5 91.6 336.1 91.7 335.7 91.7 334.9 91.8 335.6 91.8 335.0 91.9 334.8 91.9 335.5 92.0 334.8 92.1 334.1 92.2 334.6 92.3 333.7 92.4 334.9 92.5 334.7 92.6 334.7 92.7 335.3 92.8 336.0 92.9 335.4 93.1 335.4 93.2 337.1 93.3 336.4 93.4 337.4 93.5 336.7 93.7 337.4 93.8 337.2 93.9 338.1 94.0 338.0 94.1 338.1 94.3 339.3 94.4 339.1 94.5 338.3 94.6 339.4 94.7 339.3 94.9 339.5 95.0 339.9 95.2 340.1 95.3 340.5 95.5 340.2 95.7 339.7 95.9 340.2 96.1 340.8 96.4 339.6 96.6 340.3 96.9 340.1 97.1 339.5 97.4 339.7 97.6 339.0 97.9 339.0 98.1 338.6 98.4 339.1 98.6 339.3 98.8 338.2 99.1 338.9 99.3 337.2 99.6 337.6 99.8 337.4 100.1 338.4 100.3 337.2 100.6 337.7 100.8 336.2 101.0 337.0 101.3 337.0 101.5 336.6 101.8 335.2 102.0 336.3 102.2 336.4 102.5 336.5 102.7 335.9 103.0 334.7 103.2 335.2 103.4 335.5 103.7 334.6 103.9 335.0 104.1 334.3 104.4 334.4 104.6 334.6 104.9 333.7 105.1 335.2 105.3 333.7 105.6 333.6 105.8 332.9 106.0 333.1 106.3 332.8 106.5 332.0 106.8 331.8 107.0 332.5 107.2 332.1 107.5 330.7 107.7 330.8 107.9 331.5 108.2 331.4 108.4 331.5 108.7 330.5 108.9 331.2 109.1 330.6 109.4 330.3 109.6 330.3 109.9 330.7 110.1 330.3 110.4 330.3 110.6 329.4 110.9 329.4 111.1 328.8 111.4 328.9 111.6 328.8 111.9 328.6 112.1 329.1 112.4 328.7 112.6 328.7 112.9 328.3 113.1 328.6 113.4 327.9 113.6 328.2 113.9 327.8 114.1 327.7 114.4 327.2 114.6 326.4 114.9 326.1 115.1 327.7 115.4 326.7 115.6 326.6 115.9 326.1 116.1 325.8 116.4 327.3 116.6 325.1 116.9 325.5 117.1 325.3 117.4 324.6 117.6 324.4 117.9 324.5 118.1 324.5 118.4 324.3 118.6 324.8 118.9 323.6 119.1 324.3 119.4 324.7 119.7 324.2 119.9 323.0 120.2 321.9 120.4 323.7 120.7 323.4 121.0 322.7 121.2 323.5 121.5 322.5 121.7 322.6 122.0 321.9 122.3 322.4 122.5 321.9 122.8 321.7 123.1 322.4 123.3 321.8 123.6 320.8 123.8 321.7 124.1 321.7 124.4 320.6 124.6 320.7 124.8 320.8 125.1 320.4 125.3 320.4 125.5 320.5 125.7 319.7 125.9 320.8 126.1 319.1 126.3 319.0 126.5 320.1 126.7 320.0 126.9 318.6 127.0 318.2 127.2 317.5 127.4 318.5 127.6 317.7 127.8 316.9 128.0 317.4 128.2 317.6 128.4 317.0 128.5 317.6 128.7 316.8 128.9 316.2 129.1 315.7 129.3 315.8 129.5 315.9 129.7 315.5 129.8 315.4 130.0 314.7 130.2 314.7 130.4 314.7 130.6 313.7 130.8 312.9 130.9 314.3 131.1 313.4 131.3 312.6 131.5 312.8 131.7 312.3 131.8 311.2 132.0 311.8 132.2 310.9 132.4 311.6 132.6 311.1 132.8 311.6 132.9 310.7 133.1 310.7 133.3 310.1 133.5 309.8 133.7 309.0 133.9 310.1 134.0 309.4 134.2 308.7 134.4 308.9 134.6 308.3 134.8 307.9 135.0 308.2 135.1 308.6 135.3 307.5 135.5 306.6 135.8 306.9 136.0 308.0 136.2 306.3 136.4 307.3 136.6 306.3 136.9 306.6 137.1 305.9 137.3 304.9 137.5 305.3 137.7 306.6 138.0 305.1 138.2 305.3 138.4 304.6 138.6 304.5 138.8 304.5 139.0 304.4 139.2 305.1 139.4 303.6 139.5 303.3 139.7 302.8 139.9 302.1 140.1 301.7 140.3 302.8 140.5 301.1 140.7 302.8 140.9 302.2 141.0 301.3 141.2 300.6 141.4 301.0 141.6 300.8 141.7 301.2 141.9 299.8 142.0 299.8 142.2 299.7 142.4 299.3 142.5 298.9 142.6 297.9 142.8 297.7 142.9 298.0 143.1 298.1 143.2 298.5 143.4 299.1 143.5 298.4 143.7 297.4 143.8 298.0 144.0 296.6 144.1 296.0 144.3 297.5 144.4 295.2 144.6 295.3 144.7 295.1 144.8 295.9 145.0 294.4 145.1 295.0 145.2 294.0 145.3 293.2 145.5 293.8 145.6 293.5 145.7 292.4 145.8 292.3 145.9 292.1 146.0 292.9 146.1 292.3 146.2 291.9 146.3 291.7 146.4 290.8 146.5 291.2 146.5 290.2 146.6 289.4 146.6 289.5 146.7 289.8 146.8 289.4 146.8 289.8 146.9 287.7 147.0 288.4 147.0 288.5 147.1 287.3 147.2 287.8 147.2 287.1 147.3 286.3 147.4 287.5 147.4 285.6 147.5 286.8 147.5 285.6 147.6 285.0 147.7 284.7 147.7 284.5 147.8 284.1 147.8 284.6 147.9 282.9 147.9 284.6 148.0 284.0 148.0 284.1 148.0 282.3 148.1 281.1 148.1 281.9 148.2 281.9 148.2 281.9 148.3 281.1 148.3 281.1 148.3 280.9 148.4 279.5 148.4 281.4 148.5 279.2 148.5 279.8 148.5 280.1 148.6 278.5 148.6 278.7 148.7 279.5 148.7 278.0 148.8 278.5 148.8 277.7 148.8 277.4 148.9 277.4 148.9 276.5 149.0 276.2 149.0 276.7 149.0 275.9 149.1 275.8 149.1 274.4 149.2 274.9 149.2 275.4 149.2 274.9 149.3 274.2 149.3 273.3 149.4 273.0 149.4 273.4 149.4 273.8 149.5 272.5 149.5 273.1 149.6 271.7 149.6 272.4 149.6 270.6 149.7 271.1 149.7 270.0 149.8 270.9 149.8 270.5 149.8 269.2 149.9 269.0 149.9 268.9 150.0 267.9 150.0 268.0 150.0 267.7 150.1 268.6 150.1 268.7 150.1 267.1 150.2 266.9 150.2 267.0 150.3 266.2 150.3 266.0 150.3 266.5 150.4 265.8 150.4 265.3 150.5 264.6 150.5 265.8 150.5 264.0 150.6 264.2 150.6 263.1 150.7 263.1 150.7 263.4 150.8 262.9 150.8 263.5 150.9 263.1 151.0 262.1 151.0 261.5 151.1 264.1 151.2 263.2 151.3 264.9 151.4 264.2 151.5 263.9 151.7 265.1 151.8 264.8 151.9 265.3 152.0 264.9 152.1 266.3 152.2 266.9 152.3 266.0 152.4 267.9 152.5 266.6 152.6 267.4 152.7 266.4 152.8 266.4 153.0 269.4 153.1 269.1 153.3 269.0 153.5 267.1 153.8 268.5 154.0 268.6 154.3 268.4 154.6 268.5 154.9 267.5 155.2 268.0 155.5 267.2 155.8 267.7 156.1 268.2 156.4 267.3 156.6 267.6 156.9 267.4 157.2 267.5 157.4 268.0 157.6 267.4 157.8 267.3 158.0 265.8 158.2 266.3 158.3 266.9 158.5 265.5 158.6 265.5 158.7 264.9 158.9 266.2 159.0 264.7 159.2 264.2 159.3 264.9 159.5 265.0 159.6 264.3 159.7 264.4 159.9 263.6 160.0 263.1 160.2 262.6 160.3 262.3 160.4 261.9 160.6 262.4 160.7 261.7 160.8 261.6 160.9 261.7 161.0 261.0 161.1 259.7 161.2 259.8 161.3 259.3 161.4 258.5 161.5 259.6 161.5 258.4 161.6 258.0 161.7 257.9 161.8 259.0 161.9 257.9 161.9 258.5 162.0 257.5 162.1 256.9 162.2 257.4 162.3 257.1 162.3 256.5 162.4 255.3 162.5 255.5 162.6 254.6 162.7 255.0 162.7 255.0 162.8 255.7 162.9 255.4 163.0 254.6 163.1 254.5 163.1 253.6 163.2 255.3 163.3 254.0 163.4 254.6 163.5 252.6 163.5 252.3 163.6 252.5 163.7 251.6 163.8 251.4 163.9 250.1 163.9 251.3 164.0 250.4 164.1 250.6 164.2 249.5 164.2 248.1 164.3 249.5 164.4 249.7 164.5 247.6 164.6 247.5 164.6 247.7 164.7 247.5 164.8 246.1 164.9 248.4 165.0 247.6 165.0 246.0 165.1 244.8 165.2 246.2 165.3 247.2 165.4 246.0 165.4 246.0 165.5 244.0 165.6 244.7 165.7 243.0 165.7 245.4 165.8 244.1 165.9 241.7 166.0 241.6 166.1 243.1 166.1 242.6 166.2 241.9 166.3 242.4 166.4 243.2 166.5 241.6 166.5 239.6 166.6 240.6 166.7 239.4 166.8 239.5 166.8 240.1 166.9 239.4 167.0 238.4 167.1 239.0 167.2 238.0 167.2 238.8 167.3 237.9 167.4 238.1 167.4 237.3 167.5 237.8 167.6 236.8 167.7 236.6 167.7 235.9 167.8 236.2 167.9 234.3 168.0 237.6 168.0 234.6 168.1 235.0 168.2 234.2 168.3 233.9 168.3 234.3 168.4 233.3 168.5 233.1 168.6 232.0 168.6 232.1 168.7 231.6 168.8 233.7 168.8 230.9 168.9 230.8 169.0 231.5 169.1 232.3 169.1 229.4 169.2 229.3 169.3 230.3 169.4 230.2 169.4 228.5 169.5 227.9 169.6 228.3 169.7 229.4 169.7 228.4 169.8 228.8 169.9 227.8 170.0 227.6 170.1 227.8 170.2 226.9 170.3 227.0 170.4 225.7 170.5 225.7 170.6 226.3 170.7 225.5 170.9 224.8 171.0 225.7 171.1 225.3 171.3 224.6 171.4 223.7 171.5 224.8 171.7 225.9 171.8 222.8 171.9 222.0 172.1 222.4 172.3 222.1 172.4 221.7 172.6 221.7 172.8 223.4 173.1 223.5 173.3 224.1 173.5 223.6 173.8 222.7 174.1 224.2 174.3 222.9 174.6 223.3 174.8 222.8 175.1 224.9 175.4 224.9 175.6 223.8 175.9 224.0 176.2 224.4 176.4 224.6 176.7 225.1 177.0 224.5 177.3 224.7 177.6 223.1 177.9 224.1 178.2 222.8 178.5 225.7 178.8 225.3 179.1 224.7 179.4 225.0 179.7 225.7 180.0 224.8 180.2 222.6 180.5 223.6 180.8 221.8 181.1 222.9 181.3 222.4 181.6 223.3 181.9 223.5 182.1 222.2 182.4 222.6 182.6 222.9 182.9 222.4 183.1 222.2 183.4 220.2 183.6 221.6 183.9 222.5 184.1 221.9 184.4 220.3 184.6 221.1 184.9 221.4 185.1 220.2 185.3 221.4 185.6 220.0 185.8 220.2 186.0 220.1 186.2 221.9 186.4 219.6 186.7 219.1 186.9 220.0 187.1 218.8 187.3 219.1 187.5 216.8 187.7 218.8 187.9 218.3 188.1 217.0 188.3 219.0 188.5 217.5 188.7 217.3 188.9 216.1 189.1 215.6 189.3 216.2 189.5 215.2 189.6 216.7 189.8 216.8 190.0 215.2 190.2 214.1 190.4 215.0 190.6 214.3 190.8 215.2 191.0 215.2 191.2 214.6 191.4 215.1 191.7 216.0 191.9 216.7 192.2 214.9 192.4 216.1 192.7 215.5 193.0 214.9 193.2 217.1 193.5 216.5 193.7 216.4 194.0 216.8 194.2 216.5 194.4 215.9 194.6 218.5 194.8 218.0 195.0 217.7 195.2 218.5 195.3 219.1 195.5 218.1 195.6 219.0 195.8 218.5 195.9 219.6 196.1 219.1 196.2 221.6 196.4 219.5 196.5 220.5 196.7 220.7 196.8 220.3 197.0 221.6 197.1 221.0 197.3 221.0 197.4 221.6 197.6 221.2 197.7 223.1 197.9 222.9 198.0 223.5 198.1 221.8 198.3 223.4 198.4 222.8 198.5 223.8 198.7 225.1 198.8 224.5 198.9 224.4 199.1 225.7 199.2 225.9 199.3 226.9 199.5 224.1 199.6 226.2 199.7 225.8 199.9 225.7 200.0 226.8 200.2 226.0 200.3 225.4 200.4 226.8 200.6 227.6 200.7 229.6 200.8 227.7 201.0 227.6 201.1 227.2 201.3 228.8 201.4 229.2 201.6 229.7 201.7 228.7 201.9 229.5 202.0 228.5 202.2 230.8 202.4 229.6 202.5 228.9 202.7 232.4 202.8 232.1 203.0 232.2 203.1 232.5 203.3 231.6 203.4 233.6 203.6 232.1 203.7 234.8 203.9 233.7 204.0 232.3 204.2 234.7 204.4 235.8 204.5 234.3 204.7 235.6 204.8 234.9 205.0 234.8 205.1 233.5 205.3 236.8 205.4 235.7 205.5 236.6 205.7 235.7 205.8 236.2 205.9 238.1 206.0 237.1 206.1 237.4 206.2 237.0 206.4 238.4 206.5 239.2 206.6 238.5 206.7 239.0 206.8 238.4 206.9 240.8 207.0 239.5 207.2 240.1 207.3 241.8 207.4 240.6 207.5 239.8 207.6 240.6 207.7 241.3 207.8 243.3 207.9 242.3 208.1 242.3 208.2 243.4 208.3 244.0 208.4 242.7 208.5 244.7 208.6 244.5 208.7 244.5 208.9 242.6 209.0 244.8 209.1 246.0 209.2 245.0 209.3 247.3 209.4 245.9 209.5 245.3 209.6 246.8 209.8 246.9 209.9 247.5 210.0 247.0 210.1 248.5 210.2 247.3 210.3 248.1 210.4 247.3 210.6 248.0 210.7 249.0 210.8 248.6 210.9 249.1 211.0 249.5 211.1 250.2 211.2 250.8 211.3 251.1 211.4 251.6 211.5 251.3 211.6 251.0 211.7 250.5 211.8 251.7 211.9 251.6 212.0 251.1 212.1 254.0 212.2 251.7 212.4 253.6 212.5 254.1 212.6 253.7 212.7 256.1 212.8 254.5 212.9 254.2 213.0 256.4 213.1 254.7 213.2 254.5 213.3 255.1 213.4 255.7 213.5 256.5 213.6 257.0 213.7 255.9 213.8 257.6 213.9 259.2 214.0 257.3 214.1 258.1 214.2 258.9 214.3 259.6 214.4 258.5 214.5 258.6 214.6 258.8 214.8 260.6 214.9 260.8 215.0 258.8 215.1 259.1 215.2 260.1 215.3 260.2 215.4 261.8 215.5 262.0 215.6 263.5 215.7 263.0 215.8 262.7 215.9 263.8 216.0 262.6 216.1 262.5 216.2 263.8 216.3 264.7 216.5 263.2 216.6 265.3 216.7 265.5 216.8 264.8 216.9 265.6 217.0 265.5 217.1 266.1 217.2 266.9 217.3 266.0 217.4 267.6 217.5 267.8 217.6 268.1 217.7 266.3 217.8 266.7 218.0 268.8 218.1 268.1 218.2 268.3 218.3 268.6 218.4 268.4 218.5 269.5 218.6 269.4 218.7 269.8 218.8 270.8 218.9 270.0 219.0 271.9 219.1 269.8 219.2 273.4 219.3 271.0 219.5 272.6 219.6 273.1 219.7 272.8 219.8 273.6 219.9 273.2 220.0 272.4 220.1 274.1 220.2 275.0 220.3 274.1 220.4 273.6 220.5 274.6 220.6 275.5 220.7 275.8 220.8 276.6 220.9 276.5 221.0 276.8 221.2 275.3 221.3 278.5 221.4 277.3 221.5 278.1 221.6 277.6 221.7 278.0 221.8 278.4 221.9 279.7 222.0 280.0 222.1 279.6 222.2 280.8 222.3 279.5 222.4 280.4 222.5 280.0 222.6 281.5 222.7 280.9 222.8 281.9 222.9 282.6 223.0 280.4 223.2 283.5 223.3 282.5 223.4 282.4 223.5 281.6 223.6 283.0 223.7 281.9 223.8 283.8 223.9 283.9 224.0 285.5 224.1 284.4 224.2 285.6 224.3 285.9 224.4 286.8 224.5 285.5 224.6 286.5 224.7 285.3 224.8 285.8 224.9 286.7 225.0 287.1 225.1 286.6 225.2 287.4 225.2 288.5 225.3 288.0 225.4 288.5 225.5 288.3 225.6 290.0 225.7 290.6 225.8 289.9 225.8 289.9 225.9 291.4 226.0 290.9 226.1 290.4 226.2 290.3 226.3 291.1 226.4 293.1 226.4 291.7 226.5 294.2 226.6 292.6 226.7 292.8 226.8 294.0 226.9 293.3 227.0 294.0 227.0 293.4 227.1 293.6 227.2 294.2 227.3 295.1 227.4 294.8 227.5 294.3 227.6 296.1 227.6 296.0 227.7 296.2 227.8 296.3 227.9 295.5 228.0 298.2 228.1 297.2 228.2 298.1 228.2 298.9 228.3 299.1 228.4 298.8 228.5 298.9 228.6 299.4 228.7 300.1 228.8 300.2 228.9 299.8 228.9 300.7 229.0 300.9 229.1 301.4 229.2 301.4 229.3 302.4 229.4 301.9 229.5 302.6 229.6 302.4 229.6 302.3 229.7 302.4 229.8 303.2 229.9 303.9 230.0 304.6 230.1 304.1 230.2 304.1 230.3 304.4 230.4 305.7 230.5 305.3 230.5 305.2 230.6 306.3 230.7 305.3 230.8 306.5 230.9 306.7 231.0 306.9 231.1 306.6 231.2 308.1 231.3 308.8 231.4 307.4 231.5 308.5 231.5 309.1 231.6 310.3 231.7 309.0 231.8 309.0 231.9 309.8 232.0 311.3 232.1 310.5 232.2 310.8 232.3 312.0 232.4 310.1 232.5 310.3 232.6 312.3 232.7 312.5 232.8 311.6 232.9 313.0 233.0 313.0 233.1 313.3 233.2 313.1 233.4 313.5 233.5 313.6 233.6 314.4 233.7 314.5 233.8 315.8 233.9 315.5 234.0 314.6 234.1 316.0 234.3 316.8 234.4 316.4 234.5 317.2 234.6 316.8 234.7 317.5 234.8 316.9 234.9 318.1 235.0 317.2 235.2 318.9 235.3 317.7 235.4 317.7 235.5 319.4 235.6 319.3 235.7 319.7 235.8 320.1 235.9 320.2 236.1 320.0 236.2 320.9 236.3 321.2 236.4 321.6 236.5 322.6 236.6 321.5 236.7 322.2 236.8 322.7 237.0 322.5 237.1 322.4 237.2 323.0 237.3 324.1 237.4 323.7 237.5 324.4 237.6 324.0 237.7 324.9 237.8 324.6 238.0 324.8 238.1 325.5 238.2 325.8 238.3 326.8 238.4 325.5 238.5 326.9 238.6 327.7 238.7 327.9 238.9 327.2 239.0 327.4 239.1 327.7 239.2 328.4 239.3 328.7 239.4 329.0 239.5 329.4 239.6 328.9 239.7 329.1 239.8 329.3 240.0 329.6 240.1 330.5 240.2 330.9 240.3 332.3 240.4 331.6 240.5 331.6 240.6 332.6 240.7 331.8 240.8 332.6 241.0 333.2 241.1 333.4 241.2 333.5 241.3 333.4 241.4 333.3 241.5 334.1 241.6 334.1 241.7 335.0 241.8 334.9 242.0 335.5 242.1 334.8 242.2 336.3 242.3 335.7 242.4 335.6 242.5 336.0 242.6 336.6 242.7 337.7 242.8 337.8 242.9 337.2 243.1 338.1 243.2 338.3 243.3 337.9 243.4 338.4 243.5 338.2 243.6 339.1 243.7 338.5 243.8 339.6 243.9 339.9 244.1 340.2 244.2 340.5 244.3 341.7 244.4 341.2 244.5 341.8 244.6 342.3 244.7 342.7 244.8 342.8 244.9 342.6 245.0 342.6 245.1 343.0 245.2 343.5 245.3 344.0 245.4 344.2 245.5 345.0 245.6 344.8 245.7 345.9 245.8 345.8 245.8 345.5 245.9 346.3 246.0 345.0 246.1 347.1 246.2 347.0 246.3 347.3 246.4 346.7 246.5 348.7 246.6 347.8 246.7 348.2 246.8 349.0 246.9 348.7 247.0 348.7 247.1 349.6 247.2 349.2 247.3 350.3 247.4 350.3 247.5 351.0 247.5 350.3 247.6 351.6 247.7 351.5 247.8 352.5 247.9 351.7 248.0 353.0 248.1 352.8 248.2 353.1 248.3 352.8 248.4 353.6 248.5 353.9 248.6 353.6 248.7 353.8 248.8 354.2 248.9 355.4 249.0 355.1 249.1 355.7 249.2 355.8 249.2 356.0 249.3 356.3 249.4 356.3 249.5 357.3 249.6 357.1 249.7 357.4 249.8 357.1 249.9 358.0 249.9 357.8 250.0 358.0" fill="none" stroke="#ff0000" stroke-width="1.8" stroke-linejoin="round" clip-path="url(#cC)"/>
<path d="M37.8 385.7 38.0 385.3 38.2 385.4 38.4 385.6 38.7 385.7 39.0 385.4 39.3 385.5 39.6 385.5 39.9 385.2 40.2 385.0 40.5 385.0 40.8 385.6 41.1 385.4 41.4 385.1 41.7 385.3 42.0 385.3 42.3 385.3 42.6 385.4 42.9 385.9 43.2 385.2 43.5 385.4 43.8 385.2 44.1 385.2 44.4 385.2 44.7 385.3 45.0 385.2 45.3 385.4 45.6 385.4 45.9 385.1 46.2 385.7 46.5 385.1 46.8 385.4 47.1 385.8 47.4 385.1 47.7 385.6 48.0 385.6 48.3 385.3 48.6 384.9 48.9 385.6 49.2 385.3 49.5 385.1 49.8 385.5 50.1 385.1 50.4 385.5 50.7 385.1 51.0 385.3 51.3 385.0 51.6 385.1 51.9 385.0 52.2 385.0 52.5 385.2 52.8 385.1 53.1 385.2 53.4 385.4 53.7 385.1 54.0 384.7 54.3 385.1 54.6 385.2 54.9 385.4 55.2 385.4 55.5 385.3 55.8 385.1 56.1 385.2 56.4 384.8 56.7 385.4 57.0 385.2 57.3 385.2 57.6 385.0 57.9 385.1 58.2 384.9 58.5 385.2 58.8 384.8 59.1 385.3 59.4 385.2 59.7 385.5 60.0 385.0 60.3 385.0 60.6 385.0 60.9 385.0 61.2 384.9 61.5 384.6 61.8 384.6 62.1 384.6 62.4 384.6 62.7 384.3 63.0 384.2 63.3 384.3 63.5 384.5 63.8 384.2 64.1 384.3 64.4 384.3 64.7 384.1 65.0 383.8 65.3 383.7 65.6 383.3 65.8 383.5 66.1 383.6 66.4 383.2 66.7 383.7 67.0 383.6 67.3 383.1 67.6 383.3 67.9 382.7 68.1 382.7 68.4 382.8 68.7 382.8 69.0 382.6 69.3 382.4 69.6 383.0 69.9 382.5 70.2 382.4 70.5 382.4 70.7 382.2 71.0 382.0 71.3 381.8 71.6 381.5 71.9 382.2 72.2 381.5 72.5 381.2 72.8 381.3 73.0 381.0 73.3 381.9 73.6 381.4 73.9 381.5 74.2 381.5 74.5 381.2 74.8 381.1 75.1 380.7 75.3 380.7 75.6 380.5 75.9 380.5 76.1 380.2 76.4 380.6 76.6 380.3 76.9 379.9 77.1 379.3 77.3 379.7 77.5 379.5 77.7 379.0 77.9 378.5 78.1 378.7 78.3 378.7 78.5 377.6 78.7 378.1 78.9 377.2 79.1 377.5 79.3 377.8 79.5 377.1 79.7 377.0 80.0 376.6 80.2 376.5 80.4 377.0 80.7 376.6 81.0 375.9 81.2 375.8 81.5 375.8 81.8 376.2 82.0 375.5 82.3 375.7 82.6 375.1 82.8 374.7 83.1 375.3 83.4 374.8 83.6 374.4 83.9 374.3 84.1 374.2 84.4 374.0 84.6 373.6 84.9 374.2 85.1 373.8 85.4 373.8 85.6 373.2 85.9 373.3 86.1 373.0 86.4 373.2 86.6 372.9 86.9 372.6 87.1 372.1 87.3 371.7 87.5 371.7 87.7 371.5 87.9 371.3 88.1 370.9 88.2 371.5 88.3 370.8 88.4 369.8 88.5 369.8 88.6 369.5 88.7 369.7 88.8 369.6 88.9 368.7 88.9 368.9 89.0 368.4 89.1 368.5 89.2 368.3 89.3 367.7 89.4 367.5 89.5 367.0 89.5 366.6 89.6 366.0 89.7 366.2 89.8 365.8 89.9 365.4 90.0 365.2 90.1 364.9 90.1 364.3 90.2 364.2 90.3 364.5 90.4 363.8 90.5 364.0 90.6 362.9 90.7 362.5 90.8 362.7 90.9 362.7 91.0 361.9 91.1 362.1 91.2 361.9 91.3 361.7 91.4 360.9 91.5 360.7 91.6 359.8 91.7 360.1 91.8 360.0 91.9 360.1 92.0 358.8 92.1 358.7 92.1 358.3 92.3 358.8 92.4 357.3 92.5 357.7 92.6 358.7 92.8 358.2 93.0 357.4 93.2 358.0 93.4 358.4 93.6 358.5 93.8 358.4 94.1 358.4 94.3 359.2 94.5 359.0 94.7 359.5 95.0 359.6 95.2 359.5 95.4 360.4 95.6 359.8 95.9 360.4 96.1 360.2 96.3 360.5 96.6 360.5 96.8 360.5 97.1 360.8 97.3 361.2 97.6 361.3 97.8 361.1 98.1 360.4 98.4 360.8 98.6 360.3 98.9 360.7 99.1 359.4 99.4 360.3 99.7 359.4 99.9 359.9 100.2 359.1 100.5 359.5 100.7 358.9 101.0 358.2 101.3 358.4 101.5 358.5 101.8 358.4 102.0 357.5 102.3 357.7 102.6 357.7 102.8 357.8 103.1 357.8 103.4 357.3 103.6 356.9 103.9 357.4 104.2 357.0 104.4 357.4 104.7 356.7 105.0 357.0 105.3 356.3 105.5 356.7 105.8 356.5 106.1 356.5 106.4 355.9 106.7 356.1 106.9 355.7 107.2 355.8 107.5 356.0 107.8 356.8 108.1 355.6 108.3 355.7 108.6 355.4 108.9 355.7 109.2 355.3 109.5 355.4 109.7 355.0 110.0 355.7 110.3 355.2 110.6 353.9 110.9 354.6 111.1 354.4 111.4 353.4 111.7 353.8 112.0 353.8 112.2 353.6 112.5 353.8 112.8 352.9 113.1 353.8 113.3 353.7 113.6 353.4 113.9 353.0 114.1 353.0 114.4 352.6 114.7 353.1 114.9 352.8 115.2 353.2 115.5 352.1 115.7 352.7 116.0 351.8 116.3 351.8 116.5 351.3 116.8 351.8 117.1 351.4 117.3 351.6 117.6 351.8 117.9 351.0 118.1 351.1 118.4 351.1 118.7 350.6 118.9 350.3 119.2 350.5 119.5 350.4 119.8 350.4 120.0 350.3 120.3 349.6 120.6 349.9 120.9 350.1 121.1 349.3 121.4 349.6 121.7 349.0 122.0 349.3 122.3 349.8 122.5 349.1 122.8 348.5 123.1 348.9 123.4 348.8 123.7 349.0 124.0 347.9 124.2 348.0 124.5 348.3 124.8 347.5 125.1 348.5 125.4 347.1 125.7 347.5 125.9 347.2 126.2 347.4 126.5 347.9 126.8 347.7 127.1 347.8 127.4 347.5 127.6 346.3 127.9 347.2 128.2 346.2 128.5 346.6 128.8 346.6 129.0 346.4 129.3 346.7 129.6 346.1 129.9 347.1 130.2 346.5 130.5 346.6 130.7 346.3 131.0 346.3 131.3 345.8 131.6 346.5 131.8 345.1 132.1 345.6 132.4 345.3 132.7 345.1 133.0 345.2 133.2 344.7 133.5 345.3 133.8 345.1 134.1 344.8 134.4 344.9 134.7 344.1 135.0 343.7 135.3 344.1 135.5 344.2 135.8 345.3 136.1 344.1 136.4 344.5 136.7 344.4 137.0 344.9 137.3 343.9 137.6 344.1 137.9 343.7 138.2 343.3 138.5 343.2 138.8 343.2 139.0 344.1 139.3 343.5 139.6 343.2 139.9 343.1 140.2 342.8 140.4 342.9 140.7 342.7 140.9 342.9 141.2 342.8 141.4 341.6 141.7 342.2 142.0 342.5 142.2 341.3 142.4 341.5 142.7 341.5 142.9 341.7 143.1 341.3 143.4 340.8 143.6 340.9 143.8 340.9 144.0 340.4 144.2 340.8 144.4 340.0 144.6 339.1 144.8 339.0 145.0 339.1 145.2 338.8 145.4 339.0 145.6 338.6 145.8 339.0 146.0 338.4 146.2 338.5 146.4 337.2 146.7 337.1 146.9 337.4 147.1 336.9 147.2 337.0 147.4 336.5 147.6 335.9 147.7 336.7 147.9 336.2 148.0 334.7 148.2 334.9 148.3 334.9 148.4 334.9 148.5 334.3 148.7 333.4 148.8 334.2 148.9 333.4 149.0 333.8 149.2 333.1 149.3 333.2 149.4 332.8 149.5 332.6 149.7 331.6 149.8 332.1 149.9 331.4 150.0 330.4 150.1 330.6 150.3 330.3 150.4 330.5 150.6 330.4 150.7 329.4 150.9 330.1 151.1 329.7 151.3 329.2 151.6 330.1 151.8 329.4 152.1 329.3 152.4 330.4 152.6 330.5 152.9 329.9 153.2 330.9 153.5 331.0 153.7 330.3 154.0 331.7 154.3 330.8 154.6 331.0 154.8 329.8 155.1 331.3 155.4 330.7 155.7 331.2 155.9 330.2 156.2 331.5 156.5 331.5 156.8 331.6 157.0 329.2 157.3 330.7 157.6 330.5 157.9 328.7 158.1 329.7 158.4 329.9 158.7 330.5 159.0 329.3 159.2 329.7 159.5 329.4 159.8 329.5 160.1 329.0 160.3 329.5 160.6 329.4 160.9 328.2 161.1 329.2 161.3 328.1 161.6 328.2 161.8 328.7 162.0 328.0 162.2 328.0 162.4 327.9 162.6 327.5 162.8 326.7 162.9 326.3 163.1 326.9 163.3 326.7 163.5 326.2 163.7 325.7 163.8 326.0 164.0 325.3 164.2 324.4 164.4 325.0 164.6 324.8 164.7 324.7 164.9 323.7 165.1 323.5 165.3 323.8 165.5 323.2 165.6 323.1 165.8 323.4 166.0 322.9 166.2 323.4 166.4 322.3 166.5 322.8 166.7 322.3 166.9 322.8 167.1 321.2 167.3 321.0 167.4 321.4 167.6 320.2 167.8 320.0 168.0 320.2 168.2 320.0 168.3 318.8 168.5 319.4 168.7 318.9 168.9 318.8 169.1 318.7 169.2 318.3 169.4 318.7 169.6 318.1 169.8 317.5 170.0 317.4 170.1 317.7 170.3 317.4 170.5 317.5 170.8 316.6 171.0 316.7 171.2 317.6 171.5 316.5 171.8 317.4 172.0 317.0 172.3 316.4 172.6 316.0 172.9 317.1 173.2 316.5 173.5 316.5 173.8 316.1 174.1 317.7 174.4 317.2 174.7 317.2 175.0 317.5 175.3 317.5 175.6 317.5 175.8 317.7 176.1 317.4 176.4 316.2 176.7 318.0 177.0 317.8 177.3 317.6 177.6 318.4 177.9 316.8 178.2 316.0 178.5 318.2 178.8 317.6 179.1 316.5 179.4 317.1 179.7 317.6 180.0 316.5 180.3 317.4 180.6 318.2 180.8 317.7 181.1 316.9 181.4 317.1 181.7 316.3 182.0 316.8 182.3 316.5 182.6 316.1 182.9 315.9 183.2 317.6 183.5 316.5 183.8 315.9 184.1 316.1 184.4 317.1 184.7 317.1 185.0 315.8 185.3 316.2 185.5 316.5 185.8 315.7 186.1 315.2 186.4 315.2 186.7 315.7 187.0 315.2 187.3 314.8 187.6 315.3 187.9 315.9 188.2 315.7 188.5 315.1 188.8 316.2 189.0 314.8 189.3 315.1 189.6 314.4 189.9 315.5 190.2 315.0 190.5 314.1 190.8 314.5 191.1 315.9 191.4 315.3 191.7 314.9 192.0 315.3 192.3 314.0 192.6 314.4 192.9 314.2 193.2 314.5 193.5 314.8 193.8 315.3 194.1 315.6 194.4 315.7 194.7 316.7 194.9 315.1 195.2 315.5 195.5 315.9 195.7 315.3 195.9 315.8 196.2 316.3 196.4 315.9 196.6 316.8 196.8 317.4 197.0 316.4 197.2 316.0 197.4 317.4 197.6 317.1 197.9 317.9 198.1 317.8 198.3 318.3 198.6 319.0 198.8 319.0 199.1 318.5 199.3 318.2 199.5 317.7 199.8 318.0 200.0 318.9 200.3 319.6 200.5 319.3 200.7 319.6 200.9 319.3 201.2 319.4 201.4 319.6 201.6 321.0 201.8 319.9 202.0 321.5 202.2 320.9 202.4 321.8 202.6 321.9 202.9 322.4 203.1 322.8 203.3 322.0 203.5 322.1 203.7 322.6 203.9 322.6 204.1 323.6 204.3 323.4 204.6 323.7 204.8 324.1 205.0 323.9 205.2 324.9 205.4 323.6 205.6 324.8 205.8 325.2 206.0 324.8 206.3 325.0 206.5 326.0 206.7 325.6 206.9 325.1 207.1 325.6 207.3 326.9 207.5 326.2 207.7 327.5 207.9 327.8 208.1 327.2 208.3 327.8 208.5 327.4 208.7 327.8 208.9 327.9 209.1 328.8 209.3 328.1 209.5 328.9 209.7 329.2 209.9 329.7 210.0 328.6 210.2 329.0 210.4 329.7 210.6 330.2 210.8 330.6 211.0 330.9 211.2 332.0 211.4 331.6 211.6 331.8 211.8 331.5 212.0 332.3 212.2 332.5 212.3 332.7 212.5 332.6 212.7 333.2 212.9 333.8 213.1 333.0 213.3 332.6 213.5 334.2 213.7 334.4 213.9 334.2 214.1 334.3 214.3 336.0 214.5 334.7 214.6 334.6 214.8 335.2 215.0 335.9 215.2 335.6 215.4 335.9 215.6 336.5 215.8 336.4 215.9 336.9 216.1 337.1 216.3 336.8 216.5 337.6 216.6 337.3 216.8 338.5 217.0 337.9 217.2 338.4 217.3 338.0 217.5 338.8 217.7 338.7 217.9 340.2 218.0 339.7 218.2 340.2 218.4 339.5 218.6 340.0 218.7 340.7 218.9 340.4 219.1 341.7 219.3 341.3 219.4 341.8 219.6 342.1 219.8 342.1 220.0 342.8 220.2 342.4 220.3 343.1 220.5 343.7 220.7 343.5 220.9 343.7 221.0 343.8 221.2 344.2 221.4 344.7 221.6 344.5 221.7 344.2 221.9 345.2 222.1 345.3 222.3 345.8 222.4 345.9 222.6 346.8 222.8 345.9 223.0 346.2 223.1 347.1 223.3 346.7 223.5 347.5 223.7 347.6 223.8 347.0 224.0 348.3 224.2 348.8 224.4 348.6 224.6 348.2 224.7 349.3 224.9 348.8 225.1 349.5 225.3 349.9 225.4 349.7 225.6 349.6 225.8 350.4 226.0 350.7 226.2 350.6 226.3 350.9 226.5 351.7 226.7 351.7 226.9 351.7 227.0 351.9 227.2 352.5 227.4 352.7 227.6 352.8 227.8 352.6 227.9 353.2 228.1 353.4 228.3 353.9 228.5 354.5 228.6 354.7 228.8 354.8 229.0 354.9 229.2 355.0 229.4 355.4 229.5 355.4 229.7 355.7 229.9 355.7 230.1 356.3 230.2 356.5 230.4 357.4 230.6 357.2 230.8 357.1 231.0 357.8 231.1 357.6 231.3 358.3 231.5 358.5 231.7 359.5 231.9 358.3 232.0 358.9 232.2 359.2 232.4 359.5 232.6 359.9 232.8 359.6 232.9 359.9 233.1 360.5 233.3 361.0 233.5 360.5 233.6 360.6 233.8 361.8 234.0 361.9 234.2 362.2 234.4 361.8 234.5 362.3 234.7 362.6 234.9 363.0 235.1 363.0 235.3 363.3 235.4 363.9 235.6 363.6 235.8 363.8 236.0 364.1 236.2 364.3 236.3 364.8 236.5 364.9 236.7 365.1 236.9 365.9 237.1 365.8 237.2 365.8 237.4 366.6 237.6 366.3 237.8 366.7 238.0 366.9 238.1 367.0 238.3 367.2 238.5 367.6 238.8 367.4 239.0 367.9 239.2 368.3 239.4 368.5 239.7 368.7 239.9 369.5 240.1 369.1 240.4 369.1 240.6 369.2 240.9 369.5 241.1 369.8 241.4 369.7 241.6 370.4 241.8 369.8 242.1 370.5 242.3 370.7 242.6 370.4 242.8 371.1 243.1 371.2 243.3 371.0 243.5 372.1 243.8 371.8 244.0 371.7 244.3 371.8 244.5 371.9 244.8 372.4 245.0 372.5 245.2 372.2 245.5 372.5 245.7 372.8 246.0 373.1 246.2 373.3 246.5 373.3 246.7 373.9 246.9 374.1 247.2 374.1 247.4 373.6 247.7 374.4 247.9 374.7 248.2 374.7 248.4 375.0 248.6 375.2 248.9 374.9 249.1 374.8 249.3 375.8 249.5 375.6 249.7 376.0 249.8 375.9" fill="none" stroke="#00ff00" stroke-width="1.9" stroke-linejoin="round" clip-path="url(#cC)"/>
<path d="M37.8 384.2 38.0 384.5 38.2 383.9 38.4 384.1 38.7 383.9 39.0 384.1 39.3 384.1 39.6 384.1 39.9 383.9 40.2 383.6 40.5 383.9 40.8 383.9 41.1 383.9 41.4 384.1 41.7 383.7 42.0 383.4 42.2 383.4 42.5 383.5 42.8 383.6 43.1 383.1 43.4 383.5 43.7 383.4 44.0 383.0 44.3 383.3 44.6 383.0 44.9 383.1 45.2 383.0 45.5 383.0 45.8 382.7 46.1 383.0 46.4 382.4 46.7 382.7 47.0 382.7 47.3 383.1 47.6 382.8 47.9 382.6 48.2 382.4 48.5 382.6 48.8 382.4 49.1 383.0 49.4 381.9 49.7 382.4 50.0 381.9 50.3 382.6 50.6 382.1 50.9 382.6 51.2 382.1 51.5 382.4 51.8 382.2 52.1 382.4 52.4 382.1 52.7 381.4 53.0 381.9 53.3 381.6 53.6 382.1 53.9 382.0 54.2 381.9 54.5 381.9 54.7 381.8 55.0 381.6 55.3 382.1 55.6 381.7 55.9 381.6 56.2 381.3 56.5 381.4 56.8 381.5 57.1 381.4 57.4 381.3 57.7 381.3 58.0 381.0 58.3 381.2 58.6 380.8 58.9 380.9 59.2 380.9 59.5 381.2 59.8 381.1 60.1 380.9 60.4 380.6 60.7 380.7 61.0 380.9 61.3 381.0 61.6 380.3 61.9 380.5 62.2 380.6 62.5 380.6 62.8 380.5 63.1 380.6 63.3 380.0 63.6 380.6 63.9 380.0 64.2 380.1 64.5 380.2 64.8 380.2 65.1 380.0 65.3 379.9 65.6 379.9 65.9 379.4 66.2 379.5 66.4 379.6 66.7 378.9 67.0 378.6 67.2 378.6 67.5 379.0 67.8 378.9 68.1 378.4 68.3 378.4 68.6 378.3 68.9 378.3 69.2 377.5 69.4 377.7 69.7 377.7 70.0 377.7 70.3 377.5 70.6 377.4 70.8 377.4 71.1 376.7 71.4 377.9 71.7 377.3 72.0 377.3 72.3 376.9 72.6 377.1 72.9 377.4 73.2 377.3 73.5 376.8 73.8 376.4 74.1 376.7 74.4 376.5 74.6 376.7 74.9 376.1 75.2 376.3 75.5 376.3 75.8 376.0 76.1 376.2 76.3 375.6 76.6 375.5 76.9 375.6 77.2 375.7 77.4 375.3 77.7 375.2 78.0 375.5 78.3 375.3 78.6 375.1 78.9 375.2 79.1 375.2 79.4 375.4 79.7 375.4 80.0 375.2 80.3 375.3 80.6 375.3 80.9 375.4 81.1 375.4 81.4 375.0 81.7 375.1 82.0 375.1 82.3 375.2 82.6 374.9 82.8 375.2 83.1 374.6 83.4 374.7 83.7 374.3 84.0 374.1 84.2 374.2 84.5 374.2 84.8 374.1 85.1 373.9 85.4 373.7 85.7 373.5 85.9 373.5 86.2 373.6 86.5 373.6 86.8 372.4 87.0 373.3 87.3 373.3 87.6 373.2 87.9 372.8 88.1 372.8 88.4 372.3 88.7 372.3 88.9 372.3 89.2 371.8 89.5 371.7 89.7 371.8 90.0 371.3 90.3 371.5 90.5 371.0 90.8 371.3 91.1 371.1 91.3 370.8 91.6 370.6 91.9 370.6 92.2 370.0 92.4 370.3 92.7 370.4 93.0 370.5 93.3 370.0 93.5 369.9 93.8 370.2 94.1 370.2 94.4 369.5 94.7 369.8 94.9 369.8 95.2 369.5 95.5 369.0 95.8 368.9 96.1 369.2 96.3 369.5 96.6 368.8 96.9 369.1 97.2 369.1 97.5 368.2 97.8 368.2 98.0 368.7 98.3 368.4 98.6 368.2 98.9 368.0 99.2 368.0 99.4 367.6 99.7 368.3 100.0 367.3 100.3 367.0 100.6 367.4 100.9 367.7 101.1 367.0 101.4 367.1 101.7 366.7 102.0 366.9 102.3 366.5 102.6 366.5 102.9 366.2 103.2 366.4 103.4 367.0 103.7 366.4 104.0 366.4 104.3 366.8 104.6 366.0 104.9 365.8 105.2 366.1 105.5 365.5 105.8 365.9 106.0 366.0 106.3 365.3 106.6 365.4 106.9 365.9 107.2 365.1 107.5 365.1 107.8 365.3 108.1 365.0 108.4 364.8 108.6 365.4 108.9 364.7 109.2 364.9 109.5 364.6 109.8 364.6 110.1 364.2 110.4 364.7 110.7 364.3 111.0 364.6 111.2 363.9 111.5 364.0 111.8 364.2 112.1 364.0 112.4 363.7 112.7 363.7 113.0 363.3 113.3 363.6 113.5 362.8 113.8 363.5 114.1 363.7 114.4 363.5 114.7 363.4 115.0 362.9 115.3 363.1 115.5 362.8 115.8 362.8 116.1 362.7 116.4 361.6 116.7 362.8 117.0 362.6 117.3 362.6 117.6 362.0 117.8 362.4 118.1 362.2 118.4 361.3 118.7 361.4 119.0 361.8 119.3 361.5 119.6 361.6 119.9 361.4 120.1 361.9 120.4 360.8 120.7 360.9 121.0 361.0 121.3 360.8 121.6 361.0 121.9 361.1 122.2 360.6 122.5 361.1 122.8 361.3 123.1 361.2 123.4 361.4 123.7 361.0 124.0 360.6 124.3 361.1 124.6 360.7 124.8 361.0 125.1 360.4 125.4 359.7 125.7 360.0 126.0 360.3 126.3 360.3 126.6 360.1 126.9 360.4 127.2 359.7 127.5 359.7 127.8 360.2 128.1 359.8 128.4 359.8 128.7 360.1 129.0 360.0 129.3 359.3 129.6 359.6 129.9 359.0 130.2 359.4 130.4 359.5 130.7 358.8 131.0 359.7 131.3 359.8 131.6 359.3 131.9 359.3 132.2 359.4 132.5 358.9 132.8 359.2 133.1 358.9 133.4 358.3 133.7 358.4 134.0 358.5 134.3 358.9 134.6 358.5 134.9 358.7 135.2 358.2 135.5 357.9 135.7 358.9 136.0 359.0 136.3 358.3 136.6 358.0 136.9 358.4 137.2 357.6 137.5 357.8 137.8 357.4 138.1 357.9 138.4 357.8 138.7 357.5 139.0 357.4 139.3 357.1 139.6 357.2 139.9 357.8 140.2 357.3 140.5 357.7 140.8 357.0 141.1 357.2 141.3 357.0 141.6 357.0 141.9 357.3 142.2 356.3 142.5 357.1 142.8 357.1 143.1 356.8 143.4 356.8 143.7 356.6 144.0 356.8 144.3 356.6 144.6 356.3 144.9 356.5 145.2 356.7 145.5 356.4 145.8 356.3 146.1 356.3 146.4 356.0 146.7 356.0 146.9 355.4 147.2 355.9 147.5 356.1 147.8 355.6 148.0 355.3 148.3 355.7 148.5 355.3 148.8 355.1 149.0 355.0 149.2 354.9 149.5 354.5 149.7 354.1 149.9 354.7 150.2 354.0 150.4 353.5 150.6 353.6 150.9 353.8 151.1 352.8 151.4 353.6 151.6 353.0 151.9 353.7 152.2 353.2 152.5 353.0 152.7 353.4 153.0 353.5 153.3 353.0 153.6 353.3 153.9 353.1 154.2 353.6 154.5 353.0 154.8 353.4 155.1 352.9 155.4 353.8 155.7 352.9 156.0 353.4 156.3 353.8 156.6 353.6 156.8 353.6 157.1 353.4 157.4 353.4 157.7 353.0 158.0 353.5 158.2 353.5 158.5 353.4 158.8 353.0 159.0 353.3 159.3 352.9 159.6 352.9 159.8 352.6 160.1 352.3 160.4 352.0 160.6 351.2 160.9 352.1 161.2 351.8 161.4 352.3 161.7 350.9 162.0 351.6 162.2 350.9 162.5 351.1 162.8 350.7 163.1 350.9 163.3 350.7 163.6 350.8 163.9 350.5 164.1 350.4 164.4 350.6 164.6 350.2 164.9 349.8 165.2 350.1 165.4 349.5 165.7 349.5 166.0 349.2 166.2 348.9 166.5 348.0 166.7 349.0 167.0 348.3 167.2 348.7 167.5 348.9 167.8 347.7 168.0 348.3 168.3 347.8 168.5 347.9 168.8 347.2 169.0 347.4 169.3 347.3 169.6 347.6 169.8 347.6 170.1 346.9 170.3 346.5 170.6 347.2 170.9 346.3 171.1 346.2 171.4 346.1 171.6 346.0 171.9 346.0 172.2 345.5 172.5 345.5 172.7 346.1 173.0 346.0 173.3 345.5 173.6 345.5 173.9 345.3 174.2 345.7 174.5 345.2 174.8 345.4 175.1 345.2 175.4 345.1 175.7 345.3 176.0 345.3 176.3 345.1 176.6 345.3 176.9 345.3 177.2 345.1 177.5 345.1 177.8 345.2 178.1 345.5 178.4 345.6 178.7 345.3 179.0 345.2 179.3 345.2 179.6 345.9 179.9 345.5 180.2 344.9 180.5 345.2 180.8 345.0 181.1 345.1 181.4 344.6 181.7 345.2 182.0 344.7 182.3 345.0 182.6 345.6 182.9 345.4 183.2 344.8 183.5 344.7 183.8 344.7 184.1 344.4 184.4 344.7 184.7 344.9 185.0 344.6 185.3 345.2 185.6 344.9 185.9 344.7 186.2 345.4 186.5 345.1 186.8 344.8 187.1 345.4 187.4 345.2 187.7 344.5 188.0 344.8 188.3 344.5 188.6 344.2 188.9 345.3 189.2 345.2 189.5 344.3 189.8 344.9 190.1 344.2 190.4 345.2 190.7 344.9 191.0 344.9 191.3 345.4 191.6 345.1 191.9 345.1 192.2 345.5 192.4 345.2 192.7 345.6 193.0 345.4 193.3 345.7 193.6 345.7 193.9 345.8 194.2 345.3 194.5 346.3 194.8 345.7 195.1 346.4 195.4 345.7 195.7 345.9 196.0 345.9 196.3 346.5 196.6 346.0 196.8 346.4 197.1 345.8 197.4 346.3 197.7 346.6 198.0 346.6 198.3 346.1 198.5 347.0 198.8 346.7 199.1 347.7 199.4 347.1 199.7 348.0 199.9 347.6 200.2 347.7 200.5 347.5 200.8 347.7 201.1 348.0 201.3 347.3 201.6 348.4 201.9 347.8 202.2 348.2 202.4 347.5 202.7 348.7 203.0 348.9 203.3 348.8 203.6 349.0 203.8 348.8 204.1 349.1 204.4 349.6 204.7 349.2 204.9 349.6 205.2 349.8 205.5 349.6 205.8 349.9 206.0 350.0 206.3 349.9 206.6 351.0 206.8 350.2 207.1 351.1 207.4 351.0 207.6 350.1 207.9 351.0 208.2 351.4 208.4 351.4 208.7 351.0 209.0 351.5 209.3 351.2 209.5 351.4 209.8 351.8 210.1 352.0 210.3 352.6 210.6 352.4 210.9 352.7 211.1 352.1 211.4 352.3 211.7 352.6 211.9 353.5 212.2 352.6 212.5 352.7 212.8 353.3 213.0 353.8 213.3 353.1 213.6 353.7 213.8 353.5 214.1 354.5 214.3 354.4 214.6 354.4 214.9 354.5 215.1 354.6 215.4 354.8 215.6 354.7 215.9 354.8 216.2 354.9 216.4 355.4 216.7 355.3 216.9 356.0 217.2 355.2 217.5 356.2 217.7 356.3 218.0 356.7 218.2 356.4 218.5 356.1 218.8 356.5 219.0 357.3 219.3 357.0 219.5 357.1 219.8 357.2 220.1 357.5 220.3 357.6 220.6 357.3 220.8 357.8 221.1 358.4 221.3 358.7 221.6 358.4 221.9 358.4 222.1 359.1 222.4 358.8 222.6 358.7 222.9 359.2 223.1 359.6 223.4 360.0 223.6 359.6 223.9 360.0 224.1 360.0 224.4 360.6 224.6 360.5 224.8 360.7 225.1 360.5 225.3 360.9 225.6 361.0 225.8 360.3 226.1 361.7 226.3 361.7 226.5 361.8 226.8 361.9 227.0 362.2 227.3 362.5 227.5 362.2 227.7 362.8 228.0 363.0 228.2 363.1 228.5 362.9 228.7 363.4 229.0 363.3 229.2 363.9 229.4 364.4 229.7 364.4 229.9 364.3 230.2 364.4 230.4 364.6 230.6 365.0 230.9 364.9 231.1 365.1 231.4 364.7 231.6 365.4 231.8 365.6 232.1 365.8 232.3 366.5 232.6 365.9 232.8 366.1 233.1 366.8 233.3 366.6 233.6 366.9 233.8 367.2 234.1 367.3 234.3 367.3 234.6 367.9 234.8 368.2 235.1 367.7 235.3 368.1 235.6 368.6 235.8 368.4 236.1 368.4 236.3 368.7 236.6 369.2 236.8 368.9 237.1 369.4 237.3 369.6 237.6 369.5 237.8 370.0 238.1 370.2 238.3 370.5 238.6 370.6 238.8 370.1 239.1 370.9 239.3 371.0 239.6 371.3 239.8 371.0 240.1 371.6 240.3 371.6 240.6 371.4 240.8 372.2 241.1 371.8 241.3 371.9 241.5 372.5 241.8 372.4 242.0 372.8 242.3 372.8 242.5 373.1 242.8 373.5 243.0 373.4 243.3 373.8 243.5 374.0 243.8 373.7 244.0 374.3 244.2 374.5 244.5 374.5 244.7 374.9 245.0 375.2 245.2 375.2 245.5 374.8 245.7 375.5 245.9 375.5 246.2 375.6 246.4 376.0 246.7 376.0 246.9 376.6 247.2 376.5 247.4 376.6 247.7 376.9 247.9 377.1 248.1 377.4 248.4 377.4 248.6 377.4 248.9 377.7 249.1 377.3 249.3 377.6 249.5 378.3 249.7 378.1 249.8 378.7" fill="none" stroke="#0000ff" stroke-width="2.4" stroke-linejoin="round" clip-path="url(#cC)"/>
<path d="M37.8 385.7 38.0 385.1 38.2 385.4 38.4 385.9 38.7 385.1 39.0 385.4 39.3 385.2 39.6 385.2 39.9 385.1 40.2 385.2 40.5 385.3 40.8 384.9 41.1 385.2 41.4 384.9 41.7 385.2 42.0 385.1 42.3 384.8 42.6 385.0 42.9 384.8 43.2 384.7 43.5 385.2 43.8 384.4 44.1 385.0 44.4 385.0 44.7 384.6 45.0 385.0 45.3 385.0 45.6 384.4 45.9 384.8 46.2 384.8 46.5 384.4 46.8 384.8 47.1 384.8 47.4 384.4 47.7 384.0 48.0 384.6 48.3 384.3 48.6 384.0 48.9 384.3 49.2 383.7 49.5 384.3 49.8 384.8 50.1 383.5 50.4 384.4 50.7 384.0 51.0 384.1 51.3 383.9 51.6 384.4 51.9 384.2 52.2 383.9 52.5 383.7 52.8 384.0 53.1 384.5 53.4 383.6 53.7 384.2 54.0 384.1 54.3 383.3 54.6 384.3 54.9 383.9 55.2 384.7 55.5 384.5 55.8 383.7 56.1 383.7 56.4 383.4 56.7 383.2 57.0 383.9 57.3 383.5 57.6 383.4 57.9 383.4 58.2 383.7 58.4 383.7 58.7 383.3 59.0 383.2 59.3 383.3 59.6 384.0 59.9 382.3 60.2 382.6 60.5 383.2 60.8 383.0 61.1 383.4 61.4 383.4 61.7 383.6 62.0 382.4 62.3 382.9 62.6 382.5 62.9 383.0 63.2 382.6 63.5 382.8 63.8 382.1 64.1 382.4 64.4 382.1 64.7 382.1 65.0 382.0 65.2 381.7 65.5 382.5 65.8 382.1 66.1 382.4 66.4 381.4 66.7 380.9 67.0 381.3 67.2 381.4 67.5 381.7 67.8 381.7 68.1 381.7 68.3 381.7 68.6 381.2 68.9 380.8 69.2 380.3 69.4 380.8 69.7 380.2 70.0 379.9 70.3 380.4 70.5 380.1 70.8 380.3 71.1 379.5 71.4 380.2 71.6 379.7 71.9 379.4 72.2 379.0 72.5 378.7 72.8 378.5 73.1 379.7 73.3 378.3 73.6 379.2 73.9 378.6 74.2 378.4 74.5 378.3 74.8 378.4 75.0 378.8 75.3 378.6 75.6 378.2 75.9 377.4 76.2 377.1 76.5 378.8 76.8 377.3 77.0 376.9 77.3 378.2 77.6 376.8 77.9 377.9 78.1 378.0 78.3 377.7 78.6 378.2 78.8 377.1 79.0 377.4 79.1 378.1 79.3 378.4 79.5 378.7 79.6 379.2 79.8 378.8 80.0 378.3 80.1 379.8 80.3 379.7 80.6 380.4 80.8 381.1 81.0 380.1 81.3 380.4 81.6 379.7 81.9 380.6 82.2 380.2 82.5 380.1 82.8 380.4 83.1 379.3 83.4 380.1 83.6 380.0 83.9 380.6 84.2 378.7 84.5 379.6 84.8 380.8 85.1 379.3 85.4 379.3 85.7 380.4 86.0 380.8 86.3 379.4 86.6 378.9 86.9 378.9 87.2 379.0 87.5 378.7 87.8 378.6 88.1 379.1 88.4 379.0 88.7 379.2 89.0 378.9 89.3 378.1 89.6 379.2 89.9 378.8 90.2 378.3 90.5 378.4 90.8 378.7 91.0 378.5 91.3 378.3 91.6 378.8 91.9 378.9 92.2 378.1 92.5 378.2 92.8 377.5 93.1 378.0 93.4 378.3 93.7 378.5 94.0 378.1 94.3 377.9 94.6 377.4 94.9 378.0 95.2 377.1 95.5 377.8 95.8 377.7 96.1 377.1 96.4 377.8 96.7 377.4 97.0 377.9 97.3 377.2 97.6 377.7 97.9 378.4 98.2 377.5 98.5 377.8 98.8 376.9 99.1 377.0 99.4 376.0 99.7 377.1 100.0 376.4 100.3 377.1 100.6 375.7 100.9 376.4 101.2 377.0 101.5 377.2 101.8 375.8 102.1 376.5 102.4 378.4 102.6 377.2 102.9 376.8 103.2 374.9 103.5 376.0 103.8 376.9 104.1 376.7 104.4 376.8 104.7 377.1 105.0 376.4 105.3 376.9 105.6 375.1 105.9 377.9 106.2 376.0 106.5 375.7 106.8 377.1 107.1 376.5 107.4 376.7 107.7 375.6 108.0 376.1 108.3 376.3 108.6 375.1 108.9 375.6 109.2 375.6 109.5 375.5 109.8 375.2 110.1 374.7 110.4 375.8 110.7 375.7 111.0 376.2 111.3 375.4 111.6 374.9 111.9 374.3 112.2 375.3 112.5 375.0 112.8 376.6 113.1 376.7 113.4 376.2 113.6 374.4 113.9 374.0 114.2 374.8 114.5 374.3 114.8 375.8 115.1 374.9 115.4 374.5 115.7 374.7 116.0 375.5 116.3 374.0 116.6 374.9 116.9 373.6 117.2 374.3 117.5 374.0 117.8 374.6 118.1 374.5 118.4 375.1 118.7 374.7 119.0 373.8 119.3 373.2 119.6 373.5 119.9 373.7 120.2 373.8 120.5 373.4 120.8 374.6 121.1 374.5 121.3 373.5 121.6 373.3 121.9 373.4 122.2 373.5 122.5 373.4 122.8 372.2 123.1 372.9 123.4 371.8 123.7 373.1 124.0 373.5 124.3 372.2 124.5 373.0 124.8 372.3 125.1 372.2 125.4 374.1 125.7 373.2 126.0 372.8 126.3 372.1 126.6 372.6 126.9 372.1 127.2 372.5 127.4 371.4 127.7 371.9 128.0 371.6 128.3 370.8 128.6 373.0 128.9 372.3 129.2 371.1 129.5 370.5 129.8 371.0 130.1 370.9 130.4 371.0 130.7 370.3 131.0 370.7 131.3 371.4 131.6 371.6 131.9 369.7 132.2 371.2 132.5 370.4 132.8 370.3 133.1 370.9 133.4 370.5 133.7 371.6 134.0 371.5 134.3 370.7 134.6 370.4 134.9 372.3 135.2 372.3 135.5 371.1 135.8 370.6 136.1 371.5 136.3 371.8 136.6 370.2 136.9 372.0 137.2 370.4 137.5 371.4 137.8 370.1 138.1 370.5 138.4 370.0 138.7 370.4 139.0 371.1 139.3 369.5 139.6 369.9 139.9 370.5 140.2 369.7 140.5 371.6 140.8 368.8 141.1 371.9 141.4 369.3 141.7 370.5 142.0 371.0 142.3 370.1 142.6 368.4 142.9 369.2 143.2 369.5 143.4 369.8 143.7 370.1 144.0 370.2 144.3 370.4 144.6 368.4 144.9 369.9 145.2 367.6 145.5 369.1 145.8 368.0 146.1 367.4 146.4 369.5 146.7 368.7 147.0 369.5 147.3 367.3 147.6 367.5 147.9 368.4 148.2 367.9 148.5 368.4 148.8 367.8 149.1 368.0 149.3 367.3 149.6 369.3 149.9 367.9 150.2 367.1 150.5 368.6 150.8 368.4 151.1 368.1 151.4 368.1 151.7 367.5 152.0 367.7 152.3 365.9 152.6 366.4 152.9 366.6 153.2 367.9 153.5 368.6 153.8 367.4 154.1 367.2 154.4 368.4 154.7 367.1 155.0 367.9 155.3 367.6 155.6 366.1 155.9 367.4 156.2 367.3 156.5 366.1 156.8 366.1 157.1 365.8 157.3 368.0 157.6 368.6 157.9 367.3 158.2 367.9 158.5 365.3 158.8 367.6 159.1 368.0 159.3 367.6 159.6 365.3 159.9 366.9 160.2 365.8 160.5 366.7 160.8 365.2 161.1 365.6 161.3 365.1 161.6 365.9 161.9 365.3 162.2 366.2 162.5 365.9 162.8 365.4 163.1 364.9 163.3 364.6 163.6 364.8 163.9 365.3 164.2 364.7 164.5 364.7 164.8 364.4 165.0 364.2 165.3 363.6 165.6 362.5 165.9 364.5 166.2 364.4 166.5 363.0 166.8 365.4 167.1 362.7 167.4 364.5 167.6 363.8 167.9 363.7 168.2 364.4 168.5 364.1 168.8 363.3 169.1 362.3 169.4 362.1 169.7 363.2 170.0 364.3 170.3 363.7 170.6 362.8 170.9 363.0 171.1 363.3 171.4 364.1 171.7 361.9 172.0 363.1 172.3 362.6 172.6 361.7 172.9 361.4 173.2 363.3 173.5 362.4 173.8 361.8 174.1 362.0 174.4 362.7 174.7 361.9 174.9 363.2 175.2 361.5 175.5 361.0 175.8 361.6 176.1 360.8 176.4 361.3 176.7 362.7 177.0 363.1 177.3 362.2 177.6 361.8 177.9 360.8 178.2 360.7 178.5 361.9 178.8 361.8 179.1 361.1 179.4 361.2 179.7 363.0 180.0 362.5 180.3 361.7 180.6 361.8 180.9 362.7 181.2 361.9 181.5 361.8 181.8 360.2 182.1 360.1 182.4 359.9 182.7 359.6 183.0 361.6 183.3 361.9 183.6 360.8 184.0 362.0 184.3 362.0 184.6 361.5 184.9 360.3 185.2 362.9 185.5 362.8 185.8 361.1 186.1 363.3 186.4 361.6 186.7 360.9 187.0 361.2 187.3 360.0 187.6 361.3 187.9 360.2 188.2 362.6 188.5 361.9 188.8 360.4 189.1 362.2 189.4 360.1 189.7 361.8 190.0 362.2 190.3 361.8 190.5 360.8 190.8 361.8 191.1 361.8 191.4 362.0 191.7 363.4 192.0 363.6 192.3 363.5 192.6 361.6 192.9 361.6 193.2 362.3 193.5 362.7 193.8 360.6 194.1 361.9 194.4 364.1 194.7 361.5 195.0 362.0 195.3 362.1 195.6 363.2 195.9 362.8 196.1 362.6 196.4 361.7 196.7 363.6 197.0 363.2 197.3 362.6 197.6 363.3 197.9 364.1 198.2 362.1 198.5 362.1 198.8 362.7 199.1 362.9 199.4 361.0 199.6 363.3 199.9 364.9 200.2 363.7 200.5 365.0 200.8 361.6 201.1 364.1 201.4 365.6 201.7 365.8 202.0 364.0 202.2 363.8 202.5 365.0 202.8 363.7 203.1 364.5 203.4 363.4 203.7 365.1 204.0 365.1 204.3 366.6 204.6 365.6 204.8 364.8 205.1 365.4 205.4 364.4 205.7 365.6 206.0 365.5 206.3 366.2 206.6 366.7 206.9 364.2 207.1 366.3 207.4 366.8 207.7 365.2 208.0 368.0 208.3 365.8 208.6 368.7 208.8 367.4 209.1 367.7 209.4 367.2 209.7 367.9 209.9 366.2 210.2 366.6 210.5 365.7 210.8 368.0 211.0 367.0 211.3 368.4 211.6 368.4 211.9 366.8 212.1 368.7 212.4 368.4 212.7 368.5 213.0 368.9 213.3 368.5 213.5 368.7 213.8 369.7 214.1 368.0 214.4 368.0 214.6 368.5 214.9 370.2 215.2 369.1 215.5 371.2 215.7 366.9 216.0 369.1 216.3 369.5 216.6 370.2 216.9 371.3 217.1 370.1 217.4 369.5 217.7 371.2 218.0 371.9 218.2 368.5 218.5 371.3 218.8 371.2 219.1 370.3 219.3 370.8 219.6 371.5 219.9 371.4 220.2 371.3 220.4 370.6 220.7 372.0 221.0 371.3 221.3 372.1 221.5 371.6 221.8 372.4 222.1 373.0 222.4 372.7 222.7 373.2 222.9 371.5 223.2 373.2 223.5 373.2 223.8 372.5 224.0 373.1 224.3 370.9 224.6 373.5 224.9 373.2 225.1 371.7 225.4 374.2 225.7 373.4 226.0 374.3 226.2 374.0 226.5 374.7 226.8 374.5 227.1 374.3 227.3 375.1 227.6 375.5 227.9 373.0 228.2 375.0 228.4 374.6 228.7 374.3 229.0 376.4 229.3 376.3 229.6 374.7 229.8 374.7 230.1 376.4 230.4 375.3 230.7 375.7 231.0 374.4 231.3 376.0 231.6 377.1 231.9 375.9 232.1 376.3 232.4 377.9 232.7 377.3 233.0 377.8 233.3 377.3 233.6 377.8 233.9 375.5 234.2 376.3 234.4 375.7 234.7 379.0 235.0 377.4 235.3 377.2 235.6 376.8 235.9 376.7 236.2 375.3 236.5 379.6 236.7 377.7 237.0 377.9 237.3 376.8 237.6 378.0 237.9 378.5 238.2 378.2 238.5 378.8 238.8 377.7 239.0 378.8 239.3 379.3 239.6 379.1 239.9 379.1 240.2 378.8 240.5 378.1 240.8 379.5 241.0 378.8 241.3 378.4 241.6 379.9 241.9 378.1 242.2 379.1 242.5 380.2 242.8 380.5 243.0 379.5 243.3 380.0 243.6 380.5 243.9 380.1 244.2 379.6 244.4 380.7 244.7 380.6 245.0 380.6 245.3 381.5 245.6 381.0 245.9 380.5 246.1 381.1 246.4 382.6 246.7 380.6 247.0 381.0 247.3 380.7 247.6 381.8 247.8 380.5 248.1 382.0 248.4 382.4 248.7 381.3 249.0 381.3 249.2 380.9 249.4 382.2 249.6 381.3 249.8 381.8" fill="none" stroke="#00ffff" stroke-width="3.4" stroke-linejoin="round" clip-path="url(#cC)"/>
<path d="M304.9 381.1 305.1 380.9 305.2 381.2 305.4 381.3 305.7 380.3 306.0 380.5 306.2 380.6 306.5 380.1 306.8 380.1 307.0 380.2 307.3 380.4 307.6 380.2 307.9 379.7 308.1 379.7 308.4 379.4 308.7 379.3 308.9 378.9 309.2 378.7 309.5 378.9 309.8 379.1 310.0 378.9 310.3 378.1 310.6 378.4 310.8 378.2 311.1 378.3 311.4 377.8 311.7 378.2 311.9 377.8 312.2 377.9 312.5 377.8 312.7 376.9 313.0 377.3 313.3 377.6 313.6 377.1 313.8 377.2 314.1 376.9 314.4 376.5 314.6 376.6 314.9 376.7 315.2 376.7 315.5 376.6 315.7 375.7 316.0 376.2 316.3 375.4 316.5 375.6 316.8 375.5 317.1 375.6 317.4 375.4 317.6 375.5 317.9 374.8 318.2 375.1 318.4 374.9 318.7 374.6 319.0 374.2 319.3 374.5 319.5 374.3 319.8 374.3 320.1 374.0 320.3 373.8 320.6 373.8 320.9 373.7 321.1 373.6 321.4 373.9 321.7 373.0 322.0 373.6 322.2 372.0 322.5 373.1 322.8 372.4 323.0 373.1 323.3 372.1 323.6 372.6 323.8 371.8 324.1 371.6 324.4 372.1 324.6 372.0 324.9 371.4 325.2 372.2 325.4 371.2 325.7 371.7 326.0 370.7 326.3 370.6 326.5 370.8 326.8 370.3 327.1 370.7 327.3 369.7 327.6 370.3 327.9 369.9 328.1 369.6 328.4 369.9 328.6 369.6 328.9 369.3 329.1 369.6 329.4 369.2 329.6 369.1 329.9 369.2 330.1 368.6 330.3 368.7 330.6 368.1 330.8 368.3 331.1 368.0 331.3 367.5 331.5 367.0 331.8 366.9 332.0 366.8 332.3 367.2 332.5 366.7 332.7 366.5 333.0 366.6 333.2 366.5 333.5 366.5 333.7 365.7 333.9 365.9 334.2 365.8 334.4 365.0 334.7 365.2 334.9 364.7 335.1 364.7 335.4 364.8 335.6 363.8 335.8 363.9 336.0 363.7 336.2 363.8 336.4 363.3 336.6 363.5 336.7 362.8 336.9 362.6 337.1 362.8 337.2 362.4 337.4 362.1 337.5 361.8 337.7 361.9 337.9 361.8 338.1 361.0 338.3 360.6 338.5 360.3 338.7 361.1 338.9 360.0 339.2 359.7 339.5 360.1 339.7 360.3 340.0 359.3 340.2 359.6 340.5 358.9 340.8 359.0 341.0 359.7 341.3 359.0 341.5 358.7 341.7 358.7 342.0 358.6 342.2 358.2 342.5 357.6 342.7 357.5 342.9 358.5 343.2 357.2 343.4 357.8 343.7 356.9 343.9 357.5 344.1 357.1 344.3 356.5 344.5 357.2 344.7 355.8 344.9 355.9 345.1 355.4 345.3 355.2 345.4 355.1 345.6 354.6 345.8 354.6 345.9 355.1 346.1 353.5 346.2 353.5 346.4 353.4 346.6 353.5 346.8 354.0 347.0 353.8 347.2 353.7 347.5 353.6 347.7 354.6 348.0 353.3 348.2 353.3 348.5 353.8 348.7 353.9 348.9 353.6 349.1 353.3 349.4 353.0 349.6 353.2 349.8 352.8 350.0 352.7 350.2 352.2 350.4 353.0 350.6 352.4 350.8 352.7 351.0 351.6 351.2 351.6 351.4 351.2 351.6 351.1 351.8 350.8 352.0 350.6 352.2 349.6 352.4 350.0 352.6 350.2 352.7 348.9 352.9 349.3 353.1 349.4 353.3 349.5 353.5 348.7 353.7 348.7 353.8 349.0 354.0 348.6 354.2 347.6 354.4 347.3 354.6 347.7 354.7 347.1 354.9 346.6 355.1 346.5 355.2 346.4 355.3 345.9 355.4 345.7 355.5 345.4 355.6 344.6 355.7 345.7 355.8 345.1 355.8 345.0 355.9 344.0 356.0 343.8 356.1 343.7 356.1 343.5 356.2 342.1 356.3 342.7 356.3 341.8 356.4 342.0 356.5 341.4 356.5 342.2 356.6 341.4 356.7 340.8 356.8 341.2 356.8 340.2 356.9 339.6 357.0 339.6 357.0 339.2 357.1 339.1 357.2 339.2 357.2 338.4 357.3 338.2 357.4 338.4 357.4 337.7 357.5 337.8 357.6 337.1 357.7 336.1 357.7 335.9 357.8 335.4 357.9 336.4 357.9 335.8 358.0 335.1 358.1 334.5 358.1 334.9 358.2 334.3 358.3 334.3 358.4 333.4 358.4 333.0 358.5 334.0 358.6 332.5 358.7 332.7 358.8 333.0 358.9 331.2 359.0 332.1 359.1 331.6 359.2 331.2 359.2 331.1 359.3 330.1 359.4 329.3 359.5 331.0 359.6 329.7 359.7 330.0 359.8 329.8 359.9 329.1 360.0 328.9 360.1 328.9 360.3 329.2 360.4 328.6 360.6 328.9 360.8 328.2 361.0 328.2 361.2 328.6 361.4 328.9 361.7 329.2 361.9 330.1 362.1 329.7 362.4 329.5 362.6 330.6 362.9 329.9 363.1 330.0 363.4 330.2 363.7 329.8 363.9 329.4 364.2 330.0 364.5 329.7 364.7 329.3 365.0 329.6 365.2 329.3 365.4 328.9 365.7 328.1 365.9 328.7 366.1 329.4 366.3 328.8 366.5 328.7 366.7 327.9 366.9 328.2 367.1 327.1 367.3 327.0 367.5 327.3 367.7 326.1 367.9 326.6 368.1 326.5 368.3 326.9 368.5 325.5 368.6 325.8 368.8 325.1 369.0 324.9 369.2 323.6 369.4 324.2 369.6 325.1 369.8 324.5 370.0 324.1 370.2 325.1 370.4 323.9 370.6 322.7 370.8 323.0 371.0 322.9 371.3 323.6 371.5 322.1 371.7 322.6 371.9 322.6 372.2 321.5 372.4 321.8 372.6 320.5 372.8 321.4 373.1 320.0 373.3 320.8 373.5 321.7 373.8 320.8 374.0 320.4 374.2 320.3 374.4 321.1 374.7 320.1 374.9 320.2 375.1 319.2 375.3 319.0 375.6 318.5 375.8 318.7 376.0 318.3 376.3 319.0 376.5 318.6 376.7 318.0 376.9 317.5 377.1 316.1 377.4 317.1 377.6 317.4 377.8 317.4 378.0 315.1 378.2 315.3 378.4 316.4 378.6 315.6 378.8 315.8 379.1 315.5 379.3 315.8 379.5 314.3 379.7 314.8 379.9 315.4 380.1 314.8 380.3 314.0 380.5 314.5 380.7 314.2 381.0 313.3 381.2 314.0 381.4 313.7 381.6 313.1 381.8 313.5 382.0 312.1 382.2 312.9 382.4 312.2 382.6 311.6 382.9 311.5 383.1 312.3 383.3 311.2 383.5 311.1 383.8 310.7 384.0 310.5 384.3 311.3 384.5 311.8 384.7 311.1 385.0 310.5 385.2 310.5 385.5 309.7 385.7 309.4 385.9 308.8 386.2 310.1 386.4 308.9 386.7 308.5 386.9 308.4 387.2 308.7 387.4 308.1 387.6 308.3 387.9 308.2 388.1 308.6 388.4 307.0 388.6 307.7 388.8 307.0 389.1 306.9 389.3 308.0 389.6 307.2 389.9 306.5 390.1 306.8 390.4 306.4 390.6 306.9 390.9 305.8 391.2 306.3 391.4 305.7 391.7 305.7 392.0 305.5 392.2 305.0 392.5 305.3 392.7 305.7 393.0 304.6 393.3 304.6 393.5 304.9 393.8 304.1 394.1 304.9 394.3 304.7 394.6 302.8 394.8 303.6 395.1 303.2 395.4 304.1 395.6 304.0 395.9 302.6 396.1 302.8 396.4 302.9 396.6 302.6 396.9 303.1 397.1 303.1 397.4 302.7 397.6 302.8 397.8 302.5 398.1 301.7 398.3 301.4 398.6 301.0 398.8 301.8 399.1 301.6 399.3 301.5 399.6 300.5 399.8 300.3 400.0 300.6 400.3 301.0 400.5 300.3 400.8 300.0 401.0 299.2 401.3 299.8 401.5 299.7 401.8 298.6 402.0 300.1 402.3 298.3 402.5 299.2 402.8 298.4 403.0 298.4 403.2 297.7 403.5 297.7 403.7 298.2 404.0 297.5 404.2 297.3 404.5 297.9 404.7 297.6 405.0 297.1 405.2 296.9 405.5 297.7 405.7 296.4 406.0 296.5 406.2 296.4 406.5 295.1 406.7 294.6 407.0 295.7 407.2 296.0 407.4 295.4 407.7 294.8 407.9 294.5 408.2 295.3 408.4 294.4 408.7 293.4 408.9 294.7 409.2 294.2 409.4 294.2 409.7 294.4 410.0 294.4 410.2 293.8 410.5 293.2 410.7 291.8 411.0 293.1 411.2 292.7 411.5 293.4 411.7 293.2 411.9 292.6 412.2 292.9 412.4 291.8 412.6 291.6 412.8 290.9 413.0 291.0 413.1 291.1 413.3 291.4 413.5 290.0 413.7 290.7 413.9 291.5 414.0 288.9 414.2 289.3 414.4 289.3 414.6 289.7 414.7 290.0 414.9 289.3 415.1 288.3 415.2 287.5 415.4 287.7 415.5 287.5 415.6 287.4 415.7 286.4 415.8 287.7 415.9 285.9 416.0 286.5 416.1 286.0 416.2 284.8 416.3 285.3 416.4 285.0 416.5 284.6 416.6 284.9 416.7 283.8 416.8 285.5 416.9 284.3 416.9 282.6 417.0 281.3 417.1 283.5 417.2 282.5 417.3 282.1 417.4 281.2 417.4 280.6 417.5 280.0 417.6 282.6 417.7 281.7 417.7 280.0 417.8 281.3 417.9 278.5 418.0 280.0 418.1 279.7 418.1 278.3 418.2 278.3 418.3 277.6 418.4 278.1 418.5 278.6 418.5 278.1 418.6 277.4 418.7 277.6 418.8 275.4 418.8 277.7 418.9 276.0 419.0 274.8 419.1 275.2 419.2 274.9 419.3 275.3 419.5 275.4 419.6 273.6 419.8 276.1 420.0 276.5 420.2 274.8 420.4 276.7 420.6 276.8 420.8 276.8 421.0 277.5 421.2 275.6 421.4 277.3 421.6 276.3 421.8 278.8 422.1 276.8 422.3 276.8 422.5 278.6 422.7 278.4 422.9 278.0 423.1 278.1 423.4 278.5 423.6 279.2 423.8 277.4 424.0 277.4 424.3 277.2 424.5 277.3 424.8 277.2 425.0 276.1 425.2 277.0 425.5 275.8 425.7 276.2 425.9 276.1 426.2 275.9 426.4 276.9 426.6 276.8 426.8 276.2 427.0 276.3 427.1 274.8 427.3 275.7 427.5 274.4 427.6 274.4 427.7 274.1 427.9 272.7 428.0 273.0 428.1 273.0 428.3 273.1 428.4 272.5 428.5 271.7 428.7 271.2 428.8 271.8 428.9 270.7 429.1 270.4 429.2 270.9 429.3 270.8 429.5 269.8 429.6 268.9 429.7 270.1 429.8 270.2 430.0 269.1 430.1 268.8 430.2 267.2 430.4 269.2 430.5 267.5 430.7 268.5 430.8 267.3 430.9 267.4 431.1 267.1 431.2 265.7 431.4 268.7 431.5 265.3 431.7 266.3 431.8 265.3 432.0 265.5 432.1 266.4 432.3 263.8 432.4 264.8 432.6 265.0 432.7 264.5 432.9 264.4 433.1 263.3 433.2 262.4 433.4 262.4 433.5 262.8 433.6 263.4 433.8 262.6 433.9 263.5 434.1 262.1 434.2 261.9 434.4 261.6 434.5 259.9 434.6 261.4 434.8 259.9 434.9 260.1 435.0 261.9 435.2 259.0 435.3 259.7 435.4 259.6 435.5 259.2 435.7 258.8 435.8 258.1 435.9 259.8 436.1 256.5 436.2 256.9 436.3 258.6 436.5 257.6 436.6 256.3 436.7 256.0 436.9 256.2 437.0 258.1 437.1 256.2 437.3 254.8 437.4 255.5 437.5 254.6 437.7 255.9 437.8 254.7 437.9 255.2 438.1 254.1 438.2 255.3 438.4 253.8 438.6 253.5 438.8 252.3 439.0 252.5 439.2 252.9 439.5 252.1 439.7 254.2 440.0 252.2 440.2 251.5 440.5 252.7 440.7 251.5 441.0 252.2 441.3 251.9 441.5 251.4 441.8 253.2 442.1 252.3 442.3 253.2 442.6 252.2 442.9 251.5 443.2 251.8 443.4 252.5 443.7 252.9 444.0 253.2 444.2 253.6 444.5 252.4 444.8 253.7 445.0 252.7 445.3 253.2 445.6 255.8 445.9 254.9 446.2 253.7 446.4 255.4 446.7 255.2 447.0 254.8 447.3 255.2 447.6 253.9 447.9 253.9 448.2 253.3 448.5 254.4 448.8 252.9 449.1 253.5 449.4 254.2 449.7 253.4 450.0 254.0 450.3 255.1 450.6 253.0 450.9 254.7 451.2 253.1 451.5 252.9 451.8 253.8 452.1 254.4 452.4 253.0 452.7 253.0 453.0 253.3 453.3 253.1 453.6 253.8 453.9 253.1 454.2 253.5 454.5 254.0 454.8 253.4 455.1 254.7 455.4 253.3 455.7 253.3 456.0 255.5 456.3 255.1 456.6 254.0 456.9 254.6 457.2 254.3 457.5 253.7 457.7 254.6 458.0 254.4 458.3 255.3 458.6 253.0 458.9 255.1 459.1 254.7 459.4 254.2 459.6 254.6 459.9 254.8 460.1 254.3 460.3 255.0 460.6 256.2 460.8 254.7 461.1 255.7 461.3 254.4 461.6 255.9 461.8 256.8 462.1 256.6 462.3 256.9 462.5 256.2 462.8 257.7 463.0 256.7 463.2 258.3 463.4 258.0 463.6 257.8 463.8 259.4 464.0 258.2 464.2 259.5 464.4 259.1 464.6 259.2 464.8 260.2 465.0 260.0 465.1 259.9 465.3 260.1 465.5 260.5 465.7 260.7 465.9 260.6 466.1 260.3 466.3 259.4 466.5 261.5 466.7 261.6 466.8 262.9 467.0 262.6 467.2 263.3 467.4 264.0 467.6 262.9 467.8 262.6 468.0 264.0 468.1 263.2 468.3 263.7 468.5 265.2 468.7 264.8 468.9 265.4 469.1 263.9 469.2 265.1 469.4 266.2 469.6 264.6 469.8 266.0 470.0 266.4 470.1 264.6 470.3 267.7 470.5 266.3 470.7 266.9 470.9 268.5 471.0 266.2 471.2 268.1 471.4 267.7 471.6 268.2 471.8 267.9 471.9 269.7 472.1 268.1 472.3 269.5 472.4 269.8 472.6 269.6 472.8 269.8 472.9 270.0 473.1 271.2 473.2 271.0 473.4 270.9 473.5 270.5 473.7 271.6 473.9 272.1 474.0 272.0 474.2 273.3 474.3 271.2 474.5 274.5 474.6 272.9 474.8 272.5 474.9 272.3 475.1 274.4 475.2 274.5 475.4 274.2 475.5 274.6 475.7 275.0 475.8 274.8 476.0 276.2 476.1 276.1 476.3 275.8 476.4 275.0 476.5 277.4 476.7 276.4 476.8 276.3 477.0 278.1 477.1 277.8 477.2 276.4 477.4 276.9 477.5 278.0 477.7 277.7 477.8 278.7 478.0 280.9 478.1 281.4 478.2 279.6 478.4 280.4 478.5 280.8 478.7 280.3 478.8 279.7 478.9 281.7 479.1 281.1 479.2 281.8 479.4 282.2 479.5 281.5 479.7 283.4 479.8 282.6 479.9 282.9 480.1 282.8 480.2 283.8 480.3 284.3 480.5 283.5 480.6 284.5 480.7 284.1 480.9 283.9 481.0 284.7 481.1 285.6 481.3 285.8 481.4 286.5 481.5 285.6 481.7 286.1 481.8 286.6 481.9 287.2 482.1 287.0 482.2 286.7 482.3 286.6 482.5 288.7 482.6 288.9 482.7 288.0 482.9 289.7 483.0 288.9 483.1 289.5 483.3 290.3 483.4 289.5 483.5 289.6 483.7 289.2 483.8 290.8 483.9 291.2 484.1 291.7 484.2 291.8 484.3 291.7 484.5 292.7 484.6 291.6 484.7 292.7 484.8 293.1 485.0 293.0 485.1 294.4 485.2 293.9 485.3 294.7 485.4 294.7 485.6 294.3 485.7 295.9 485.8 295.7 485.9 295.3 486.0 295.5 486.1 295.2 486.3 296.0 486.4 296.2 486.5 296.8 486.6 296.6 486.7 297.5 486.9 297.4 487.0 296.8 487.1 297.7 487.2 297.7 487.3 297.8 487.4 298.7 487.6 299.7 487.7 298.7 487.8 298.4 487.9 299.8 488.0 302.0 488.1 300.1 488.3 300.9 488.4 300.8 488.5 301.8 488.6 302.5 488.7 301.8 488.9 302.9 489.0 301.8 489.1 302.8 489.2 302.2 489.3 303.4 489.4 303.2 489.5 304.0 489.6 303.5 489.7 304.5 489.8 304.8 489.9 304.6 490.0 304.8 490.1 304.8 490.1 305.6 490.2 306.4 490.3 306.3 490.4 306.8 490.5 307.7 490.6 307.1 490.7 307.7 490.8 308.3 490.9 308.4 491.0 308.6 491.1 308.7 491.2 310.1 491.2 309.2 491.3 309.3 491.4 310.2 491.5 311.1 491.6 311.2 491.7 310.7 491.8 311.5 491.9 311.6 492.0 311.6 492.1 312.2 492.2 312.5 492.3 312.5 492.4 313.6 492.6 312.7 492.7 314.0 492.8 314.7 492.9 314.9 493.1 314.2 493.2 314.2 493.3 313.7 493.4 314.8 493.5 316.5 493.7 314.5 493.8 314.8 493.9 316.4 494.0 316.6 494.2 315.5 494.3 316.7 494.4 317.2 494.5 316.5 494.6 318.1 494.8 317.1 494.9 318.8 495.0 318.5 495.1 318.3 495.3 318.1 495.4 319.1 495.5 319.5 495.6 319.7 495.8 319.7 495.9 320.2 496.0 321.1 496.1 320.4 496.2 321.0 496.4 321.7 496.5 321.7 496.6 322.4 496.7 323.1 496.9 322.3 497.0 322.9 497.1 321.5 497.2 323.2 497.3 324.0 497.5 323.3 497.6 324.9 497.7 323.5 497.8 325.4 498.0 324.7 498.1 324.7 498.2 325.3 498.3 325.7 498.5 325.6 498.6 325.7 498.7 326.4 498.8 327.4 498.9 327.4 499.1 328.1 499.2 327.4 499.3 327.8 499.4 328.1 499.6 328.6 499.7 329.1 499.8 330.0 499.9 329.7 500.1 329.7 500.2 330.6 500.3 329.8 500.4 329.8 500.5 331.1 500.7 331.1 500.8 331.3 500.9 332.0 501.0 331.7 501.2 332.1 501.3 332.6 501.4 333.0 501.5 333.4 501.6 333.3 501.8 333.6 501.9 332.6 502.0 334.6 502.1 333.6 502.2 334.6 502.4 336.1 502.5 335.0 502.6 334.7 502.7 336.4 502.9 335.7 503.0 336.2 503.1 336.4 503.2 337.1 503.3 337.4 503.5 337.3 503.6 338.1 503.7 337.5 503.8 338.5 503.9 338.1 504.1 339.0 504.2 338.7 504.3 339.0 504.4 340.2 504.6 339.3 504.7 339.5 504.8 340.6 504.9 340.5 505.0 340.7 505.2 341.1 505.3 342.4 505.4 341.3 505.5 341.9 505.6 342.3 505.8 342.1 505.9 342.8 506.0 343.3 506.1 343.0 506.2 344.1 506.4 343.4 506.5 344.1 506.6 344.6 506.7 346.1 506.9 344.3 507.0 345.4 507.1 346.7 507.2 345.6 507.3 346.6 507.5 346.5 507.6 346.1 507.7 347.1 507.8 346.8 507.9 347.5 508.1 347.1 508.2 348.3 508.3 347.3 508.4 348.5 508.6 349.4 508.7 349.4 508.8 349.3 508.9 349.6 509.0 349.8 509.2 351.4 509.3 350.5 509.4 350.8 509.5 350.8 509.6 351.1 509.8 351.9 509.9 351.6 510.0 351.8 510.1 352.2 510.3 352.6 510.4 353.0 510.5 353.0 510.7 353.4 510.8 353.5 511.0 354.5 511.1 354.3 511.3 354.4 511.4 354.9 511.5 355.1 511.7 354.7 511.8 355.5 512.0 356.5 512.1 356.3 512.3 356.8 512.4 356.4 512.6 356.4 512.7 356.9 512.8 358.0 513.0 357.3 513.1 357.7 513.3 358.7 513.4 358.4 513.6 358.7 513.7 359.2 513.8 359.3 514.0 359.4 514.1 359.9 514.3 359.8 514.4 360.3 514.6 360.9 514.7 360.5 514.8 361.1 515.0 361.0 515.1 361.9 515.3 362.2 515.4 362.5 515.6 362.8 515.7 363.1 515.9 363.2 516.0 363.0 516.1 363.8 516.3 363.5 516.4 364.9 516.6 364.4 516.7 364.7 516.8 364.2 516.8 365.2" fill="none" stroke="#000000" stroke-width="2.5" stroke-linejoin="round" clip-path="url(#cD)"/>
<path d="M304.9 385.8 305.1 385.2 305.3 385.4 305.5 385.4 305.8 385.4 306.1 385.8 306.4 385.9 306.7 385.2 307.0 385.7 307.3 385.4 307.6 385.7 307.9 384.9 308.2 385.3 308.5 385.6 308.8 385.1 309.1 385.5 309.4 385.2 309.7 385.5 310.0 385.3 310.3 385.1 310.6 385.0 310.9 385.1 311.2 385.4 311.5 385.1 311.8 385.0 312.1 385.8 312.4 384.7 312.7 385.0 313.0 385.1 313.3 384.8 313.6 385.0 313.9 384.9 314.2 384.6 314.5 385.0 314.8 384.6 315.1 384.7 315.4 385.1 315.7 384.6 316.0 384.9 316.3 385.0 316.6 385.0 316.9 384.8 317.2 384.7 317.5 384.4 317.8 384.7 318.1 384.7 318.4 384.5 318.7 384.4 319.0 384.7 319.3 384.3 319.6 384.6 319.9 384.3 320.2 384.0 320.5 384.7 320.8 384.5 321.1 384.4 321.4 383.9 321.7 384.2 322.0 384.2 322.3 384.0 322.5 384.5 322.8 383.6 323.1 384.2 323.4 383.6 323.7 383.6 324.0 383.6 324.3 384.0 324.6 383.7 324.9 383.6 325.2 383.5 325.5 383.4 325.8 383.5 326.1 383.4 326.4 383.5 326.7 383.4 327.0 382.9 327.3 383.3 327.6 383.7 327.9 383.2 328.2 383.3 328.5 383.1 328.8 383.0 329.1 383.1 329.4 382.7 329.6 382.9 329.9 382.4 330.2 382.8 330.5 382.3 330.8 382.7 331.1 382.7 331.4 382.0 331.6 382.4 331.9 382.1 332.2 382.3 332.5 381.9 332.8 381.8 333.1 381.7 333.4 382.0 333.6 381.1 333.9 381.7 334.2 381.4 334.5 381.2 334.8 381.2 335.1 381.4 335.4 381.2 335.6 381.4 335.9 380.7 336.2 380.3 336.5 380.5 336.8 380.5 337.0 380.3 337.3 380.6 337.6 380.7 337.8 380.1 338.1 379.5 338.4 380.0 338.7 379.5 339.0 379.6 339.3 379.8 339.5 379.6 339.8 379.4 340.1 379.5 340.4 379.6 340.7 379.6 341.0 379.9 341.3 378.6 341.6 379.2 341.9 379.2 342.2 379.5 342.5 379.4 342.8 379.5 343.1 378.9 343.4 379.2 343.7 379.3 344.0 379.1 344.3 378.9 344.6 379.0 344.8 379.2 345.1 378.2 345.4 379.0 345.7 378.5 345.9 378.1 346.2 378.4 346.5 378.2 346.8 378.5 347.1 377.9 347.4 378.4 347.7 377.9 347.9 378.2 348.2 378.4 348.5 378.2 348.8 378.4 349.1 378.1 349.4 378.4 349.7 378.0 349.9 377.8 350.2 377.9 350.5 377.8 350.7 377.4 351.0 377.7 351.2 377.3 351.5 377.3 351.7 376.6 352.0 376.5 352.2 376.6 352.5 376.2 352.7 376.3 353.0 376.3 353.2 376.3 353.5 376.2 353.7 375.9 354.0 375.3 354.2 375.5 354.5 375.0 354.7 375.1 354.9 374.5 355.2 375.0 355.4 374.5 355.6 374.1 355.7 373.6 355.9 373.8 356.1 373.3 356.2 373.3 356.4 372.7 356.5 372.5 356.7 372.6 356.9 372.6 357.0 371.5 357.2 371.6 357.3 371.5 357.5 371.1 357.6 370.8 357.8 371.3 357.9 370.1 358.1 370.2 358.2 369.7 358.4 369.6 358.5 368.7 358.7 369.3 358.9 368.7 359.0 368.3 359.2 368.8 359.3 367.9 359.5 367.6 359.6 367.3 359.8 367.6 359.9 367.1 360.1 366.9 360.3 366.5 360.5 366.7 360.7 367.1 360.9 367.0 361.2 366.5 361.4 367.1 361.7 367.6 361.9 368.5 362.2 367.6 362.4 367.4 362.6 368.4 362.9 368.2 363.1 368.1 363.4 368.8 363.6 368.7 363.9 368.6 364.2 368.5 364.4 368.9 364.7 368.9 365.0 368.3 365.3 369.0 365.6 368.3 365.8 369.0 366.1 368.6 366.4 368.3 366.7 368.4 367.0 368.0 367.3 368.0 367.5 368.5 367.8 367.7 368.1 368.0 368.4 367.4 368.7 367.6 369.0 367.8 369.3 367.0 369.5 367.4 369.8 366.5 370.1 366.7 370.4 366.8 370.7 367.1 370.9 367.0 371.2 366.3 371.5 366.4 371.7 366.4 372.0 365.7 372.2 366.1 372.5 366.3 372.7 366.1 373.0 365.3 373.3 365.2 373.5 364.9 373.8 364.9 374.0 364.8 374.3 365.0 374.5 364.6 374.8 364.1 375.1 364.5 375.3 364.4 375.6 363.8 375.8 363.7 376.1 363.6 376.3 363.0 376.6 363.4 376.9 363.5 377.2 363.8 377.4 363.1 377.7 362.8 378.0 362.8 378.3 362.9 378.6 362.9 378.9 362.3 379.1 362.5 379.4 362.6 379.7 361.6 380.0 362.6 380.3 362.0 380.5 362.2 380.8 361.8 381.1 361.6 381.4 361.6 381.6 361.6 381.9 361.6 382.2 361.1 382.5 360.7 382.7 360.7 383.0 360.5 383.3 360.9 383.5 360.2 383.8 360.9 384.1 360.3 384.3 360.1 384.6 360.5 384.9 359.8 385.2 359.7 385.4 359.9 385.7 359.8 386.0 359.1 386.3 360.1 386.5 359.4 386.8 358.6 387.1 358.9 387.4 359.2 387.7 358.8 387.9 359.0 388.2 359.4 388.5 358.8 388.8 359.1 389.1 358.5 389.4 357.9 389.6 358.6 389.9 357.7 390.2 358.1 390.4 357.9 390.7 357.2 391.0 357.1 391.2 357.2 391.5 357.2 391.7 357.4 392.0 356.8 392.2 357.3 392.5 356.8 392.8 356.1 393.0 355.9 393.3 356.0 393.5 355.6 393.8 355.6 394.0 355.8 394.3 355.4 394.6 355.5 394.8 354.8 395.1 354.6 395.3 354.2 395.6 353.9 395.8 354.3 396.1 354.3 396.4 354.1 396.6 354.0 396.9 354.6 397.1 353.3 397.4 353.4 397.7 353.2 397.9 352.9 398.2 353.6 398.4 352.9 398.7 353.2 399.0 352.2 399.2 353.2 399.5 353.1 399.7 351.9 400.0 352.0 400.3 351.8 400.5 351.9 400.8 351.1 401.0 351.6 401.3 351.5 401.6 350.9 401.8 350.1 402.1 350.6 402.3 350.5 402.6 350.8 402.9 350.1 403.1 349.8 403.4 350.3 403.6 350.0 403.9 350.0 404.1 349.6 404.4 349.8 404.6 349.5 404.9 348.4 405.1 349.0 405.4 349.0 405.6 348.6 405.8 348.9 406.1 348.0 406.3 348.3 406.5 347.3 406.8 347.6 407.0 347.2 407.2 346.9 407.5 346.6 407.7 347.0 407.9 346.8 408.2 346.2 408.4 345.8 408.7 345.8 408.9 346.2 409.1 345.3 409.4 346.0 409.6 344.7 409.8 345.3 410.1 345.2 410.3 345.3 410.5 344.4 410.8 344.1 411.0 343.7 411.2 344.4 411.5 343.8 411.7 343.5 411.9 343.3 412.1 343.3 412.3 343.0 412.5 343.3 412.6 341.7 412.8 342.6 412.9 341.8 413.1 341.7 413.2 341.4 413.3 341.2 413.5 341.3 413.6 340.8 413.8 339.8 413.9 340.1 414.0 339.9 414.2 339.8 414.3 339.4 414.4 339.1 414.6 339.2 414.7 338.1 414.8 339.2 415.0 337.8 415.1 337.3 415.2 337.8 415.4 337.6 415.5 337.4 415.6 337.3 415.7 336.6 415.8 336.1 415.9 336.0 416.0 335.5 416.1 335.0 416.1 335.6 416.2 335.4 416.3 334.4 416.4 334.0 416.5 333.6 416.6 332.8 416.7 332.9 416.8 332.7 416.9 332.6 416.9 331.9 417.0 331.2 417.1 332.1 417.2 332.2 417.3 330.3 417.4 330.9 417.5 331.0 417.6 329.8 417.7 329.4 417.7 329.8 417.8 329.4 417.9 328.9 418.0 329.6 418.1 329.3 418.2 328.6 418.3 328.0 418.4 327.7 418.5 328.1 418.6 327.5 418.7 328.3 418.9 328.2 419.0 327.5 419.2 328.2 419.3 328.8 419.5 328.6 419.6 328.2 419.8 328.7 420.0 329.0 420.1 329.4 420.3 329.6 420.5 329.7 420.6 330.5 420.8 331.0 420.9 330.4 421.1 330.2 421.3 331.1 421.5 331.1 421.7 331.3 421.9 330.8 422.1 331.2 422.3 330.6 422.5 331.3 422.8 331.4 423.0 330.1 423.2 329.1 423.5 329.9 423.7 329.7 423.9 329.8 424.2 329.5 424.4 329.5 424.6 330.3 424.8 328.7 425.1 328.6 425.3 328.7 425.5 327.5 425.7 328.5 426.0 327.7 426.1 327.1 426.3 327.1 426.5 327.5 426.7 327.4 426.8 327.3 427.0 326.7 427.1 325.9 427.3 326.2 427.4 325.7 427.6 326.5 427.7 324.3 427.9 325.7 428.0 325.0 428.2 324.6 428.3 324.1 428.5 323.6 428.6 323.2 428.8 322.7 428.9 324.1 429.1 323.3 429.2 322.9 429.4 322.5 429.5 321.2 429.7 321.7 429.8 321.6 429.9 321.8 430.1 320.6 430.2 320.9 430.4 320.4 430.5 320.3 430.7 319.6 430.8 319.9 431.0 319.5 431.1 318.3 431.3 319.5 431.4 319.7 431.6 318.0 431.7 318.7 431.9 317.4 432.0 317.4 432.2 318.2 432.3 317.2 432.4 317.6 432.6 316.7 432.7 316.8 432.9 316.0 433.0 316.5 433.1 316.4 433.3 315.6 433.4 314.7 433.5 314.5 433.7 314.0 433.8 314.5 433.9 314.2 434.1 313.3 434.2 313.8 434.3 312.8 434.5 313.7 434.6 313.0 434.7 313.1 434.9 311.7 435.0 311.3 435.1 310.6 435.3 311.5 435.4 310.4 435.5 311.4 435.7 310.5 435.8 310.5 435.9 309.2 436.1 309.3 436.2 309.4 436.3 309.4 436.5 308.2 436.6 308.7 436.7 307.8 436.9 308.4 437.0 307.6 437.1 307.3 437.2 307.4 437.3 307.5 437.5 306.5 437.6 307.0 437.7 305.5 437.8 305.9 437.9 304.9 438.0 305.3 438.1 304.5 438.3 304.7 438.4 304.8 438.6 303.9 438.8 303.3 439.1 304.0 439.3 304.3 439.6 304.1 439.9 303.5 440.2 304.4 440.5 303.8 440.8 304.4 441.1 303.5 441.4 304.2 441.7 304.6 442.0 303.6 442.3 303.8 442.6 304.3 442.9 304.2 443.2 304.2 443.5 303.9 443.8 303.1 444.1 303.9 444.3 303.2 444.6 303.9 444.9 302.5 445.2 304.4 445.5 304.5 445.7 303.7 446.0 302.9 446.3 303.0 446.5 303.5 446.8 303.2 447.1 302.4 447.3 303.2 447.6 302.9 447.9 302.6 448.2 302.0 448.4 302.1 448.7 301.6 449.0 301.9 449.2 301.3 449.5 302.1 449.8 301.4 450.0 301.4 450.3 301.3 450.6 301.2 450.8 300.1 451.1 301.4 451.4 300.6 451.6 300.1 451.9 299.8 452.2 299.8 452.4 299.7 452.7 299.9 452.9 299.3 453.2 299.6 453.5 299.5 453.7 298.9 454.0 300.3 454.3 298.9 454.5 299.1 454.8 298.8 455.1 298.5 455.3 298.8 455.6 299.0 455.9 298.1 456.1 297.6 456.4 298.2 456.7 296.7 457.0 297.9 457.2 297.7 457.5 297.9 457.8 297.0 458.1 297.6 458.4 297.3 458.7 297.6 459.0 298.3 459.3 297.9 459.6 297.7 459.9 298.7 460.2 298.0 460.5 297.0 460.7 297.5 461.0 298.4 461.3 298.4 461.5 298.4 461.8 298.6 462.0 298.1 462.2 298.7 462.4 298.4 462.6 298.8 462.8 298.9 463.0 299.2 463.2 299.7 463.4 300.0 463.6 299.9 463.8 301.1 464.0 300.5 464.2 301.8 464.4 301.7 464.6 300.8 464.9 302.1 465.1 301.1 465.3 302.8 465.5 302.5 465.7 302.0 465.9 301.6 466.1 302.7 466.3 302.5 466.5 303.9 466.7 303.0 466.9 303.7 467.1 304.3 467.3 304.3 467.5 304.6 467.7 304.6 467.9 305.3 468.1 304.7 468.3 305.7 468.5 305.0 468.7 305.9 468.9 305.5 469.1 306.2 469.3 306.8 469.5 307.4 469.7 306.1 469.9 306.8 470.1 306.9 470.3 308.3 470.5 307.4 470.7 308.5 470.9 308.1 471.1 307.8 471.3 308.8 471.5 308.4 471.7 309.6 471.8 309.9 472.0 310.4 472.2 309.4 472.4 310.9 472.6 310.8 472.8 309.7 473.0 311.9 473.2 311.9 473.4 310.8 473.6 311.6 473.8 311.1 474.0 311.9 474.2 312.2 474.4 312.7 474.6 312.2 474.8 312.8 475.0 312.6 475.2 313.5 475.4 313.8 475.6 313.8 475.8 314.5 476.0 314.5 476.2 314.6 476.4 315.2 476.6 314.2 476.8 315.0 477.0 314.4 477.2 315.5 477.4 315.5 477.6 316.4 477.8 316.0 478.0 316.1 478.2 316.6 478.4 316.8 478.6 317.3 478.8 316.9 479.0 316.8 479.2 317.0 479.4 318.5 479.6 317.6 479.8 318.2 480.0 318.1 480.2 319.3 480.4 318.8 480.6 319.9 480.8 319.2 481.0 319.9 481.2 320.4 481.4 320.7 481.6 319.9 481.8 320.5 482.0 320.9 482.2 320.3 482.4 321.7 482.6 321.8 482.8 322.1 483.0 321.4 483.2 322.4 483.3 322.7 483.5 323.3 483.7 322.8 483.9 323.6 484.0 324.4 484.2 323.6 484.4 323.8 484.5 324.1 484.7 323.8 484.9 324.6 485.0 325.8 485.2 324.9 485.4 325.4 485.5 326.3 485.7 326.3 485.9 326.4 486.0 326.4 486.2 326.7 486.4 327.0 486.5 327.6 486.7 327.6 486.9 328.2 487.0 327.2 487.2 328.6 487.4 328.3 487.5 328.8 487.7 328.8 487.9 329.6 488.0 329.5 488.2 330.0 488.4 329.7 488.5 330.4 488.7 331.1 488.9 331.3 489.0 330.9 489.2 331.3 489.4 331.4 489.5 331.7 489.7 332.0 489.9 332.8 490.0 332.8 490.2 333.4 490.4 333.7 490.5 332.7 490.7 333.6 490.9 333.6 491.0 333.3 491.2 333.8 491.4 334.3 491.5 335.5 491.7 335.1 491.9 335.2 492.0 335.5 492.2 335.5 492.4 336.1 492.5 336.2 492.7 335.9 492.8 336.6 493.0 338.4 493.1 337.6 493.3 337.5 493.5 338.1 493.6 337.7 493.8 338.4 493.9 338.9 494.1 338.2 494.2 338.8 494.4 339.2 494.6 339.5 494.7 339.7 494.9 340.2 495.0 340.8 495.2 340.8 495.3 341.3 495.5 341.6 495.7 341.2 495.8 341.8 496.0 341.8 496.1 342.4 496.3 342.3 496.4 342.6 496.6 343.6 496.8 343.1 496.9 342.8 497.1 343.7 497.2 344.1 497.4 344.0 497.5 344.5 497.7 345.1 497.9 344.8 498.0 345.2 498.2 345.2 498.3 345.9 498.5 346.0 498.7 345.9 498.8 346.5 499.0 347.5 499.1 346.4 499.3 346.8 499.4 347.7 499.6 347.3 499.8 348.8 499.9 347.8 500.1 348.1 500.2 348.6 500.4 349.5 500.5 349.6 500.7 349.8 500.9 349.9 501.0 350.6 501.2 349.7 501.4 350.7 501.5 351.4 501.7 350.7 501.9 351.4 502.0 352.0 502.2 352.3 502.4 352.0 502.6 353.0 502.8 352.7 502.9 353.2 503.1 352.6 503.3 353.0 503.5 353.2 503.6 354.4 503.8 353.2 504.0 353.6 504.2 354.8 504.3 354.8 504.5 353.9 504.7 355.1 504.9 355.4 505.0 356.1 505.2 355.3 505.4 356.0 505.6 356.8 505.7 356.9 505.9 356.6 506.1 357.1 506.3 356.9 506.5 358.1 506.6 357.7 506.8 358.6 507.0 358.6 507.2 358.3 507.3 358.8 507.5 359.3 507.7 359.5 507.9 360.1 508.0 360.2 508.2 360.2 508.4 360.5 508.6 360.3 508.7 360.6 508.9 361.2 509.1 361.4 509.3 361.2 509.5 361.8 509.6 361.8 509.8 362.1 510.0 362.9 510.2 362.5 510.3 362.8 510.5 363.4 510.7 363.5 510.9 363.8 511.0 363.5 511.2 364.2 511.4 364.3 511.6 364.5 511.7 364.8 511.9 365.1 512.1 365.7 512.3 366.3 512.4 366.0 512.6 366.6 512.8 366.5 513.0 366.2 513.1 366.9 513.3 367.5 513.5 367.8 513.7 367.4 513.8 368.5 514.0 367.9 514.2 368.2 514.4 368.5 514.5 369.3 514.7 369.2 514.9 369.6 515.1 369.0 515.2 369.8 515.4 370.0 515.6 370.5 515.8 370.4 515.9 371.2 516.1 370.9 516.3 370.9 516.5 371.1 516.6 372.1 516.8 372.2 517.0 372.0 517.1 372.7 517.2 372.6 517.3 372.7" fill="none" stroke="#ff0000" stroke-width="2.1" stroke-linejoin="round" clip-path="url(#cD)"/>
<path d="M304.9 382.9 305.1 383.0 305.3 383.1 305.5 383.1 305.7 382.8 306.0 383.1 306.3 383.1 306.6 382.5 306.9 382.6 307.2 382.1 307.4 382.4 307.7 382.0 308.0 382.1 308.3 382.1 308.6 381.9 308.9 382.1 309.2 381.6 309.4 381.6 309.7 381.7 310.0 381.5 310.3 381.4 310.6 381.2 310.9 381.0 311.1 381.3 311.4 381.0 311.7 381.1 312.0 381.1 312.3 380.6 312.6 380.4 312.9 380.4 313.1 380.3 313.4 379.9 313.7 380.6 314.0 380.2 314.3 380.6 314.6 379.8 314.8 380.0 315.1 379.8 315.4 379.6 315.7 379.8 316.0 379.5 316.3 379.4 316.6 379.3 316.8 378.6 317.1 378.9 317.4 378.8 317.7 379.3 318.0 378.9 318.3 378.9 318.5 378.7 318.8 378.4 319.1 378.8 319.4 378.2 319.6 377.8 319.9 378.2 320.2 378.2 320.5 377.8 320.7 377.7 321.0 377.8 321.3 377.8 321.6 377.4 321.8 377.6 322.1 377.1 322.4 377.5 322.7 376.4 322.9 376.9 323.2 376.6 323.5 376.5 323.8 376.0 324.0 376.5 324.3 376.0 324.6 375.7 324.9 375.7 325.1 375.6 325.4 375.6 325.7 375.2 326.0 375.1 326.2 375.3 326.5 375.1 326.8 375.5 327.1 374.7 327.3 374.9 327.6 375.1 327.9 374.4 328.2 374.6 328.4 374.3 328.7 374.1 329.0 374.4 329.2 373.5 329.5 373.5 329.7 373.0 330.0 373.3 330.3 373.5 330.5 373.0 330.8 373.1 331.0 372.6 331.3 372.9 331.6 372.4 331.8 372.2 332.1 372.6 332.4 372.0 332.6 372.0 332.9 371.8 333.1 371.8 333.4 371.5 333.7 370.9 333.9 371.2 334.2 371.1 334.4 370.9 334.7 370.6 335.0 371.1 335.2 370.2 335.5 370.3 335.7 370.1 336.0 369.6 336.2 369.4 336.5 369.8 336.7 369.6 337.0 369.3 337.2 368.6 337.4 368.8 337.7 368.7 337.9 368.7 338.2 368.7 338.4 368.3 338.6 368.3 338.9 368.4 339.2 367.1 339.5 368.0 339.7 367.6 340.0 367.8 340.3 367.7 340.6 367.4 340.9 367.4 341.2 367.8 341.5 367.5 341.7 367.7 342.0 367.3 342.2 367.9 342.5 367.0 342.7 367.6 342.9 366.5 343.1 366.7 343.4 366.7 343.6 365.7 343.8 365.6 344.0 365.8 344.2 365.9 344.5 365.7 344.7 365.3 344.9 365.2 345.1 364.3 345.3 364.3 345.6 364.7 345.8 363.9 346.0 363.8 346.2 363.1 346.5 363.4 346.7 362.8 346.9 363.3 347.2 363.5 347.4 363.0 347.7 362.9 348.0 362.6 348.2 362.9 348.5 362.4 348.8 362.6 349.1 363.5 349.3 362.3 349.6 362.5 349.8 362.1 350.1 362.9 350.3 362.2 350.5 361.7 350.7 361.5 350.9 362.1 351.2 361.7 351.4 361.6 351.6 361.1 351.8 361.2 352.0 361.1 352.2 360.7 352.4 359.7 352.7 359.4 352.9 359.3 353.1 359.7 353.2 358.9 353.4 358.8 353.6 358.9 353.8 358.3 353.9 357.9 354.0 358.4 354.2 358.0 354.3 357.8 354.4 357.6 354.6 357.5 354.7 356.7 354.8 356.4 355.0 355.6 355.1 355.9 355.2 355.5 355.4 355.8 355.5 355.4 355.6 355.4 355.8 355.0 355.9 354.7 356.0 354.2 356.1 353.8 356.2 353.4 356.3 353.2 356.4 352.6 356.5 352.8 356.6 352.3 356.7 351.3 356.7 350.8 356.8 351.2 356.9 351.0 357.0 350.8 357.1 351.1 357.1 350.1 357.2 349.6 357.3 349.9 357.4 349.8 357.4 349.8 357.5 348.5 357.6 348.5 357.7 348.1 357.7 348.6 357.8 348.0 357.9 347.4 358.0 347.4 358.0 346.7 358.1 346.5 358.2 346.2 358.2 345.7 358.3 345.6 358.3 345.5 358.3 345.1 358.4 345.3 358.4 344.8 358.4 344.1 358.4 343.0 358.5 343.0 358.5 343.1 358.5 342.8 358.5 342.1 358.6 342.2 358.6 342.1 358.6 341.5 358.6 341.4 358.6 341.1 358.7 340.6 358.7 340.2 358.7 340.2 358.7 340.1 358.8 339.2 358.8 338.5 358.8 338.7 358.8 339.0 358.8 337.8 358.9 338.5 358.9 337.6 358.9 337.6 358.9 336.9 359.0 337.2 359.0 336.7 359.0 336.5 359.0 335.2 359.0 336.1 359.1 334.8 359.1 335.0 359.1 335.1 359.1 334.5 359.2 334.5 359.2 334.0 359.2 333.7 359.2 333.1 359.3 333.6 359.4 333.6 359.4 332.8 359.5 332.6 359.6 333.1 359.8 332.8 359.9 333.4 360.1 333.9 360.2 334.1 360.4 334.7 360.6 334.5 360.7 334.1 360.9 334.5 361.1 335.3 361.2 336.1 361.4 335.4 361.6 335.5 361.7 336.7 361.9 336.3 362.1 336.9 362.2 337.3 362.4 336.7 362.6 337.2 362.8 337.3 363.0 338.0 363.1 338.3 363.3 338.0 363.5 338.7 363.7 338.0 363.9 339.1 364.1 339.2 364.3 339.2 364.5 338.7 364.7 339.2 364.8 338.8 365.0 339.7 365.2 338.8 365.4 338.6 365.6 338.4 365.8 338.5 365.9 338.0 366.1 338.0 366.3 337.2 366.5 337.7 366.7 336.9 366.8 337.1 367.0 336.7 367.2 336.8 367.4 336.1 367.6 335.2 367.7 335.1 367.9 335.3 368.1 335.7 368.3 334.7 368.5 334.7 368.7 334.9 368.8 333.9 369.0 334.1 369.2 333.8 369.4 333.2 369.6 333.3 369.7 333.4 369.9 333.2 370.1 332.4 370.3 333.5 370.5 332.2 370.7 331.7 370.9 331.3 371.1 331.0 371.4 331.6 371.6 329.9 371.9 330.9 372.1 330.2 372.4 330.5 372.6 330.4 372.9 329.7 373.1 329.7 373.4 330.5 373.7 329.6 373.9 329.7 374.2 329.4 374.4 329.7 374.7 329.7 374.9 329.4 375.2 329.1 375.5 329.0 375.7 328.1 376.0 329.0 376.2 328.0 376.5 327.7 376.7 327.8 377.0 327.4 377.2 327.8 377.5 327.7 377.7 327.8 377.9 327.0 378.2 326.6 378.4 326.6 378.7 326.0 378.9 326.0 379.1 327.1 379.4 325.6 379.6 325.6 379.9 325.9 380.1 325.6 380.3 325.6 380.6 324.7 380.8 324.4 381.1 325.3 381.3 324.2 381.5 324.3 381.8 324.3 382.0 323.2 382.3 323.7 382.5 323.3 382.7 323.7 383.0 323.1 383.2 322.0 383.4 323.2 383.6 321.5 383.8 322.2 384.1 321.9 384.3 321.7 384.5 321.8 384.7 322.0 384.9 321.0 385.1 320.9 385.3 321.3 385.5 321.0 385.8 320.9 386.0 320.5 386.2 320.0 386.4 319.7 386.6 319.5 386.8 319.9 387.0 319.9 387.2 320.0 387.5 318.3 387.7 318.5 387.9 318.4 388.1 318.1 388.3 317.4 388.5 318.8 388.7 318.3 389.0 317.3 389.2 316.9 389.4 316.9 389.6 316.2 389.8 316.4 390.1 316.7 390.3 316.9 390.5 316.4 390.7 316.4 391.0 315.0 391.2 313.8 391.4 315.8 391.6 315.0 391.9 314.7 392.1 315.4 392.3 313.9 392.5 313.7 392.8 313.6 393.0 314.5 393.2 314.0 393.5 312.5 393.7 314.0 393.9 313.0 394.1 313.0 394.4 312.2 394.6 313.3 394.8 312.4 395.0 312.6 395.3 311.3 395.5 312.0 395.7 311.5 396.0 311.1 396.2 310.6 396.4 310.5 396.7 310.1 396.9 310.2 397.2 310.3 397.4 310.4 397.6 309.2 397.9 309.3 398.1 309.3 398.4 308.6 398.6 309.1 398.8 308.9 399.1 308.8 399.3 308.9 399.6 309.0 399.8 308.7 400.0 308.3 400.3 308.3 400.5 307.4 400.8 307.1 401.0 307.8 401.2 307.5 401.5 308.2 401.7 306.8 402.0 306.2 402.2 306.7 402.4 306.1 402.7 305.7 402.9 306.6 403.1 306.7 403.4 305.8 403.6 305.0 403.8 305.3 404.1 305.0 404.3 304.1 404.5 305.1 404.8 304.6 405.0 304.9 405.2 303.8 405.5 303.9 405.7 303.6 405.9 302.6 406.2 304.6 406.4 302.0 406.6 302.3 406.9 302.5 407.1 301.7 407.3 302.6 407.5 301.9 407.7 302.0 407.9 301.8 408.1 301.5 408.3 301.3 408.5 300.9 408.7 301.0 408.8 300.9 409.0 300.1 409.2 299.8 409.3 299.6 409.5 299.7 409.7 299.1 409.9 298.8 410.0 298.0 410.2 299.6 410.4 297.6 410.5 299.0 410.7 298.2 410.9 298.1 411.1 297.5 411.2 297.3 411.4 297.0 411.6 296.9 411.7 296.8 411.9 296.9 412.1 295.3 412.2 295.8 412.3 296.2 412.5 295.8 412.6 294.2 412.7 294.7 412.8 294.4 412.9 294.1 413.0 292.4 413.1 293.8 413.2 292.2 413.3 294.0 413.4 292.9 413.5 292.2 413.6 292.3 413.7 291.7 413.8 291.1 413.9 291.0 414.0 291.0 414.1 290.0 414.1 290.6 414.2 290.6 414.3 290.3 414.4 290.0 414.5 289.8 414.6 289.2 414.7 289.3 414.8 288.3 414.9 288.2 415.0 288.5 415.1 288.5 415.2 286.9 415.3 286.0 415.4 287.8 415.4 286.9 415.5 287.0 415.6 286.2 415.6 285.5 415.7 284.7 415.7 284.2 415.8 285.3 415.8 284.7 415.9 284.1 415.9 282.9 416.0 283.0 416.0 282.6 416.1 282.5 416.1 280.7 416.2 282.2 416.2 282.7 416.2 281.2 416.3 281.2 416.3 281.1 416.4 280.0 416.4 280.6 416.5 279.5 416.5 279.5 416.6 279.6 416.6 279.1 416.7 278.9 416.7 278.0 416.8 278.7 416.8 277.3 416.9 278.2 416.9 277.0 417.0 276.3 417.0 276.7 417.0 275.8 417.1 275.8 417.1 275.8 417.2 276.0 417.2 275.8 417.3 275.3 417.3 274.5 417.4 273.4 417.4 273.9 417.5 273.6 417.5 273.4 417.6 272.9 417.6 272.6 417.6 273.1 417.7 271.5 417.7 272.0 417.7 272.5 417.8 270.9 417.8 270.5 417.8 270.7 417.8 270.3 417.9 270.4 417.9 270.8 417.9 269.5 417.9 269.7 418.0 268.6 418.0 268.4 418.0 268.6 418.0 267.7 418.1 268.6 418.1 267.3 418.1 267.1 418.1 266.2 418.2 266.3 418.2 265.7 418.2 265.7 418.2 264.6 418.3 265.4 418.3 266.3 418.3 263.6 418.3 265.7 418.4 264.1 418.4 264.5 418.4 263.0 418.4 264.7 418.5 262.5 418.5 263.1 418.6 264.1 418.6 262.2 418.7 261.6 418.8 263.3 418.9 263.0 419.0 263.2 419.1 263.5 419.2 263.4 419.3 265.6 419.4 265.8 419.5 264.3 419.6 265.5 419.7 265.5 419.8 266.8 419.9 265.8 420.0 267.7 420.1 266.9 420.2 266.7 420.3 267.4 420.4 267.4 420.5 269.5 420.6 268.4 420.8 268.1 421.0 268.6 421.2 269.6 421.4 268.1 421.6 267.6 421.9 269.5 422.2 269.0 422.4 268.2 422.7 268.4 423.0 269.0 423.3 266.5 423.6 269.0 423.8 267.9 424.1 268.3 424.3 267.7 424.5 269.6 424.7 267.0 424.9 267.9 425.0 265.2 425.2 266.7 425.3 266.9 425.4 265.1 425.5 264.5 425.6 265.6 425.7 265.9 425.8 265.8 425.9 264.2 426.0 264.7 426.2 263.2 426.3 265.0 426.4 263.2 426.5 264.2 426.6 262.8 426.7 262.5 426.8 263.6 426.9 261.6 427.0 262.8 427.1 261.4 427.3 260.8 427.4 260.5 427.5 261.6 427.6 260.5 427.7 260.0 427.8 258.9 427.9 260.5 428.0 260.1 428.1 259.3 428.3 259.4 428.4 256.3 428.5 257.9 428.6 258.1 428.7 257.8 428.8 257.0 428.9 257.3 429.0 256.4 429.1 256.1 429.2 255.5 429.3 256.1 429.4 255.2 429.5 255.1 429.6 256.1 429.7 254.9 429.8 254.6 429.9 253.2 430.0 253.7 430.0 254.4 430.1 253.8 430.2 253.2 430.3 252.7 430.4 252.6 430.5 252.6 430.6 251.8 430.6 250.0 430.7 252.8 430.8 251.9 430.9 250.7 431.0 251.6 431.1 249.4 431.2 250.9 431.2 249.8 431.3 250.0 431.4 248.9 431.5 248.9 431.6 249.0 431.7 249.0 431.8 248.3 431.8 248.0 431.9 247.0 432.0 248.3 432.1 247.0 432.2 246.4 432.3 246.0 432.4 245.1 432.4 245.1 432.5 244.3 432.6 245.2 432.7 244.8 432.8 244.7 432.9 243.3 433.0 243.6 433.0 243.2 433.1 244.1 433.2 242.0 433.3 241.7 433.4 243.4 433.5 242.5 433.6 240.8 433.6 242.6 433.7 242.5 433.8 241.9 433.9 239.3 434.0 240.6 434.1 239.6 434.1 239.7 434.2 238.5 434.3 240.6 434.4 238.5 434.5 239.0 434.6 239.1 434.6 238.6 434.7 238.2 434.8 237.3 434.9 237.5 435.0 236.9 435.0 235.0 435.1 237.2 435.2 235.7 435.3 235.5 435.4 235.3 435.5 234.2 435.5 234.1 435.6 233.4 435.7 234.8 435.8 235.0 435.9 233.9 435.9 232.7 436.0 234.3 436.1 232.7 436.2 231.5 436.3 231.0 436.4 232.2 436.4 232.9 436.5 231.2 436.6 230.8 436.7 230.7 436.8 230.0 436.8 230.0 436.9 230.3 437.0 229.2 437.1 230.2 437.2 228.5 437.3 229.5 437.3 228.9 437.4 228.1 437.5 227.8 437.6 227.5 437.7 228.8 437.8 226.6 437.9 227.8 438.0 227.4 438.1 226.1 438.2 227.4 438.4 224.0 438.5 225.8 438.6 225.4 438.8 225.0 438.9 225.4 439.0 224.2 439.2 224.1 439.3 224.8 439.4 223.6 439.6 222.6 439.7 223.6 439.9 222.9 440.0 222.4 440.2 223.2 440.4 222.2 440.6 222.0 440.8 222.6 441.1 222.8 441.3 223.2 441.6 222.3 441.8 224.8 442.1 224.1 442.3 223.9 442.6 224.1 442.8 222.2 443.1 225.0 443.3 223.7 443.6 225.0 443.8 223.9 444.1 225.7 444.3 224.6 444.6 224.9 444.8 226.2 445.1 225.8 445.4 223.9 445.6 224.4 445.9 225.0 446.2 224.5 446.4 225.2 446.7 223.9 447.0 222.8 447.2 223.4 447.5 223.8 447.8 224.3 448.0 224.3 448.3 224.6 448.6 223.6 448.8 223.1 449.1 223.7 449.4 222.9 449.6 222.5 449.9 222.3 450.1 223.2 450.4 223.5 450.6 223.2 450.8 220.7 451.1 222.7 451.3 220.8 451.6 221.2 451.8 221.8 452.1 220.1 452.3 220.0 452.5 220.2 452.8 221.9 453.0 221.3 453.3 219.5 453.5 220.2 453.7 220.0 454.0 219.9 454.2 218.9 454.4 220.4 454.7 218.8 454.9 219.5 455.1 217.3 455.3 218.8 455.5 218.4 455.8 219.2 456.0 215.8 456.2 218.1 456.4 218.1 456.6 217.0 456.9 218.1 457.1 218.6 457.3 217.4 457.6 217.3 457.8 217.6 458.1 216.9 458.3 217.5 458.6 217.1 458.8 216.1 459.1 215.9 459.4 217.8 459.7 217.5 459.9 216.6 460.2 217.3 460.5 218.6 460.7 216.2 461.0 217.0 461.3 218.4 461.5 218.7 461.7 217.3 461.9 217.6 462.2 218.7 462.4 219.9 462.6 219.0 462.7 217.4 462.9 220.3 463.1 219.7 463.3 219.6 463.5 219.3 463.7 221.4 463.9 220.9 464.1 221.2 464.3 221.4 464.4 221.7 464.6 222.3 464.8 223.2 464.9 221.3 465.0 222.3 465.2 222.3 465.3 224.2 465.4 223.0 465.5 222.2 465.7 223.7 465.8 223.5 465.9 223.7 466.0 224.2 466.2 223.8 466.3 223.6 466.4 226.9 466.5 225.6 466.7 225.2 466.8 226.7 466.9 227.5 467.0 225.4 467.1 226.7 467.3 227.5 467.4 226.9 467.5 228.2 467.6 227.2 467.8 227.9 467.9 228.6 468.0 229.3 468.1 229.3 468.3 229.0 468.4 229.5 468.5 228.4 468.6 231.9 468.8 230.3 468.9 230.6 469.0 231.3 469.1 231.8 469.3 231.9 469.4 231.4 469.5 231.0 469.6 232.4 469.8 232.2 469.9 232.6 470.0 233.3 470.1 233.8 470.3 234.8 470.4 234.0 470.5 233.1 470.6 235.1 470.8 235.7 470.9 234.0 471.0 236.0 471.1 235.9 471.3 235.6 471.4 236.4 471.5 236.9 471.7 237.3 471.8 238.0 471.9 237.4 472.0 237.7 472.2 239.8 472.3 237.4 472.4 238.3 472.5 238.5 472.7 239.6 472.8 240.1 472.9 238.6 473.1 240.8 473.2 239.2 473.3 242.3 473.5 240.2 473.6 241.7 473.7 241.0 473.8 242.0 474.0 241.2 474.1 242.1 474.2 242.3 474.4 242.6 474.5 243.4 474.6 242.8 474.8 243.1 474.9 242.7 475.0 243.8 475.2 243.8 475.3 245.1 475.4 245.2 475.5 244.5 475.7 245.6 475.8 246.5 475.9 245.7 476.1 245.2 476.2 248.1 476.3 247.0 476.5 247.4 476.6 249.0 476.7 246.9 476.8 247.9 477.0 246.6 477.1 248.6 477.2 248.8 477.3 248.2 477.4 248.5 477.5 249.2 477.6 249.5 477.7 251.1 477.8 250.0 478.0 250.4 478.1 250.6 478.2 249.9 478.3 251.0 478.4 250.7 478.5 252.0 478.6 250.6 478.7 251.7 478.8 252.9 478.9 251.5 479.0 252.2 479.1 254.3 479.2 252.9 479.4 254.1 479.5 254.6 479.6 254.0 479.7 253.8 479.8 256.3 479.9 255.1 480.0 256.2 480.1 255.6 480.2 256.6 480.3 255.7 480.4 256.0 480.5 256.5 480.6 257.1 480.8 257.3 480.9 257.8 481.0 258.6 481.1 258.3 481.2 259.5 481.3 258.7 481.4 259.9 481.5 260.6 481.6 261.2 481.7 259.0 481.8 261.8 481.9 259.7 482.0 262.1 482.1 261.4 482.2 262.0 482.3 261.4 482.4 262.9 482.6 263.0 482.7 262.5 482.8 262.7 482.9 264.0 483.0 264.4 483.1 264.5 483.2 264.0 483.3 264.5 483.4 265.4 483.5 265.7 483.6 266.1 483.7 265.8 483.8 265.5 483.9 266.4 484.0 266.8 484.1 266.4 484.2 267.4 484.3 266.8 484.4 267.8 484.5 267.5 484.6 269.6 484.7 269.3 484.8 268.9 485.0 268.2 485.1 268.5 485.2 270.1 485.3 269.8 485.4 270.4 485.5 269.4 485.6 269.7 485.7 271.1 485.8 271.2 485.9 270.7 486.0 271.3 486.1 272.6 486.2 272.1 486.3 273.1 486.4 274.0 486.5 273.5 486.6 273.6 486.7 273.4 486.8 274.9 486.9 273.5 487.0 274.0 487.2 274.9 487.3 274.3 487.4 276.1 487.5 275.4 487.6 276.4 487.7 276.2 487.8 276.5 487.9 276.9 488.0 276.0 488.1 276.8 488.2 277.5 488.3 279.4 488.4 278.8 488.5 279.1 488.6 278.2 488.7 279.7 488.8 280.2 488.9 280.2 489.0 281.6 489.2 279.5 489.3 279.9 489.4 280.7 489.5 280.5 489.6 281.4 489.7 282.0 489.8 282.0 489.9 282.3 490.0 282.8 490.1 283.3 490.2 282.7 490.3 283.0 490.4 284.4 490.5 283.7 490.6 283.7 490.7 284.7 490.8 284.6 490.9 285.2 491.0 285.3 491.1 286.0 491.2 286.5 491.3 285.7 491.4 285.8 491.5 287.7 491.6 286.7 491.7 286.4 491.8 286.5 491.9 287.9 492.0 287.8 492.1 287.4 492.2 288.2 492.3 288.4 492.4 289.9 492.5 289.8 492.6 289.9 492.7 289.4 492.8 290.4 492.9 291.2 493.0 291.1 493.0 292.0 493.1 291.7 493.2 292.3 493.3 292.5 493.4 292.1 493.5 293.5 493.6 293.3 493.7 293.8 493.8 293.0 493.9 293.3 494.0 294.1 494.1 294.0 494.2 295.1 494.3 295.3 494.4 296.0 494.5 295.9 494.6 295.2 494.7 296.7 494.8 296.1 494.9 296.3 495.0 297.1 495.1 297.3 495.2 298.2 495.3 299.5 495.4 298.4 495.5 299.3 495.6 298.6 495.7 299.2 495.8 299.0 495.9 299.3 496.0 300.6 496.2 300.4 496.3 300.6 496.4 300.2 496.5 301.9 496.7 301.1 496.8 301.1 496.9 301.7 497.0 302.4 497.1 302.7 497.3 303.4 497.4 302.3 497.5 302.9 497.6 304.3 497.8 304.9 497.9 303.6 498.0 304.2 498.1 303.7 498.2 304.3 498.4 304.6 498.5 305.3 498.6 304.9 498.7 306.4 498.9 306.1 499.0 306.3 499.1 307.2 499.2 306.8 499.3 306.6 499.5 307.5 499.6 309.0 499.7 308.1 499.8 308.6 499.9 308.5 500.1 308.8 500.2 309.4 500.3 308.0 500.4 309.1 500.6 309.7 500.7 310.1 500.8 311.3 500.9 312.1 501.0 311.4 501.2 311.6 501.3 312.0 501.4 312.7 501.5 311.7 501.7 312.2 501.8 312.8 501.9 313.2 502.0 312.3 502.1 313.8 502.3 313.0 502.4 314.5 502.5 314.8 502.6 313.5 502.7 315.2 502.9 315.3 503.0 315.2 503.1 316.2 503.2 317.0 503.3 316.6 503.4 316.0 503.5 316.1 503.6 316.6 503.7 316.9 503.8 318.3 503.9 318.2 504.0 318.3 504.1 319.0 504.2 318.9 504.3 319.2 504.4 319.0 504.5 319.4 504.6 320.0 504.7 319.7 504.8 321.4 504.9 320.9 505.0 320.9 505.1 321.9 505.2 321.2 505.3 322.5 505.4 322.3 505.5 323.5 505.6 322.6 505.6 322.9 505.7 323.0 505.8 323.1 505.9 324.1 506.0 323.8 506.1 324.7 506.2 324.5 506.3 325.6 506.4 324.2 506.5 325.9 506.6 326.0 506.7 326.3 506.8 326.3 506.9 327.7 507.0 326.9 507.1 327.6 507.2 327.6 507.3 327.8 507.4 328.3 507.5 328.9 507.5 328.3 507.6 328.9 507.7 328.8 507.8 329.9 507.9 329.6 508.0 329.9 508.1 330.8 508.2 330.8 508.3 331.3 508.4 331.3 508.5 331.9 508.6 332.0 508.7 331.7 508.8 332.6 508.9 332.7 509.0 333.0 509.1 333.5 509.2 333.4 509.3 333.5 509.4 334.8 509.4 335.3 509.5 334.7 509.6 335.6 509.7 335.6 509.8 335.4 509.9 335.6 510.0 336.1 510.1 336.3 510.2 336.7 510.3 337.0 510.4 336.9 510.5 338.0 510.6 337.5 510.7 337.8 510.8 338.9 510.9 339.1 510.9 339.7 511.0 339.4 511.1 339.4 511.2 340.4 511.3 340.2 511.4 340.5 511.5 340.5 511.6 341.3 511.7 340.4 511.8 341.9 511.9 341.1 512.0 342.6 512.1 341.9 512.1 343.1 512.2 344.1 512.3 343.3 512.4 343.2 512.5 344.8 512.6 344.1 512.7 344.1 512.8 345.3 512.9 343.9 513.0 344.8 513.1 345.1 513.2 345.7 513.3 345.4 513.3 346.9 513.4 347.2 513.5 347.1 513.6 347.2 513.7 347.1 513.8 348.1 513.9 348.0 514.0 348.8 514.1 349.2 514.2 349.1 514.3 348.6 514.4 349.3 514.5 350.5 514.5 350.4 514.6 351.1 514.7 350.0 514.8 351.1 514.9 351.3 515.0 351.1 515.1 351.7 515.2 352.6 515.3 352.7 515.4 352.6 515.5 353.2 515.6 353.8 515.7 353.3 515.7 354.1 515.8 354.6 515.9 354.3 516.0 355.3 516.1 355.1 516.2 355.8 516.3 356.0 516.4 356.1 516.5 356.1 516.6 356.3 516.7 356.9 516.8 357.2 516.9 357.9 516.9 357.6 517.0 358.1 517.1 358.8 517.2 358.6 517.3 358.9 517.3 359.5 517.4 359.1" fill="none" stroke="#0000ff" stroke-width="2.4" stroke-linejoin="round" clip-path="url(#cD)"/>
<line x1="41.8" y1="14.0" x2="67.2" y2="14.0" stroke="#000000" stroke-width="2.1"/>
<text x="73.3" y="19.1" font-size="11">10<tspan font-size="7" dx="0.9" dy="-6.8">12</tspan></text>
<line x1="41.8" y1="30.3" x2="67.2" y2="30.3" stroke="#e01010" stroke-width="2.1"/>
<text x="73.3" y="35.4" font-size="11">10<tspan font-size="7" dx="0.9" dy="-6.8">13</tspan></text>
<line x1="41.8" y1="46.5" x2="67.2" y2="46.5" stroke="#10e010" stroke-width="2.1"/>
<text x="73.3" y="51.6" font-size="11">10<tspan font-size="7" dx="0.9" dy="-6.8">14</tspan></text>
<line x1="41.8" y1="62.7" x2="67.2" y2="62.7" stroke="#1010d0" stroke-width="2.1"/>
<text x="73.3" y="67.8" font-size="11">10<tspan font-size="7" dx="0.9" dy="-6.8">15</tspan></text>
<line x1="41.8" y1="78.9" x2="67.2" y2="78.9" stroke="#20eeee" stroke-width="2.1"/>
<text x="73.3" y="84.0" font-size="11">10<tspan font-size="7" dx="0.9" dy="-6.8">16</tspan></text>
<line x1="309.4" y1="14.6" x2="334.8" y2="14.6" stroke="#000000" stroke-width="1.6"/>
<text x="337.8" y="19.7" font-size="11">10<tspan font-size="7" dx="0.9" dy="-6.8">12</tspan></text>
<line x1="309.4" y1="30.9" x2="334.8" y2="30.9" stroke="#e01010" stroke-width="1.6"/>
<text x="337.8" y="36.0" font-size="11">10<tspan font-size="7" dx="0.9" dy="-6.8">13</tspan></text>
<line x1="309.4" y1="47.0" x2="334.8" y2="47.0" stroke="#10e010" stroke-width="1.6"/>
<text x="337.8" y="52.1" font-size="11">10<tspan font-size="7" dx="0.9" dy="-6.8">14</tspan></text>
<line x1="309.4" y1="63.2" x2="334.8" y2="63.2" stroke="#1010d0" stroke-width="1.6"/>
<text x="337.8" y="68.3" font-size="11">10<tspan font-size="7" dx="0.9" dy="-6.8">15</tspan></text>
<line x1="309.4" y1="79.2" x2="334.8" y2="79.2" stroke="#20eeee" stroke-width="1.6"/>
<text x="337.8" y="84.3" font-size="11">10<tspan font-size="7" dx="0.9" dy="-6.8">16</tspan></text>
<line x1="40.8" y1="223.0" x2="66.4" y2="223.0" stroke="#000000" stroke-width="1.6"/>
<text x="69.8" y="228.1" font-size="11">10<tspan font-size="7" dx="0.9" dy="-6.8">12</tspan></text>
<line x1="40.8" y1="239.4" x2="66.4" y2="239.4" stroke="#e01010" stroke-width="1.6"/>
<text x="69.8" y="244.5" font-size="11">10<tspan font-size="7" dx="0.9" dy="-6.8">13</tspan></text>
<line x1="40.8" y1="255.5" x2="66.4" y2="255.5" stroke="#10e010" stroke-width="1.6"/>
<text x="69.8" y="260.6" font-size="11">10<tspan font-size="7" dx="0.9" dy="-6.8">14</tspan></text>
<line x1="40.8" y1="271.7" x2="66.4" y2="271.7" stroke="#1010d0" stroke-width="1.6"/>
<text x="69.8" y="276.8" font-size="11">10<tspan font-size="7" dx="0.9" dy="-6.8">15</tspan></text>
<line x1="40.8" y1="287.5" x2="66.4" y2="287.5" stroke="#20eeee" stroke-width="1.6"/>
<text x="69.8" y="292.6" font-size="11">10<tspan font-size="7" dx="0.9" dy="-6.8">16</tspan></text>
<line x1="308.8" y1="222.0" x2="334.4" y2="222.0" stroke="#000000" stroke-width="1.6"/>
<text x="337.0" y="227.1" font-size="11">20 KeV 10<tspan font-size="7" dx="0.9" dy="-6.8">13</tspan></text>
<line x1="308.8" y1="238.2" x2="334.4" y2="238.2" stroke="#e01010" stroke-width="1.6"/>
<text x="337.0" y="243.3" font-size="11">30 KeV 10<tspan font-size="7" dx="0.9" dy="-6.8">13</tspan></text>
<line x1="308.8" y1="254.3" x2="334.4" y2="254.3" stroke="#1010d0" stroke-width="1.6"/>
<text x="337.0" y="259.4" font-size="11">50 KeV 10<tspan font-size="7" dx="0.9" dy="-6.8">13</tspan></text>
<text x="103.2" y="15.6" font-size="10.8" text-anchor="start" >20 KeV</text>
<text x="367.9" y="15.4" font-size="10.8" text-anchor="start" >30 KeV</text>
<text x="113.2" y="227.8" font-size="10.8" text-anchor="start" >50 KeV</text>
<text x="75.5" y="99.4" font-size="10.5">NV<tspan font-size="7" dx="0.2" dy="-3.4">O</tspan></text>
<text x="137.9" y="36.6" font-size="10.5">NV<tspan font-size="10" dx="-0.6" dy="-4.1">−</tspan></text>
<text x="341.0" y="121.6" font-size="10.5">NV<tspan font-size="7" dx="0.2" dy="-3.4">O</tspan></text>
<text x="399.4" y="58.6" font-size="10.5">NV<tspan font-size="10" dx="-0.6" dy="-4.1">−</tspan></text>
<text x="74.8" y="330.2" font-size="10.5">NV<tspan font-size="7" dx="0.2" dy="-3.4">O</tspan></text>
<text x="135.6" y="260.3" font-size="10.5">NV<tspan font-size="10" dx="-0.6" dy="-4.1">−</tspan></text>
<text x="340.9" y="326.3" font-size="10.5">NV<tspan font-size="7" dx="0.2" dy="-3.4">O</tspan></text>
<text x="404.0" y="261.7" font-size="10.5">NV<tspan font-size="10" dx="-0.6" dy="-4.1">−</tspan></text>
</svg>
</body></html>
